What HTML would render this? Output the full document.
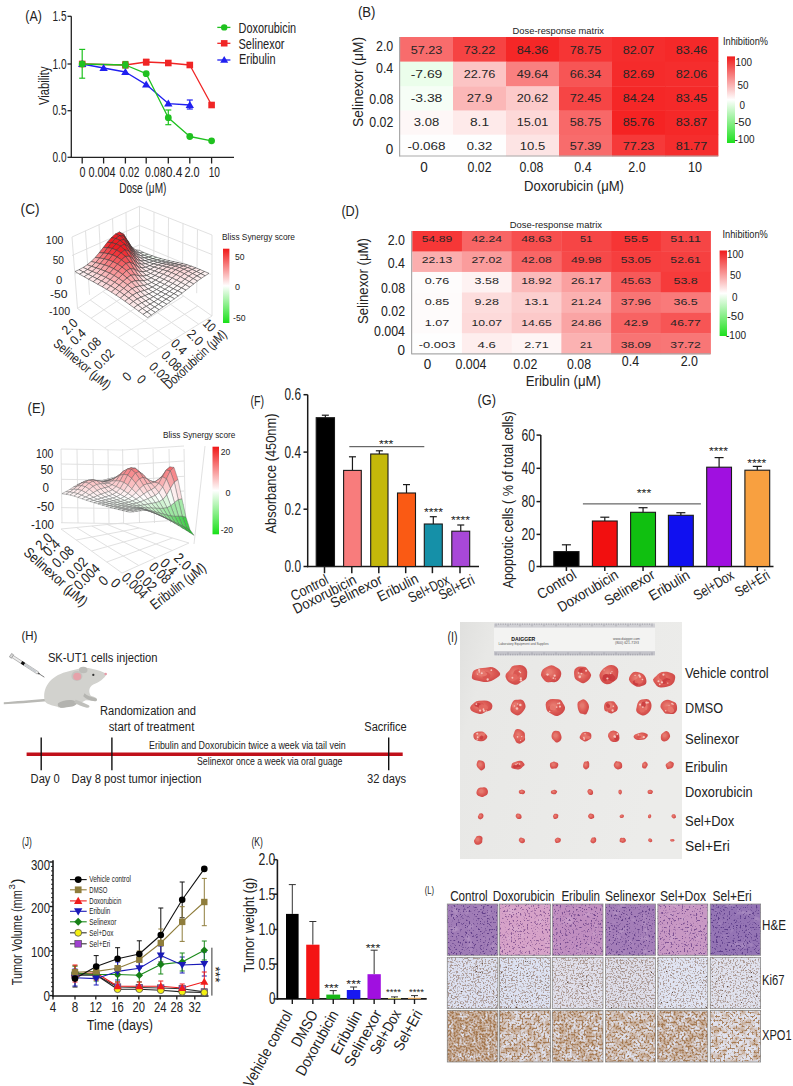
<!DOCTYPE html>
<html><head><meta charset="utf-8"><style>
html,body{margin:0;padding:0;background:#fff;}
svg{display:block;font-family:"Liberation Sans",sans-serif;}
</style></head><body>
<svg width="793" height="1086" viewBox="0 0 793 1086">
<rect width="793" height="1086" fill="#fff"/>
<text x="25.3" y="20.75" font-size="13.81" fill="#222" textLength="16.5" lengthAdjust="spacingAndGlyphs">(A)</text>
<line x1="71.3" y1="16.3" x2="71.3" y2="157.8" stroke="#222" stroke-width="1.3"/>
<line x1="67.5" y1="16.3" x2="71.3" y2="16.3" stroke="#222" stroke-width="1.3"/>
<text x="52.5" y="21.05" font-size="13.81" fill="#222" textLength="14" lengthAdjust="spacingAndGlyphs">1.5</text>
<line x1="67.5" y1="64" x2="71.3" y2="64" stroke="#222" stroke-width="1.3"/>
<text x="52.5" y="68.75" font-size="13.81" fill="#222" textLength="14" lengthAdjust="spacingAndGlyphs">1.0</text>
<line x1="67.5" y1="110.7" x2="71.3" y2="110.7" stroke="#222" stroke-width="1.3"/>
<text x="52.5" y="115.45" font-size="13.81" fill="#222" textLength="14" lengthAdjust="spacingAndGlyphs">0.5</text>
<line x1="67.5" y1="157.3" x2="71.3" y2="157.3" stroke="#222" stroke-width="1.3"/>
<text x="52.5" y="162.05" font-size="13.81" fill="#222" textLength="14" lengthAdjust="spacingAndGlyphs">0.0</text>
<line x1="70.7" y1="157.3" x2="234" y2="157.3" stroke="#222" stroke-width="1.3"/>
<line x1="82.2" y1="157.3" x2="82.2" y2="163.5" stroke="#222" stroke-width="1.3"/>
<line x1="103.6" y1="157.3" x2="103.6" y2="163.5" stroke="#222" stroke-width="1.3"/>
<line x1="125.4" y1="157.3" x2="125.4" y2="163.5" stroke="#222" stroke-width="1.3"/>
<line x1="146.2" y1="157.3" x2="146.2" y2="163.5" stroke="#222" stroke-width="1.3"/>
<line x1="168.3" y1="157.3" x2="168.3" y2="163.5" stroke="#222" stroke-width="1.3"/>
<line x1="189.8" y1="157.3" x2="189.8" y2="163.5" stroke="#222" stroke-width="1.3"/>
<line x1="211.6" y1="157.3" x2="211.6" y2="163.5" stroke="#222" stroke-width="1.3"/>
<text x="79.5" y="177.3" font-size="14.24" fill="#222" textLength="6" lengthAdjust="spacingAndGlyphs">0</text>
<text x="88.4" y="177.3" font-size="14.24" fill="#222" textLength="27.2" lengthAdjust="spacingAndGlyphs">0.004</text>
<text x="119.5" y="177.3" font-size="14.24" fill="#222" textLength="19.9" lengthAdjust="spacingAndGlyphs">0.02</text>
<text x="145.1" y="177.3" font-size="14.24" fill="#222" textLength="20.4" lengthAdjust="spacingAndGlyphs">0.08</text>
<text x="165.8" y="177.3" font-size="14.24" fill="#222" textLength="16.8" lengthAdjust="spacingAndGlyphs">0.4</text>
<text x="184.4" y="177.3" font-size="14.24" fill="#222" textLength="15.2" lengthAdjust="spacingAndGlyphs">2.0</text>
<text x="208.7" y="177.3" font-size="14.24" fill="#222" textLength="11.3" lengthAdjust="spacingAndGlyphs">10</text>
<text x="119.2" y="192.55" font-size="13.81" fill="#222" textLength="47.2" lengthAdjust="spacingAndGlyphs">Dose (μM)</text>
<text x="44.6" y="90.45" font-size="13.81" fill="#222" text-anchor="middle" textLength="38.5" lengthAdjust="spacingAndGlyphs" transform="rotate(-90 44.6 85.7)">Viability</text>
<polyline points="82.2,64 125.4,65 146.2,62 168.3,63 189.8,65 211.6,105" fill="none" stroke="#f02525" stroke-width="1.3" stroke-linejoin="round"/>
<polyline points="82.2,64 103.6,68 125.4,72 146.2,84.6 168.3,103.6 189.8,105" fill="none" stroke="#2020f0" stroke-width="1.3" stroke-linejoin="round"/>
<polyline points="82.2,64 125.4,65 146.2,73.7 168.3,117.7 189.8,136.5 211.6,140.8" fill="none" stroke="#1fc11f" stroke-width="1.3" stroke-linejoin="round"/>
<line x1="82.2" y1="49.4" x2="82.2" y2="78.2" stroke="#1fc11f" stroke-width="1.2"/>
<line x1="79.2" y1="49.4" x2="85.2" y2="49.4" stroke="#1fc11f" stroke-width="1.2"/>
<line x1="79.2" y1="78.2" x2="85.2" y2="78.2" stroke="#1fc11f" stroke-width="1.2"/>
<line x1="125.4" y1="61.5" x2="125.4" y2="68" stroke="#1fc11f" stroke-width="1.2"/>
<line x1="122.4" y1="61.5" x2="128.4" y2="61.5" stroke="#1fc11f" stroke-width="1.2"/>
<line x1="122.4" y1="68" x2="128.4" y2="68" stroke="#1fc11f" stroke-width="1.2"/>
<line x1="146.2" y1="59.5" x2="146.2" y2="65" stroke="#f02525" stroke-width="1.2"/>
<line x1="143.2" y1="59.5" x2="149.2" y2="59.5" stroke="#f02525" stroke-width="1.2"/>
<line x1="143.2" y1="65" x2="149.2" y2="65" stroke="#f02525" stroke-width="1.2"/>
<line x1="189.8" y1="100" x2="189.8" y2="109" stroke="#2020f0" stroke-width="1.2"/>
<line x1="186.8" y1="100" x2="192.8" y2="100" stroke="#2020f0" stroke-width="1.2"/>
<line x1="186.8" y1="109" x2="192.8" y2="109" stroke="#2020f0" stroke-width="1.2"/>
<line x1="168.3" y1="110" x2="168.3" y2="124.7" stroke="#1fc11f" stroke-width="1.2"/>
<line x1="165.3" y1="110" x2="171.3" y2="110" stroke="#1fc11f" stroke-width="1.2"/>
<line x1="165.3" y1="124.7" x2="171.3" y2="124.7" stroke="#1fc11f" stroke-width="1.2"/>
<rect x="78.9" y="60.7" width="6.6" height="6.6" fill="#f02525"/>
<rect x="122.1" y="61.7" width="6.6" height="6.6" fill="#f02525"/>
<rect x="142.9" y="58.7" width="6.6" height="6.6" fill="#f02525"/>
<rect x="165" y="59.7" width="6.6" height="6.6" fill="#f02525"/>
<rect x="186.5" y="61.7" width="6.6" height="6.6" fill="#f02525"/>
<rect x="208.3" y="101.7" width="6.6" height="6.6" fill="#f02525"/>
<polygon points="82.2,60 86.4,67 78,67" fill="#2020f0" stroke="none" stroke-width="1"/>
<polygon points="103.6,64 107.8,71 99.4,71" fill="#2020f0" stroke="none" stroke-width="1"/>
<polygon points="125.4,68 129.6,75 121.2,75" fill="#2020f0" stroke="none" stroke-width="1"/>
<polygon points="146.2,80.6 150.4,87.6 142,87.6" fill="#2020f0" stroke="none" stroke-width="1"/>
<polygon points="168.3,99.6 172.5,106.6 164.1,106.6" fill="#2020f0" stroke="none" stroke-width="1"/>
<polygon points="189.8,101 194,108 185.6,108" fill="#2020f0" stroke="none" stroke-width="1"/>
<circle cx="82.2" cy="64" r="3.4" fill="#1fc11f" stroke="none" stroke-width="1"/>
<circle cx="125.4" cy="65" r="3.4" fill="#1fc11f" stroke="none" stroke-width="1"/>
<circle cx="146.2" cy="73.7" r="3.4" fill="#1fc11f" stroke="none" stroke-width="1"/>
<circle cx="168.3" cy="117.7" r="3.4" fill="#1fc11f" stroke="none" stroke-width="1"/>
<circle cx="189.8" cy="136.5" r="3.4" fill="#1fc11f" stroke="none" stroke-width="1"/>
<circle cx="211.6" cy="140.8" r="3.4" fill="#1fc11f" stroke="none" stroke-width="1"/>
<line x1="217.3" y1="27.4" x2="230.4" y2="27.4" stroke="#1fc11f" stroke-width="1.3"/>
<circle cx="224.2" cy="27.4" r="3.2" fill="#1fc11f" stroke="none" stroke-width="1"/>
<line x1="217.3" y1="43.3" x2="230.4" y2="43.3" stroke="#f02525" stroke-width="1.3"/>
<rect x="220.9" y="40.1" width="6.6" height="6.4" fill="#f02525"/>
<line x1="217.3" y1="60" x2="230.4" y2="60" stroke="#2020f0" stroke-width="1.3"/>
<polygon points="224.2,56 228.2,62.8 220.2,62.8" fill="#2020f0" stroke="none" stroke-width="1"/>
<text x="238.5" y="33.1" font-size="14.24" fill="#222" textLength="57.7" lengthAdjust="spacingAndGlyphs">Doxorubicin</text>
<text x="238.5" y="48.7" font-size="14.24" fill="#222" textLength="46" lengthAdjust="spacingAndGlyphs">Selinexor</text>
<text x="239" y="63.7" font-size="14.24" fill="#222" textLength="36.5" lengthAdjust="spacingAndGlyphs">Eribulin</text>
<text x="358" y="17" font-size="14.53" fill="#222" textLength="17.5" lengthAdjust="spacingAndGlyphs">(B)</text>
<rect x="400" y="37" width="53.4" height="25" fill="#f86c6c"/>
<rect x="453" y="37" width="53.4" height="25" fill="#f64343"/>
<rect x="506" y="37" width="53.4" height="25" fill="#f52727"/>
<rect x="559" y="37" width="53.4" height="25" fill="#f63535"/>
<rect x="612" y="37" width="53.4" height="25" fill="#f52d2d"/>
<rect x="665" y="37" width="53.4" height="25" fill="#f52929"/>
<rect x="400" y="61.6" width="53.4" height="25.1" fill="#ebfeeb"/>
<rect x="453" y="61.6" width="53.4" height="25.1" fill="#fcc4c4"/>
<rect x="506" y="61.6" width="53.4" height="25.1" fill="#f98080"/>
<rect x="559" y="61.6" width="53.4" height="25.1" fill="#f75555"/>
<rect x="612" y="61.6" width="53.4" height="25.1" fill="#f52b2b"/>
<rect x="665" y="61.6" width="53.4" height="25.1" fill="#f52d2d"/>
<rect x="400" y="86.3" width="53.4" height="24.6" fill="#f6fef6"/>
<rect x="453" y="86.3" width="53.4" height="24.6" fill="#fbb7b7"/>
<rect x="506" y="86.3" width="53.4" height="24.6" fill="#fccaca"/>
<rect x="559" y="86.3" width="53.4" height="24.6" fill="#f64545"/>
<rect x="612" y="86.3" width="53.4" height="24.6" fill="#f52727"/>
<rect x="665" y="86.3" width="53.4" height="24.6" fill="#f52929"/>
<rect x="400" y="110.5" width="53.4" height="24.6" fill="#fef7f7"/>
<rect x="453" y="110.5" width="53.4" height="24.6" fill="#feeaea"/>
<rect x="506" y="110.5" width="53.4" height="24.6" fill="#fdd8d8"/>
<rect x="559" y="110.5" width="53.4" height="24.6" fill="#f86868"/>
<rect x="612" y="110.5" width="53.4" height="24.6" fill="#f52323"/>
<rect x="665" y="110.5" width="53.4" height="24.6" fill="#f52828"/>
<rect x="400" y="134.7" width="53.4" height="21.7" fill="#fefefe"/>
<rect x="453" y="134.7" width="53.4" height="21.7" fill="#fefefe"/>
<rect x="506" y="134.7" width="53.4" height="21.7" fill="#fde4e4"/>
<rect x="559" y="134.7" width="53.4" height="21.7" fill="#f86c6c"/>
<rect x="612" y="134.7" width="53.4" height="21.7" fill="#f63939"/>
<rect x="665" y="134.7" width="53.4" height="21.7" fill="#f52d2d"/>
<text x="426.5" y="53.8" font-size="10" fill="#262626" text-anchor="middle" textLength="31.75" lengthAdjust="spacingAndGlyphs">57.23</text>
<text x="479.5" y="53.8" font-size="10" fill="#262626" text-anchor="middle" textLength="31.75" lengthAdjust="spacingAndGlyphs">73.22</text>
<text x="532.5" y="53.8" font-size="10" fill="#262626" text-anchor="middle" textLength="31.75" lengthAdjust="spacingAndGlyphs">84.36</text>
<text x="585.5" y="53.8" font-size="10" fill="#262626" text-anchor="middle" textLength="31.75" lengthAdjust="spacingAndGlyphs">78.75</text>
<text x="638.5" y="53.8" font-size="10" fill="#262626" text-anchor="middle" textLength="31.75" lengthAdjust="spacingAndGlyphs">82.07</text>
<text x="691.5" y="53.8" font-size="10" fill="#262626" text-anchor="middle" textLength="31.75" lengthAdjust="spacingAndGlyphs">83.46</text>
<text x="426.5" y="77.9" font-size="10" fill="#262626" text-anchor="middle" textLength="31.75" lengthAdjust="spacingAndGlyphs">-7.69</text>
<text x="479.5" y="77.9" font-size="10" fill="#262626" text-anchor="middle" textLength="31.75" lengthAdjust="spacingAndGlyphs">22.76</text>
<text x="532.5" y="77.9" font-size="10" fill="#262626" text-anchor="middle" textLength="31.75" lengthAdjust="spacingAndGlyphs">49.64</text>
<text x="585.5" y="77.9" font-size="10" fill="#262626" text-anchor="middle" textLength="31.75" lengthAdjust="spacingAndGlyphs">66.34</text>
<text x="638.5" y="77.9" font-size="10" fill="#262626" text-anchor="middle" textLength="31.75" lengthAdjust="spacingAndGlyphs">82.69</text>
<text x="691.5" y="77.9" font-size="10" fill="#262626" text-anchor="middle" textLength="31.75" lengthAdjust="spacingAndGlyphs">82.06</text>
<text x="426.5" y="102" font-size="10" fill="#262626" text-anchor="middle" textLength="31.75" lengthAdjust="spacingAndGlyphs">-3.38</text>
<text x="479.5" y="102" font-size="10" fill="#262626" text-anchor="middle" textLength="25.4" lengthAdjust="spacingAndGlyphs">27.9</text>
<text x="532.5" y="102" font-size="10" fill="#262626" text-anchor="middle" textLength="31.75" lengthAdjust="spacingAndGlyphs">20.62</text>
<text x="585.5" y="102" font-size="10" fill="#262626" text-anchor="middle" textLength="31.75" lengthAdjust="spacingAndGlyphs">72.45</text>
<text x="638.5" y="102" font-size="10" fill="#262626" text-anchor="middle" textLength="31.75" lengthAdjust="spacingAndGlyphs">84.24</text>
<text x="691.5" y="102" font-size="10" fill="#262626" text-anchor="middle" textLength="31.75" lengthAdjust="spacingAndGlyphs">83.45</text>
<text x="426.5" y="126.1" font-size="10" fill="#262626" text-anchor="middle" textLength="25.4" lengthAdjust="spacingAndGlyphs">3.08</text>
<text x="479.5" y="126.1" font-size="10" fill="#262626" text-anchor="middle" textLength="19.05" lengthAdjust="spacingAndGlyphs">8.1</text>
<text x="532.5" y="126.1" font-size="10" fill="#262626" text-anchor="middle" textLength="31.75" lengthAdjust="spacingAndGlyphs">15.01</text>
<text x="585.5" y="126.1" font-size="10" fill="#262626" text-anchor="middle" textLength="31.75" lengthAdjust="spacingAndGlyphs">58.75</text>
<text x="638.5" y="126.1" font-size="10" fill="#262626" text-anchor="middle" textLength="31.75" lengthAdjust="spacingAndGlyphs">85.76</text>
<text x="691.5" y="126.1" font-size="10" fill="#262626" text-anchor="middle" textLength="31.75" lengthAdjust="spacingAndGlyphs">83.87</text>
<text x="426.5" y="150.2" font-size="10" fill="#262626" text-anchor="middle" textLength="38.1" lengthAdjust="spacingAndGlyphs">-0.068</text>
<text x="479.5" y="150.2" font-size="10" fill="#262626" text-anchor="middle" textLength="25.4" lengthAdjust="spacingAndGlyphs">0.32</text>
<text x="532.5" y="150.2" font-size="10" fill="#262626" text-anchor="middle" textLength="25.4" lengthAdjust="spacingAndGlyphs">10.5</text>
<text x="585.5" y="150.2" font-size="10" fill="#262626" text-anchor="middle" textLength="31.75" lengthAdjust="spacingAndGlyphs">57.39</text>
<text x="638.5" y="150.2" font-size="10" fill="#262626" text-anchor="middle" textLength="31.75" lengthAdjust="spacingAndGlyphs">77.23</text>
<text x="691.5" y="150.2" font-size="10" fill="#262626" text-anchor="middle" textLength="31.75" lengthAdjust="spacingAndGlyphs">81.77</text>
<line x1="399.6" y1="37" x2="399.6" y2="156.5" stroke="#aaa" stroke-width="1.2"/>
<line x1="399.6" y1="156" x2="718" y2="156" stroke="#aaa" stroke-width="1.2"/>
<text x="376" y="51" font-size="15.12" fill="#222" textLength="17.3" lengthAdjust="spacingAndGlyphs">2.0</text>
<text x="376" y="73.2" font-size="15.12" fill="#222" textLength="17.3" lengthAdjust="spacingAndGlyphs">0.4</text>
<text x="369.3" y="103.5" font-size="15.12" fill="#222" textLength="24" lengthAdjust="spacingAndGlyphs">0.08</text>
<text x="369.3" y="126.6" font-size="15.12" fill="#222" textLength="24" lengthAdjust="spacingAndGlyphs">0.02</text>
<text x="385.8" y="154.2" font-size="15.12" fill="#222" textLength="7.5" lengthAdjust="spacingAndGlyphs">0</text>
<text x="420.25" y="172.2" font-size="15.12" fill="#222" textLength="7.5" lengthAdjust="spacingAndGlyphs">0</text>
<text x="467.6" y="172.2" font-size="15.12" fill="#222" textLength="24" lengthAdjust="spacingAndGlyphs">0.02</text>
<text x="519.4" y="172.2" font-size="15.12" fill="#222" textLength="24" lengthAdjust="spacingAndGlyphs">0.08</text>
<text x="574.35" y="172.2" font-size="15.12" fill="#222" textLength="17.3" lengthAdjust="spacingAndGlyphs">0.4</text>
<text x="628.35" y="172.2" font-size="15.12" fill="#222" textLength="17.3" lengthAdjust="spacingAndGlyphs">2.0</text>
<text x="688" y="172.2" font-size="15.12" fill="#222" textLength="14" lengthAdjust="spacingAndGlyphs">10</text>
<text x="524" y="191.1" font-size="14.83" fill="#222" textLength="100" lengthAdjust="spacingAndGlyphs">Doxorubicin (μM)</text>
<text x="357.8" y="87.1" font-size="14.83" fill="#222" text-anchor="middle" textLength="90" lengthAdjust="spacingAndGlyphs" transform="rotate(-90 357.8 82)">Selinexor (μM)</text>
<text x="512.6" y="33.5" font-size="9.59" fill="#222" textLength="91.4" lengthAdjust="spacingAndGlyphs">Dose-response matrix</text>
<text x="723" y="44.5" font-size="10.76" fill="#222" textLength="45" lengthAdjust="spacingAndGlyphs">Inhibition%</text>
<defs><linearGradient id="cbB" x1="0" y1="0" x2="0" y2="1"><stop offset="0" stop-color="#f01c1c"/><stop offset="0.5" stop-color="#ffffff"/><stop offset="1" stop-color="#1ee01e"/></linearGradient></defs>
<rect x="727" y="56.4" width="8" height="86.6" fill="url(#cbB)"/>
<text x="735.4" y="66.1" font-size="11.05" fill="#222" textLength="16.5" lengthAdjust="spacingAndGlyphs">100</text>
<text x="737.5" y="88.8" font-size="11.05" fill="#222" textLength="11" lengthAdjust="spacingAndGlyphs">50</text>
<text x="739.5" y="108.5" font-size="11.05" fill="#222" textLength="5.5" lengthAdjust="spacingAndGlyphs">0</text>
<text x="734.5" y="126.2" font-size="11.05" fill="#222" textLength="16.5" lengthAdjust="spacingAndGlyphs">-50</text>
<text x="734.5" y="143.2" font-size="11.05" fill="#222" textLength="20" lengthAdjust="spacingAndGlyphs">-100</text>
<text x="341.4" y="216.2" font-size="14.53" fill="#222" textLength="17.6" lengthAdjust="spacingAndGlyphs">(D)</text>
<rect x="412.2" y="231" width="50.12" height="20.87" fill="#f63737"/>
<rect x="461.92" y="231" width="50.12" height="20.87" fill="#f86565"/>
<rect x="511.63" y="231" width="50.12" height="20.87" fill="#f74e4e"/>
<rect x="561.35" y="231" width="50.12" height="20.87" fill="#f64545"/>
<rect x="611.07" y="231" width="50.12" height="20.87" fill="#f63535"/>
<rect x="660.78" y="231" width="50.12" height="20.87" fill="#f64545"/>
<rect x="412.2" y="251.47" width="50.12" height="20.87" fill="#fbaeae"/>
<rect x="461.92" y="251.47" width="50.12" height="20.87" fill="#fa9c9c"/>
<rect x="511.63" y="251.47" width="50.12" height="20.87" fill="#f86666"/>
<rect x="561.35" y="251.47" width="50.12" height="20.87" fill="#f64949"/>
<rect x="611.07" y="251.47" width="50.12" height="20.87" fill="#f63e3e"/>
<rect x="660.78" y="251.47" width="50.12" height="20.87" fill="#f64040"/>
<rect x="412.2" y="271.94" width="50.12" height="20.87" fill="#fefcfc"/>
<rect x="461.92" y="271.94" width="50.12" height="20.87" fill="#fef2f2"/>
<rect x="511.63" y="271.94" width="50.12" height="20.87" fill="#fbbaba"/>
<rect x="561.35" y="271.94" width="50.12" height="20.87" fill="#faa0a0"/>
<rect x="611.07" y="271.94" width="50.12" height="20.87" fill="#f75959"/>
<rect x="660.78" y="271.94" width="50.12" height="20.87" fill="#f63b3b"/>
<rect x="412.2" y="292.41" width="50.12" height="20.87" fill="#fefbfb"/>
<rect x="461.92" y="292.41" width="50.12" height="20.87" fill="#fddddd"/>
<rect x="511.63" y="292.41" width="50.12" height="20.87" fill="#fccfcf"/>
<rect x="561.35" y="292.41" width="50.12" height="20.87" fill="#fbb1b1"/>
<rect x="611.07" y="292.41" width="50.12" height="20.87" fill="#f87575"/>
<rect x="660.78" y="292.41" width="50.12" height="20.87" fill="#f97a7a"/>
<rect x="412.2" y="312.88" width="50.12" height="20.87" fill="#fefbfb"/>
<rect x="461.92" y="312.88" width="50.12" height="20.87" fill="#fddada"/>
<rect x="511.63" y="312.88" width="50.12" height="20.87" fill="#fcc9c9"/>
<rect x="561.35" y="312.88" width="50.12" height="20.87" fill="#faa4a4"/>
<rect x="611.07" y="312.88" width="50.12" height="20.87" fill="#f86363"/>
<rect x="660.78" y="312.88" width="50.12" height="20.87" fill="#f75555"/>
<rect x="412.2" y="333.35" width="50.12" height="20.87" fill="#fefefe"/>
<rect x="461.92" y="333.35" width="50.12" height="20.87" fill="#feeeee"/>
<rect x="511.63" y="333.35" width="50.12" height="20.87" fill="#fef5f5"/>
<rect x="561.35" y="333.35" width="50.12" height="20.87" fill="#fbb2b2"/>
<rect x="611.07" y="333.35" width="50.12" height="20.87" fill="#f87474"/>
<rect x="660.78" y="333.35" width="50.12" height="20.87" fill="#f87676"/>
<text x="437.06" y="241.75" font-size="9.86" fill="#262626" text-anchor="middle" textLength="30.5" lengthAdjust="spacingAndGlyphs">54.89</text>
<text x="486.77" y="241.75" font-size="9.86" fill="#262626" text-anchor="middle" textLength="30.5" lengthAdjust="spacingAndGlyphs">42.24</text>
<text x="536.49" y="241.75" font-size="9.86" fill="#262626" text-anchor="middle" textLength="30.5" lengthAdjust="spacingAndGlyphs">48.63</text>
<text x="586.21" y="241.75" font-size="9.86" fill="#262626" text-anchor="middle" textLength="12.2" lengthAdjust="spacingAndGlyphs">51</text>
<text x="635.92" y="241.75" font-size="9.86" fill="#262626" text-anchor="middle" textLength="24.4" lengthAdjust="spacingAndGlyphs">55.5</text>
<text x="685.64" y="241.75" font-size="9.86" fill="#262626" text-anchor="middle" textLength="30.5" lengthAdjust="spacingAndGlyphs">51.11</text>
<text x="437.06" y="262.9" font-size="9.86" fill="#262626" text-anchor="middle" textLength="30.5" lengthAdjust="spacingAndGlyphs">22.13</text>
<text x="486.77" y="262.9" font-size="9.86" fill="#262626" text-anchor="middle" textLength="30.5" lengthAdjust="spacingAndGlyphs">27.02</text>
<text x="536.49" y="262.9" font-size="9.86" fill="#262626" text-anchor="middle" textLength="30.5" lengthAdjust="spacingAndGlyphs">42.08</text>
<text x="586.21" y="262.9" font-size="9.86" fill="#262626" text-anchor="middle" textLength="30.5" lengthAdjust="spacingAndGlyphs">49.98</text>
<text x="635.92" y="262.9" font-size="9.86" fill="#262626" text-anchor="middle" textLength="30.5" lengthAdjust="spacingAndGlyphs">53.05</text>
<text x="685.64" y="262.9" font-size="9.86" fill="#262626" text-anchor="middle" textLength="30.5" lengthAdjust="spacingAndGlyphs">52.61</text>
<text x="437.06" y="284.05" font-size="9.86" fill="#262626" text-anchor="middle" textLength="24.4" lengthAdjust="spacingAndGlyphs">0.76</text>
<text x="486.77" y="284.05" font-size="9.86" fill="#262626" text-anchor="middle" textLength="24.4" lengthAdjust="spacingAndGlyphs">3.58</text>
<text x="536.49" y="284.05" font-size="9.86" fill="#262626" text-anchor="middle" textLength="30.5" lengthAdjust="spacingAndGlyphs">18.92</text>
<text x="586.21" y="284.05" font-size="9.86" fill="#262626" text-anchor="middle" textLength="30.5" lengthAdjust="spacingAndGlyphs">26.17</text>
<text x="635.92" y="284.05" font-size="9.86" fill="#262626" text-anchor="middle" textLength="30.5" lengthAdjust="spacingAndGlyphs">45.63</text>
<text x="685.64" y="284.05" font-size="9.86" fill="#262626" text-anchor="middle" textLength="24.4" lengthAdjust="spacingAndGlyphs">53.8</text>
<text x="437.06" y="305.2" font-size="9.86" fill="#262626" text-anchor="middle" textLength="24.4" lengthAdjust="spacingAndGlyphs">0.85</text>
<text x="486.77" y="305.2" font-size="9.86" fill="#262626" text-anchor="middle" textLength="24.4" lengthAdjust="spacingAndGlyphs">9.28</text>
<text x="536.49" y="305.2" font-size="9.86" fill="#262626" text-anchor="middle" textLength="24.4" lengthAdjust="spacingAndGlyphs">13.1</text>
<text x="586.21" y="305.2" font-size="9.86" fill="#262626" text-anchor="middle" textLength="30.5" lengthAdjust="spacingAndGlyphs">21.24</text>
<text x="635.92" y="305.2" font-size="9.86" fill="#262626" text-anchor="middle" textLength="30.5" lengthAdjust="spacingAndGlyphs">37.96</text>
<text x="685.64" y="305.2" font-size="9.86" fill="#262626" text-anchor="middle" textLength="24.4" lengthAdjust="spacingAndGlyphs">36.5</text>
<text x="437.06" y="326.35" font-size="9.86" fill="#262626" text-anchor="middle" textLength="24.4" lengthAdjust="spacingAndGlyphs">1.07</text>
<text x="486.77" y="326.35" font-size="9.86" fill="#262626" text-anchor="middle" textLength="30.5" lengthAdjust="spacingAndGlyphs">10.07</text>
<text x="536.49" y="326.35" font-size="9.86" fill="#262626" text-anchor="middle" textLength="30.5" lengthAdjust="spacingAndGlyphs">14.65</text>
<text x="586.21" y="326.35" font-size="9.86" fill="#262626" text-anchor="middle" textLength="30.5" lengthAdjust="spacingAndGlyphs">24.86</text>
<text x="635.92" y="326.35" font-size="9.86" fill="#262626" text-anchor="middle" textLength="24.4" lengthAdjust="spacingAndGlyphs">42.9</text>
<text x="685.64" y="326.35" font-size="9.86" fill="#262626" text-anchor="middle" textLength="30.5" lengthAdjust="spacingAndGlyphs">46.77</text>
<text x="437.06" y="347.5" font-size="9.86" fill="#262626" text-anchor="middle" textLength="36.6" lengthAdjust="spacingAndGlyphs">-0.003</text>
<text x="486.77" y="347.5" font-size="9.86" fill="#262626" text-anchor="middle" textLength="18.3" lengthAdjust="spacingAndGlyphs">4.6</text>
<text x="536.49" y="347.5" font-size="9.86" fill="#262626" text-anchor="middle" textLength="24.4" lengthAdjust="spacingAndGlyphs">2.71</text>
<text x="586.21" y="347.5" font-size="9.86" fill="#262626" text-anchor="middle" textLength="12.2" lengthAdjust="spacingAndGlyphs">21</text>
<text x="635.92" y="347.5" font-size="9.86" fill="#262626" text-anchor="middle" textLength="30.5" lengthAdjust="spacingAndGlyphs">38.09</text>
<text x="685.64" y="347.5" font-size="9.86" fill="#262626" text-anchor="middle" textLength="30.5" lengthAdjust="spacingAndGlyphs">37.72</text>
<line x1="411.6" y1="231" x2="411.6" y2="354.3" stroke="#aaa" stroke-width="1.2"/>
<line x1="411.6" y1="353.8" x2="710.5" y2="353.8" stroke="#aaa" stroke-width="1.2"/>
<text x="387.7" y="245.4" font-size="15.12" fill="#222" textLength="17.3" lengthAdjust="spacingAndGlyphs">2.0</text>
<text x="387.7" y="267.6" font-size="15.12" fill="#222" textLength="17.3" lengthAdjust="spacingAndGlyphs">0.4</text>
<text x="381" y="292.6" font-size="15.12" fill="#222" textLength="24" lengthAdjust="spacingAndGlyphs">0.08</text>
<text x="381" y="316" font-size="15.12" fill="#222" textLength="24" lengthAdjust="spacingAndGlyphs">0.02</text>
<text x="374" y="336.2" font-size="15.12" fill="#222" textLength="31" lengthAdjust="spacingAndGlyphs">0.004</text>
<text x="397.5" y="354.8" font-size="15.12" fill="#222" textLength="7.5" lengthAdjust="spacingAndGlyphs">0</text>
<text x="423.65" y="368.7" font-size="15.12" fill="#222" textLength="7.5" lengthAdjust="spacingAndGlyphs">0</text>
<text x="455.5" y="368.7" font-size="15.12" fill="#222" textLength="31" lengthAdjust="spacingAndGlyphs">0.004</text>
<text x="513.3" y="368.7" font-size="15.12" fill="#222" textLength="24" lengthAdjust="spacingAndGlyphs">0.02</text>
<text x="567" y="368.7" font-size="15.12" fill="#222" textLength="24" lengthAdjust="spacingAndGlyphs">0.08</text>
<text x="621.85" y="365.7" font-size="15.12" fill="#222" textLength="17.3" lengthAdjust="spacingAndGlyphs">0.4</text>
<text x="680.65" y="365.7" font-size="15.12" fill="#222" textLength="17.3" lengthAdjust="spacingAndGlyphs">2.0</text>
<text x="525.7" y="386.1" font-size="14.83" fill="#222" textLength="75.3" lengthAdjust="spacingAndGlyphs">Eribulin (μM)</text>
<text x="362.9" y="286.1" font-size="14.83" fill="#222" text-anchor="middle" textLength="86" lengthAdjust="spacingAndGlyphs" transform="rotate(-90 362.9 281)">Selinexor (μM)</text>
<text x="509.8" y="227.7" font-size="9.59" fill="#222" textLength="92.2" lengthAdjust="spacingAndGlyphs">Dose-response matrix</text>
<text x="722.5" y="237.7" font-size="10.76" fill="#222" textLength="45.3" lengthAdjust="spacingAndGlyphs">Inhibition%</text>
<defs><linearGradient id="cbD" x1="0" y1="0" x2="0" y2="1"><stop offset="0" stop-color="#f01c1c"/><stop offset="0.5" stop-color="#ffffff"/><stop offset="1" stop-color="#1ee01e"/></linearGradient></defs>
<rect x="719.6" y="250.5" width="7.4" height="85.5" fill="url(#cbD)"/>
<text x="727" y="258.2" font-size="11.05" fill="#222" textLength="16.5" lengthAdjust="spacingAndGlyphs">100</text>
<text x="730" y="278.8" font-size="11.05" fill="#222" textLength="11" lengthAdjust="spacingAndGlyphs">50</text>
<text x="732" y="301.1" font-size="11.05" fill="#222" textLength="5.5" lengthAdjust="spacingAndGlyphs">0</text>
<text x="727" y="319.7" font-size="11.05" fill="#222" textLength="16.5" lengthAdjust="spacingAndGlyphs">-50</text>
<text x="726" y="338.5" font-size="11.05" fill="#222" textLength="20" lengthAdjust="spacingAndGlyphs">-100</text>
<text x="250.5" y="405.75" font-size="13.81" fill="#222" textLength="13.7" lengthAdjust="spacingAndGlyphs">(F)</text>
<line x1="307.7" y1="394.7" x2="307.7" y2="567.2" stroke="#1a1a1a" stroke-width="1.5"/>
<line x1="303.5" y1="394.7" x2="307.7" y2="394.7" stroke="#1a1a1a" stroke-width="1.5"/>
<text x="284.5" y="400.1" font-size="15.7" fill="#222" textLength="16.5" lengthAdjust="spacingAndGlyphs">0.6</text>
<line x1="303.5" y1="452.1" x2="307.7" y2="452.1" stroke="#1a1a1a" stroke-width="1.5"/>
<text x="284.5" y="457.5" font-size="15.7" fill="#222" textLength="16.5" lengthAdjust="spacingAndGlyphs">0.4</text>
<line x1="303.5" y1="509.2" x2="307.7" y2="509.2" stroke="#1a1a1a" stroke-width="1.5"/>
<text x="284.5" y="514.6" font-size="15.7" fill="#222" textLength="16.5" lengthAdjust="spacingAndGlyphs">0.2</text>
<line x1="303.5" y1="566.5" x2="307.7" y2="566.5" stroke="#1a1a1a" stroke-width="1.5"/>
<text x="284.5" y="571.9" font-size="15.7" fill="#222" textLength="16.5" lengthAdjust="spacingAndGlyphs">0.0</text>
<line x1="307" y1="566.5" x2="479" y2="566.5" stroke="#1a1a1a" stroke-width="1.5"/>
<line x1="325.35" y1="417.7" x2="325.35" y2="415.2" stroke="#1a1a1a" stroke-width="1.2"/>
<line x1="321.85" y1="415.2" x2="328.85" y2="415.2" stroke="#1a1a1a" stroke-width="1.2"/>
<rect x="316.2" y="417.7" width="18.3" height="148.8" fill="#000000" stroke="#1a1a1a" stroke-width="1.1"/>
<line x1="352.45" y1="470.4" x2="352.45" y2="456.8" stroke="#1a1a1a" stroke-width="1.2"/>
<line x1="348.95" y1="456.8" x2="355.95" y2="456.8" stroke="#1a1a1a" stroke-width="1.2"/>
<rect x="343.6" y="470.4" width="17.7" height="96.1" fill="#f87c7c" stroke="#1a1a1a" stroke-width="1.1"/>
<line x1="379.35" y1="454" x2="379.35" y2="450.8" stroke="#1a1a1a" stroke-width="1.2"/>
<line x1="375.85" y1="450.8" x2="382.85" y2="450.8" stroke="#1a1a1a" stroke-width="1.2"/>
<rect x="370.7" y="454" width="17.3" height="112.5" fill="#c4b80a" stroke="#1a1a1a" stroke-width="1.1"/>
<line x1="406.5" y1="493" x2="406.5" y2="484.6" stroke="#1a1a1a" stroke-width="1.2"/>
<line x1="403" y1="484.6" x2="410" y2="484.6" stroke="#1a1a1a" stroke-width="1.2"/>
<rect x="397.5" y="493" width="18" height="73.5" fill="#fa5a14" stroke="#1a1a1a" stroke-width="1.1"/>
<line x1="433.3" y1="524" x2="433.3" y2="516.7" stroke="#1a1a1a" stroke-width="1.2"/>
<line x1="429.8" y1="516.7" x2="436.8" y2="516.7" stroke="#1a1a1a" stroke-width="1.2"/>
<rect x="424.3" y="524" width="18" height="42.5" fill="#1590a8" stroke="#1a1a1a" stroke-width="1.1"/>
<line x1="460.75" y1="531.2" x2="460.75" y2="525" stroke="#1a1a1a" stroke-width="1.2"/>
<line x1="457.25" y1="525" x2="464.25" y2="525" stroke="#1a1a1a" stroke-width="1.2"/>
<rect x="451.8" y="531.2" width="17.9" height="35.3" fill="#a848d8" stroke="#1a1a1a" stroke-width="1.1"/>
<line x1="324.5" y1="566.5" x2="324.5" y2="573.2" stroke="#1a1a1a" stroke-width="1.5"/>
<line x1="351.8" y1="566.5" x2="351.8" y2="573.2" stroke="#1a1a1a" stroke-width="1.5"/>
<line x1="378.8" y1="566.5" x2="378.8" y2="573.2" stroke="#1a1a1a" stroke-width="1.5"/>
<line x1="405.7" y1="566.5" x2="405.7" y2="573.2" stroke="#1a1a1a" stroke-width="1.5"/>
<line x1="432.4" y1="566.5" x2="432.4" y2="573.2" stroke="#1a1a1a" stroke-width="1.5"/>
<line x1="460" y1="566.5" x2="460" y2="573.2" stroke="#1a1a1a" stroke-width="1.5"/>
<line x1="349.3" y1="446.7" x2="424.3" y2="446.7" stroke="#444" stroke-width="1"/>
<text x="386.2" y="448.05" font-size="11.5" fill="#222" text-anchor="middle" textLength="14.5" lengthAdjust="spacingAndGlyphs">***</text>
<text x="433.5" y="516.45" font-size="11.5" fill="#222" text-anchor="middle" textLength="19" lengthAdjust="spacingAndGlyphs">****</text>
<text x="460.6" y="524.05" font-size="11.5" fill="#222" text-anchor="middle" textLength="19" lengthAdjust="spacingAndGlyphs">****</text>
<text x="270.5" y="478.5" font-size="14.53" fill="#222" text-anchor="middle" textLength="120" lengthAdjust="spacingAndGlyphs" transform="rotate(-90 270.5 473.5)">Absorbance (450nm)</text>
<text x="329.5" y="583" font-size="14.53" fill="#222" text-anchor="end" textLength="40" lengthAdjust="spacingAndGlyphs" transform="rotate(-27 329.5 583)">Control</text>
<text x="357.5" y="583" font-size="14.53" fill="#222" text-anchor="end" textLength="69" lengthAdjust="spacingAndGlyphs" transform="rotate(-27 357.5 583)">Doxorubicin</text>
<text x="383.5" y="583" font-size="14.53" fill="#222" text-anchor="end" textLength="56" lengthAdjust="spacingAndGlyphs" transform="rotate(-27 383.5 583)">Selinexor</text>
<text x="419.5" y="582" font-size="14.53" fill="#222" text-anchor="end" textLength="44" lengthAdjust="spacingAndGlyphs" transform="rotate(-27 419.5 582)">Eribulin</text>
<text x="450.5" y="583" font-size="14.53" fill="#222" text-anchor="end" textLength="44" lengthAdjust="spacingAndGlyphs" transform="rotate(-27 450.5 583)">Sel+Dox</text>
<text x="475.5" y="583" font-size="14.53" fill="#222" text-anchor="end" textLength="38" lengthAdjust="spacingAndGlyphs" transform="rotate(-27 475.5 583)">Sel+Eri</text>
<text x="477.6" y="404.75" font-size="13.81" fill="#222" textLength="18.4" lengthAdjust="spacingAndGlyphs">(G)</text>
<line x1="540.8" y1="435.1" x2="540.8" y2="567.2" stroke="#1a1a1a" stroke-width="1.5"/>
<line x1="536.5" y1="435.1" x2="540.8" y2="435.1" stroke="#1a1a1a" stroke-width="1.5"/>
<text x="521.5" y="440.5" font-size="15.7" fill="#222" textLength="13.5" lengthAdjust="spacingAndGlyphs">60</text>
<line x1="536.5" y1="468.3" x2="540.8" y2="468.3" stroke="#1a1a1a" stroke-width="1.5"/>
<text x="521.5" y="473.7" font-size="15.7" fill="#222" textLength="13.5" lengthAdjust="spacingAndGlyphs">40</text>
<line x1="536.5" y1="501.6" x2="540.8" y2="501.6" stroke="#1a1a1a" stroke-width="1.5"/>
<text x="521.5" y="507" font-size="15.7" fill="#222" textLength="13.5" lengthAdjust="spacingAndGlyphs">80</text>
<line x1="536.5" y1="534.4" x2="540.8" y2="534.4" stroke="#1a1a1a" stroke-width="1.5"/>
<text x="521.5" y="539.8" font-size="15.7" fill="#222" textLength="13.5" lengthAdjust="spacingAndGlyphs">20</text>
<line x1="536.5" y1="566.5" x2="540.8" y2="566.5" stroke="#1a1a1a" stroke-width="1.5"/>
<text x="528.2" y="571.9" font-size="15.7" fill="#222" textLength="6.8" lengthAdjust="spacingAndGlyphs">0</text>
<line x1="540" y1="566.5" x2="773.5" y2="566.5" stroke="#1a1a1a" stroke-width="1.5"/>
<line x1="566.4" y1="551.6" x2="566.4" y2="544.8" stroke="#1a1a1a" stroke-width="1.2"/>
<line x1="561.9" y1="544.8" x2="570.9" y2="544.8" stroke="#1a1a1a" stroke-width="1.2"/>
<rect x="553.8" y="551.6" width="25.2" height="14.9" fill="#000000" stroke="#1a1a1a" stroke-width="1.1"/>
<line x1="566.4" y1="566.5" x2="566.4" y2="571" stroke="#1a1a1a" stroke-width="1.5"/>
<line x1="604.8" y1="521" x2="604.8" y2="517.2" stroke="#1a1a1a" stroke-width="1.2"/>
<line x1="600.3" y1="517.2" x2="609.3" y2="517.2" stroke="#1a1a1a" stroke-width="1.2"/>
<rect x="592.4" y="521" width="24.8" height="45.5" fill="#f20f0f" stroke="#1a1a1a" stroke-width="1.1"/>
<line x1="604.8" y1="566.5" x2="604.8" y2="571" stroke="#1a1a1a" stroke-width="1.5"/>
<line x1="643.05" y1="512.3" x2="643.05" y2="507.7" stroke="#1a1a1a" stroke-width="1.2"/>
<line x1="638.55" y1="507.7" x2="647.55" y2="507.7" stroke="#1a1a1a" stroke-width="1.2"/>
<rect x="630.6" y="512.3" width="24.9" height="54.2" fill="#10c010" stroke="#1a1a1a" stroke-width="1.1"/>
<line x1="643.05" y1="566.5" x2="643.05" y2="571" stroke="#1a1a1a" stroke-width="1.5"/>
<line x1="680.85" y1="515.3" x2="680.85" y2="512.7" stroke="#1a1a1a" stroke-width="1.2"/>
<line x1="676.35" y1="512.7" x2="685.35" y2="512.7" stroke="#1a1a1a" stroke-width="1.2"/>
<rect x="668.4" y="515.3" width="24.9" height="51.2" fill="#1010f0" stroke="#1a1a1a" stroke-width="1.1"/>
<line x1="680.85" y1="566.5" x2="680.85" y2="571" stroke="#1a1a1a" stroke-width="1.5"/>
<line x1="719.1" y1="467.2" x2="719.1" y2="457.6" stroke="#1a1a1a" stroke-width="1.2"/>
<line x1="714.6" y1="457.6" x2="723.6" y2="457.6" stroke="#1a1a1a" stroke-width="1.2"/>
<rect x="706.7" y="467.2" width="24.8" height="99.3" fill="#a010e0" stroke="#1a1a1a" stroke-width="1.1"/>
<line x1="719.1" y1="566.5" x2="719.1" y2="571" stroke="#1a1a1a" stroke-width="1.5"/>
<line x1="757.3" y1="470.2" x2="757.3" y2="466.4" stroke="#1a1a1a" stroke-width="1.2"/>
<line x1="752.8" y1="466.4" x2="761.8" y2="466.4" stroke="#1a1a1a" stroke-width="1.2"/>
<rect x="744.9" y="470.2" width="24.8" height="96.3" fill="#f8a040" stroke="#1a1a1a" stroke-width="1.1"/>
<line x1="757.3" y1="566.5" x2="757.3" y2="571" stroke="#1a1a1a" stroke-width="1.5"/>
<line x1="582.9" y1="503.9" x2="700.9" y2="503.9" stroke="#444" stroke-width="1"/>
<text x="644" y="497.05" font-size="11.5" fill="#222" text-anchor="middle" textLength="14.5" lengthAdjust="spacingAndGlyphs">***</text>
<text x="718.5" y="454.95" font-size="11.5" fill="#222" text-anchor="middle" textLength="19" lengthAdjust="spacingAndGlyphs">****</text>
<text x="756.7" y="467.25" font-size="11.5" fill="#222" text-anchor="middle" textLength="19" lengthAdjust="spacingAndGlyphs">****</text>
<text x="508" y="504.8" font-size="14.53" fill="#222" text-anchor="middle" textLength="177" lengthAdjust="spacingAndGlyphs" transform="rotate(-90 508 499.8)">Apoptotic cells ( % of total cells)</text>
<text x="577.5" y="577.5" font-size="14.53" fill="#222" text-anchor="end" textLength="43" lengthAdjust="spacingAndGlyphs" transform="rotate(-31 577.5 577.5)">Control</text>
<text x="619.5" y="577.5" font-size="14.53" fill="#222" text-anchor="end" textLength="68" lengthAdjust="spacingAndGlyphs" transform="rotate(-31 619.5 577.5)">Doxorubicin</text>
<text x="656" y="577.5" font-size="14.53" fill="#222" text-anchor="end" textLength="56" lengthAdjust="spacingAndGlyphs" transform="rotate(-31 656 577.5)">Selinexor</text>
<text x="691" y="578" font-size="14.53" fill="#222" text-anchor="end" textLength="45" lengthAdjust="spacingAndGlyphs" transform="rotate(-31 691 578)">Eribulin</text>
<text x="735" y="578" font-size="14.53" fill="#222" text-anchor="end" textLength="44" lengthAdjust="spacingAndGlyphs" transform="rotate(-31 735 578)">Sel+Dox</text>
<text x="771" y="578" font-size="14.53" fill="#222" text-anchor="end" textLength="38" lengthAdjust="spacingAndGlyphs" transform="rotate(-31 771 578)">Sel+Eri</text>
<text x="21.4" y="639.85" font-size="12.35" fill="#222" textLength="15.9" lengthAdjust="spacingAndGlyphs">(H)</text>
<text x="47.9" y="662" font-size="13.08" fill="#222" textLength="109.7" lengthAdjust="spacingAndGlyphs">SK-UT1 cells injection</text>
<g transform="translate(0 620) scale(0.2522)">
<path d="M15 326 C 60 322, 120 318, 185 312 L 186 322 C 120 328, 60 332, 15 334 Z" fill="#b9b9b5"/>
<path d="M178 322 C 165 270, 200 222, 262 206 C 300 196, 330 186, 360 192 C 390 198, 410 205, 422 214 C 415 232, 395 245, 370 256 C 352 266, 350 285, 360 300 L 372 304 C 385 308, 388 318, 378 320 L 340 318 C 320 330, 300 338, 270 338 L 262 345 C 250 350, 235 350, 228 344 C 205 338, 185 334, 178 322 Z" fill="#d2d2ce"/>
<path d="M230 330 C 245 318, 280 312, 300 322 C 310 330, 300 342, 280 344 L 250 348 C 236 350, 226 342, 230 330 Z" fill="#b3b3af"/>
<path d="M335 290 C 345 300, 362 305, 380 310 C 388 314, 386 322, 376 322 C 358 320, 342 314, 330 302 Z" fill="#b5b5b1"/>
<path d="M300 316 C 318 322, 335 330, 352 338 C 358 342, 354 350, 344 348 C 326 344, 306 336, 294 326 Z" fill="#c0c0bc"/>
<ellipse cx="330" cy="198" rx="17" ry="13" fill="#bdbdb9"/>
<ellipse cx="305" cy="222" rx="22" ry="20" fill="#c4c4c0"/>
<ellipse cx="306" cy="224" rx="16" ry="15" fill="#e6a2aa"/>
<circle cx="370" cy="218" r="4.5" fill="#333"/>
<circle cx="419" cy="214" r="5" fill="#e89aa8"/>
</g>
<g transform="translate(0 620) scale(0.2522)">
<g transform="rotate(33 50 145)">
<rect x="40" y="137" width="10" height="16" fill="#d8d8d8" stroke="#777" stroke-width="2"/>
<rect x="50" y="140" width="120" height="10" fill="#ececec" stroke="#888" stroke-width="2"/>
<rect x="92" y="139" width="14" height="12" fill="#111"/>
<rect x="106" y="141" width="55" height="8" fill="#c8ccd0"/>
<rect x="170" y="142" width="8" height="6" fill="#555"/>
<line x1="178" y1="145" x2="200" y2="145" stroke="#444" stroke-width="2.5"/>
</g></g>
<text x="100" y="715.2" font-size="13.08" fill="#222" textLength="96" lengthAdjust="spacingAndGlyphs">Randomization and</text>
<text x="108.7" y="731.4" font-size="13.08" fill="#222" textLength="85.6" lengthAdjust="spacingAndGlyphs">start of treatment</text>
<text x="364.3" y="731.4" font-size="13.08" fill="#222" textLength="42.4" lengthAdjust="spacingAndGlyphs">Sacrifice</text>
<line x1="26.6" y1="754.3" x2="402.7" y2="754.3" stroke="#c0101a" stroke-width="3.4"/>
<line x1="41.2" y1="737.5" x2="41.2" y2="770.3" stroke="#111" stroke-width="1.4"/>
<line x1="111.9" y1="737.5" x2="111.9" y2="770.3" stroke="#111" stroke-width="1.4"/>
<line x1="388.7" y1="737.5" x2="388.7" y2="770.3" stroke="#111" stroke-width="1.4"/>
<text x="149" y="749.3" font-size="10.47" fill="#222" textLength="196.8" lengthAdjust="spacingAndGlyphs">Eribulin and Doxorubicin twice a week via tail vein</text>
<text x="197" y="764.6" font-size="10.47" fill="#222" textLength="145.4" lengthAdjust="spacingAndGlyphs">Selinexor once a week via oral guage</text>
<text x="30.6" y="782.5" font-size="13.08" fill="#222" textLength="29.1" lengthAdjust="spacingAndGlyphs">Day 0</text>
<text x="71.6" y="782.5" font-size="13.08" fill="#222" textLength="129.8" lengthAdjust="spacingAndGlyphs">Day 8 post tumor injection</text>
<text x="367" y="782.5" font-size="13.08" fill="#222" textLength="39.2" lengthAdjust="spacingAndGlyphs">32 days</text>
<text x="21.9" y="845.75" font-size="12.35" fill="#222" textLength="9.9" lengthAdjust="spacingAndGlyphs">(J)</text>
<line x1="53" y1="860.3" x2="53" y2="996.8" stroke="#1a1a1a" stroke-width="1.6"/>
<line x1="49.5" y1="995.6" x2="53" y2="995.6" stroke="#1a1a1a" stroke-width="1.4"/>
<line x1="51" y1="991.15" x2="53" y2="991.15" stroke="#1a1a1a" stroke-width="0.9"/>
<line x1="51" y1="986.69" x2="53" y2="986.69" stroke="#1a1a1a" stroke-width="0.9"/>
<line x1="51" y1="982.24" x2="53" y2="982.24" stroke="#1a1a1a" stroke-width="0.9"/>
<line x1="51" y1="977.79" x2="53" y2="977.79" stroke="#1a1a1a" stroke-width="0.9"/>
<line x1="51" y1="973.33" x2="53" y2="973.33" stroke="#1a1a1a" stroke-width="0.9"/>
<line x1="51" y1="968.88" x2="53" y2="968.88" stroke="#1a1a1a" stroke-width="0.9"/>
<line x1="51" y1="964.43" x2="53" y2="964.43" stroke="#1a1a1a" stroke-width="0.9"/>
<line x1="51" y1="959.97" x2="53" y2="959.97" stroke="#1a1a1a" stroke-width="0.9"/>
<line x1="51" y1="955.52" x2="53" y2="955.52" stroke="#1a1a1a" stroke-width="0.9"/>
<line x1="49.5" y1="951.07" x2="53" y2="951.07" stroke="#1a1a1a" stroke-width="1.4"/>
<line x1="51" y1="946.61" x2="53" y2="946.61" stroke="#1a1a1a" stroke-width="0.9"/>
<line x1="51" y1="942.16" x2="53" y2="942.16" stroke="#1a1a1a" stroke-width="0.9"/>
<line x1="51" y1="937.71" x2="53" y2="937.71" stroke="#1a1a1a" stroke-width="0.9"/>
<line x1="51" y1="933.25" x2="53" y2="933.25" stroke="#1a1a1a" stroke-width="0.9"/>
<line x1="51" y1="928.8" x2="53" y2="928.8" stroke="#1a1a1a" stroke-width="0.9"/>
<line x1="51" y1="924.35" x2="53" y2="924.35" stroke="#1a1a1a" stroke-width="0.9"/>
<line x1="51" y1="919.89" x2="53" y2="919.89" stroke="#1a1a1a" stroke-width="0.9"/>
<line x1="51" y1="915.44" x2="53" y2="915.44" stroke="#1a1a1a" stroke-width="0.9"/>
<line x1="51" y1="910.99" x2="53" y2="910.99" stroke="#1a1a1a" stroke-width="0.9"/>
<line x1="49.5" y1="906.53" x2="53" y2="906.53" stroke="#1a1a1a" stroke-width="1.4"/>
<line x1="51" y1="902.08" x2="53" y2="902.08" stroke="#1a1a1a" stroke-width="0.9"/>
<line x1="51" y1="897.63" x2="53" y2="897.63" stroke="#1a1a1a" stroke-width="0.9"/>
<line x1="51" y1="893.17" x2="53" y2="893.17" stroke="#1a1a1a" stroke-width="0.9"/>
<line x1="51" y1="888.72" x2="53" y2="888.72" stroke="#1a1a1a" stroke-width="0.9"/>
<line x1="51" y1="884.27" x2="53" y2="884.27" stroke="#1a1a1a" stroke-width="0.9"/>
<line x1="51" y1="879.81" x2="53" y2="879.81" stroke="#1a1a1a" stroke-width="0.9"/>
<line x1="51" y1="875.36" x2="53" y2="875.36" stroke="#1a1a1a" stroke-width="0.9"/>
<line x1="51" y1="870.91" x2="53" y2="870.91" stroke="#1a1a1a" stroke-width="0.9"/>
<line x1="51" y1="866.45" x2="53" y2="866.45" stroke="#1a1a1a" stroke-width="0.9"/>
<line x1="49.5" y1="862" x2="53" y2="862" stroke="#1a1a1a" stroke-width="1.4"/>
<text x="31" y="869.5" font-size="14.53" fill="#222" textLength="19" lengthAdjust="spacingAndGlyphs">300</text>
<text x="31" y="912.5" font-size="14.53" fill="#222" textLength="19" lengthAdjust="spacingAndGlyphs">200</text>
<text x="31" y="956.5" font-size="14.53" fill="#222" textLength="19" lengthAdjust="spacingAndGlyphs">100</text>
<text x="43.5" y="1000.6" font-size="14.53" fill="#222" textLength="6.5" lengthAdjust="spacingAndGlyphs">0</text>
<line x1="52.4" y1="996" x2="208.5" y2="996" stroke="#1a1a1a" stroke-width="1.6"/>
<line x1="53" y1="996" x2="53" y2="999.5" stroke="#1a1a1a" stroke-width="1.3"/>
<text x="49.75" y="1011.5" font-size="14.53" fill="#222" textLength="6.5" lengthAdjust="spacingAndGlyphs">4</text>
<line x1="75" y1="996" x2="75" y2="999.5" stroke="#1a1a1a" stroke-width="1.3"/>
<text x="71.75" y="1011.5" font-size="14.53" fill="#222" textLength="6.5" lengthAdjust="spacingAndGlyphs">8</text>
<line x1="95.8" y1="996" x2="95.8" y2="999.5" stroke="#1a1a1a" stroke-width="1.3"/>
<text x="89.55" y="1011.5" font-size="14.53" fill="#222" textLength="12.5" lengthAdjust="spacingAndGlyphs">12</text>
<line x1="117.4" y1="996" x2="117.4" y2="999.5" stroke="#1a1a1a" stroke-width="1.3"/>
<text x="111.15" y="1011.5" font-size="14.53" fill="#222" textLength="12.5" lengthAdjust="spacingAndGlyphs">16</text>
<line x1="138.8" y1="996" x2="138.8" y2="999.5" stroke="#1a1a1a" stroke-width="1.3"/>
<text x="132.55" y="1011.5" font-size="14.53" fill="#222" textLength="12.5" lengthAdjust="spacingAndGlyphs">20</text>
<line x1="160.2" y1="996" x2="160.2" y2="999.5" stroke="#1a1a1a" stroke-width="1.3"/>
<text x="153.95" y="1011.5" font-size="14.53" fill="#222" textLength="12.5" lengthAdjust="spacingAndGlyphs">24</text>
<line x1="176.8" y1="996" x2="176.8" y2="999.5" stroke="#1a1a1a" stroke-width="1.3"/>
<text x="170.55" y="1011.5" font-size="14.53" fill="#222" textLength="12.5" lengthAdjust="spacingAndGlyphs">28</text>
<line x1="194.8" y1="996" x2="194.8" y2="999.5" stroke="#1a1a1a" stroke-width="1.3"/>
<text x="188.55" y="1011.5" font-size="14.53" fill="#222" textLength="12.5" lengthAdjust="spacingAndGlyphs">32</text>
<text x="86.7" y="1030.1" font-size="14.83" fill="#222" textLength="66.2" lengthAdjust="spacingAndGlyphs">Time (days)</text>
<g transform="rotate(-90 17.3 930)">
<text x="-38" y="935" font-size="14.8" fill="#222" textLength="95" lengthAdjust="spacingAndGlyphs">Tumor Volume (mm</text>
<text x="57.8" y="928" font-size="9.5" fill="#222" textLength="5.5" lengthAdjust="spacingAndGlyphs">3</text>
<text x="63.8" y="935" font-size="14.8" fill="#222" textLength="5" lengthAdjust="spacingAndGlyphs">)</text>
</g>
<line x1="75" y1="970" x2="75" y2="987" stroke="#111" stroke-width="1"/>
<line x1="72.5" y1="970" x2="77.5" y2="970" stroke="#111" stroke-width="1"/>
<line x1="72.5" y1="987" x2="77.5" y2="987" stroke="#111" stroke-width="1"/>
<line x1="96.2" y1="955.6" x2="96.2" y2="979" stroke="#111" stroke-width="1"/>
<line x1="93.7" y1="955.6" x2="98.7" y2="955.6" stroke="#111" stroke-width="1"/>
<line x1="93.7" y1="979" x2="98.7" y2="979" stroke="#111" stroke-width="1"/>
<line x1="117.6" y1="947.7" x2="117.6" y2="971.4" stroke="#111" stroke-width="1"/>
<line x1="115.1" y1="947.7" x2="120.1" y2="947.7" stroke="#111" stroke-width="1"/>
<line x1="115.1" y1="971.4" x2="120.1" y2="971.4" stroke="#111" stroke-width="1"/>
<line x1="139.3" y1="940.8" x2="139.3" y2="966.6" stroke="#111" stroke-width="1"/>
<line x1="136.8" y1="940.8" x2="141.8" y2="940.8" stroke="#111" stroke-width="1"/>
<line x1="136.8" y1="966.6" x2="141.8" y2="966.6" stroke="#111" stroke-width="1"/>
<line x1="160.8" y1="908" x2="160.8" y2="962" stroke="#111" stroke-width="1"/>
<line x1="158.3" y1="908" x2="163.3" y2="908" stroke="#111" stroke-width="1"/>
<line x1="158.3" y1="962" x2="163.3" y2="962" stroke="#111" stroke-width="1"/>
<line x1="182.2" y1="882" x2="182.2" y2="917.8" stroke="#111" stroke-width="1"/>
<line x1="179.7" y1="882" x2="184.7" y2="882" stroke="#111" stroke-width="1"/>
<line x1="179.7" y1="917.8" x2="184.7" y2="917.8" stroke="#111" stroke-width="1"/>
<line x1="204.3" y1="868.9" x2="204.3" y2="868.9" stroke="#111" stroke-width="1"/>
<line x1="201.8" y1="868.9" x2="206.8" y2="868.9" stroke="#111" stroke-width="1"/>
<line x1="201.8" y1="868.9" x2="206.8" y2="868.9" stroke="#111" stroke-width="1"/>
<line x1="75" y1="966" x2="75" y2="980" stroke="#8f7d3c" stroke-width="1"/>
<line x1="72.5" y1="966" x2="77.5" y2="966" stroke="#8f7d3c" stroke-width="1"/>
<line x1="72.5" y1="980" x2="77.5" y2="980" stroke="#8f7d3c" stroke-width="1"/>
<line x1="96.2" y1="965" x2="96.2" y2="978" stroke="#8f7d3c" stroke-width="1"/>
<line x1="93.7" y1="965" x2="98.7" y2="965" stroke="#8f7d3c" stroke-width="1"/>
<line x1="93.7" y1="978" x2="98.7" y2="978" stroke="#8f7d3c" stroke-width="1"/>
<line x1="117.6" y1="961" x2="117.6" y2="976" stroke="#8f7d3c" stroke-width="1"/>
<line x1="115.1" y1="961" x2="120.1" y2="961" stroke="#8f7d3c" stroke-width="1"/>
<line x1="115.1" y1="976" x2="120.1" y2="976" stroke="#8f7d3c" stroke-width="1"/>
<line x1="139.3" y1="951" x2="139.3" y2="968" stroke="#8f7d3c" stroke-width="1"/>
<line x1="136.8" y1="951" x2="141.8" y2="951" stroke="#8f7d3c" stroke-width="1"/>
<line x1="136.8" y1="968" x2="141.8" y2="968" stroke="#8f7d3c" stroke-width="1"/>
<line x1="160.8" y1="929" x2="160.8" y2="957" stroke="#8f7d3c" stroke-width="1"/>
<line x1="158.3" y1="929" x2="163.3" y2="929" stroke="#8f7d3c" stroke-width="1"/>
<line x1="158.3" y1="957" x2="163.3" y2="957" stroke="#8f7d3c" stroke-width="1"/>
<line x1="182.2" y1="906.7" x2="182.2" y2="941.4" stroke="#8f7d3c" stroke-width="1"/>
<line x1="179.7" y1="906.7" x2="184.7" y2="906.7" stroke="#8f7d3c" stroke-width="1"/>
<line x1="179.7" y1="941.4" x2="184.7" y2="941.4" stroke="#8f7d3c" stroke-width="1"/>
<line x1="204.3" y1="878.4" x2="204.3" y2="925.7" stroke="#8f7d3c" stroke-width="1"/>
<line x1="201.8" y1="878.4" x2="206.8" y2="878.4" stroke="#8f7d3c" stroke-width="1"/>
<line x1="201.8" y1="925.7" x2="206.8" y2="925.7" stroke="#8f7d3c" stroke-width="1"/>
<line x1="75" y1="969" x2="75" y2="986" stroke="#1a1ab8" stroke-width="1"/>
<line x1="72.5" y1="969" x2="77.5" y2="969" stroke="#1a1ab8" stroke-width="1"/>
<line x1="72.5" y1="986" x2="77.5" y2="986" stroke="#1a1ab8" stroke-width="1"/>
<line x1="96.2" y1="972" x2="96.2" y2="985" stroke="#1a1ab8" stroke-width="1"/>
<line x1="93.7" y1="972" x2="98.7" y2="972" stroke="#1a1ab8" stroke-width="1"/>
<line x1="93.7" y1="985" x2="98.7" y2="985" stroke="#1a1ab8" stroke-width="1"/>
<line x1="117.6" y1="962" x2="117.6" y2="980" stroke="#1a1ab8" stroke-width="1"/>
<line x1="115.1" y1="962" x2="120.1" y2="962" stroke="#1a1ab8" stroke-width="1"/>
<line x1="115.1" y1="980" x2="120.1" y2="980" stroke="#1a1ab8" stroke-width="1"/>
<line x1="139.3" y1="960" x2="139.3" y2="976" stroke="#1a1ab8" stroke-width="1"/>
<line x1="136.8" y1="960" x2="141.8" y2="960" stroke="#1a1ab8" stroke-width="1"/>
<line x1="136.8" y1="976" x2="141.8" y2="976" stroke="#1a1ab8" stroke-width="1"/>
<line x1="160.8" y1="946" x2="160.8" y2="965" stroke="#1a1ab8" stroke-width="1"/>
<line x1="158.3" y1="946" x2="163.3" y2="946" stroke="#1a1ab8" stroke-width="1"/>
<line x1="158.3" y1="965" x2="163.3" y2="965" stroke="#1a1ab8" stroke-width="1"/>
<line x1="182.2" y1="957" x2="182.2" y2="973" stroke="#1a1ab8" stroke-width="1"/>
<line x1="179.7" y1="957" x2="184.7" y2="957" stroke="#1a1ab8" stroke-width="1"/>
<line x1="179.7" y1="973" x2="184.7" y2="973" stroke="#1a1ab8" stroke-width="1"/>
<line x1="204.3" y1="952" x2="204.3" y2="976" stroke="#1a1ab8" stroke-width="1"/>
<line x1="201.8" y1="952" x2="206.8" y2="952" stroke="#1a1ab8" stroke-width="1"/>
<line x1="201.8" y1="976" x2="206.8" y2="976" stroke="#1a1ab8" stroke-width="1"/>
<line x1="75" y1="966" x2="75" y2="980" stroke="#1a8a1a" stroke-width="1"/>
<line x1="72.5" y1="966" x2="77.5" y2="966" stroke="#1a8a1a" stroke-width="1"/>
<line x1="72.5" y1="980" x2="77.5" y2="980" stroke="#1a8a1a" stroke-width="1"/>
<line x1="96.2" y1="968" x2="96.2" y2="981" stroke="#1a8a1a" stroke-width="1"/>
<line x1="93.7" y1="968" x2="98.7" y2="968" stroke="#1a8a1a" stroke-width="1"/>
<line x1="93.7" y1="981" x2="98.7" y2="981" stroke="#1a8a1a" stroke-width="1"/>
<line x1="117.6" y1="967" x2="117.6" y2="982" stroke="#1a8a1a" stroke-width="1"/>
<line x1="115.1" y1="967" x2="120.1" y2="967" stroke="#1a8a1a" stroke-width="1"/>
<line x1="115.1" y1="982" x2="120.1" y2="982" stroke="#1a8a1a" stroke-width="1"/>
<line x1="139.3" y1="968" x2="139.3" y2="982" stroke="#1a8a1a" stroke-width="1"/>
<line x1="136.8" y1="968" x2="141.8" y2="968" stroke="#1a8a1a" stroke-width="1"/>
<line x1="136.8" y1="982" x2="141.8" y2="982" stroke="#1a8a1a" stroke-width="1"/>
<line x1="160.8" y1="954" x2="160.8" y2="974" stroke="#1a8a1a" stroke-width="1"/>
<line x1="158.3" y1="954" x2="163.3" y2="954" stroke="#1a8a1a" stroke-width="1"/>
<line x1="158.3" y1="974" x2="163.3" y2="974" stroke="#1a8a1a" stroke-width="1"/>
<line x1="182.2" y1="953" x2="182.2" y2="971" stroke="#1a8a1a" stroke-width="1"/>
<line x1="179.7" y1="953" x2="184.7" y2="953" stroke="#1a8a1a" stroke-width="1"/>
<line x1="179.7" y1="971" x2="184.7" y2="971" stroke="#1a8a1a" stroke-width="1"/>
<line x1="204.3" y1="941" x2="204.3" y2="960" stroke="#1a8a1a" stroke-width="1"/>
<line x1="201.8" y1="941" x2="206.8" y2="941" stroke="#1a8a1a" stroke-width="1"/>
<line x1="201.8" y1="960" x2="206.8" y2="960" stroke="#1a8a1a" stroke-width="1"/>
<line x1="75" y1="965" x2="75" y2="982" stroke="#f01c1c" stroke-width="1"/>
<line x1="72.5" y1="965" x2="77.5" y2="965" stroke="#f01c1c" stroke-width="1"/>
<line x1="72.5" y1="982" x2="77.5" y2="982" stroke="#f01c1c" stroke-width="1"/>
<line x1="96.2" y1="966" x2="96.2" y2="980" stroke="#f01c1c" stroke-width="1"/>
<line x1="93.7" y1="966" x2="98.7" y2="966" stroke="#f01c1c" stroke-width="1"/>
<line x1="93.7" y1="980" x2="98.7" y2="980" stroke="#f01c1c" stroke-width="1"/>
<line x1="117.6" y1="982" x2="117.6" y2="990" stroke="#f01c1c" stroke-width="1"/>
<line x1="115.1" y1="982" x2="120.1" y2="982" stroke="#f01c1c" stroke-width="1"/>
<line x1="115.1" y1="990" x2="120.1" y2="990" stroke="#f01c1c" stroke-width="1"/>
<line x1="139.3" y1="982" x2="139.3" y2="990" stroke="#f01c1c" stroke-width="1"/>
<line x1="136.8" y1="982" x2="141.8" y2="982" stroke="#f01c1c" stroke-width="1"/>
<line x1="136.8" y1="990" x2="141.8" y2="990" stroke="#f01c1c" stroke-width="1"/>
<line x1="160.8" y1="981" x2="160.8" y2="991" stroke="#f01c1c" stroke-width="1"/>
<line x1="158.3" y1="981" x2="163.3" y2="981" stroke="#f01c1c" stroke-width="1"/>
<line x1="158.3" y1="991" x2="163.3" y2="991" stroke="#f01c1c" stroke-width="1"/>
<line x1="182.2" y1="984" x2="182.2" y2="992" stroke="#f01c1c" stroke-width="1"/>
<line x1="179.7" y1="984" x2="184.7" y2="984" stroke="#f01c1c" stroke-width="1"/>
<line x1="179.7" y1="992" x2="184.7" y2="992" stroke="#f01c1c" stroke-width="1"/>
<line x1="204.3" y1="972" x2="204.3" y2="992" stroke="#f01c1c" stroke-width="1"/>
<line x1="201.8" y1="972" x2="206.8" y2="972" stroke="#f01c1c" stroke-width="1"/>
<line x1="201.8" y1="992" x2="206.8" y2="992" stroke="#f01c1c" stroke-width="1"/>
<polyline points="75,975 96.2,975 117.6,987 139.3,987.5 160.8,988 182.2,988.7 204.3,991.9" fill="none" stroke="#333" stroke-width="1.1" stroke-linejoin="round"/>
<polyline points="75,975 96.2,975 117.6,989.3 139.3,989.3 160.8,990.3 182.2,991.9 204.3,992.5" fill="none" stroke="#222" stroke-width="1.1" stroke-linejoin="round"/>
<polyline points="75,973.6 96.2,973 117.6,986.2 139.3,986.2 160.8,986.2 182.2,988 204.3,981.8" fill="none" stroke="#f01c1c" stroke-width="1.1" stroke-linejoin="round"/>
<polyline points="75,973 96.2,974.5 117.6,974.5 139.3,975.2 160.8,964.4 182.2,962 204.3,950.3" fill="none" stroke="#1a8a1a" stroke-width="1.1" stroke-linejoin="round"/>
<polyline points="75,977.7 96.2,978.6 117.6,971.4 139.3,968.2 160.8,955.6 182.2,965 204.3,964.1" fill="none" stroke="#1a1ab8" stroke-width="1.1" stroke-linejoin="round"/>
<polyline points="75,972.3 96.2,971.4 117.6,968.2 139.3,959.7 160.8,943 182.2,921.9 204.3,902" fill="none" stroke="#8f7d3c" stroke-width="1.1" stroke-linejoin="round"/>
<polyline points="75,978.6 96.2,966.6 117.6,958.8 139.3,954 160.8,935 182.2,899.8 204.3,868.9" fill="none" stroke="#111" stroke-width="1.1" stroke-linejoin="round"/>
<rect x="71.8" y="971.8" width="6.4" height="6.4" fill="#a040d0" stroke="#444" stroke-width="0.6"/>
<rect x="93" y="971.8" width="6.4" height="6.4" fill="#a040d0" stroke="#444" stroke-width="0.6"/>
<rect x="114.4" y="983.8" width="6.4" height="6.4" fill="#a040d0" stroke="#444" stroke-width="0.6"/>
<rect x="136.1" y="984.3" width="6.4" height="6.4" fill="#a040d0" stroke="#444" stroke-width="0.6"/>
<rect x="157.6" y="984.8" width="6.4" height="6.4" fill="#a040d0" stroke="#444" stroke-width="0.6"/>
<rect x="179" y="985.5" width="6.4" height="6.4" fill="#a040d0" stroke="#444" stroke-width="0.6"/>
<rect x="201.1" y="988.7" width="6.4" height="6.4" fill="#a040d0" stroke="#444" stroke-width="0.6"/>
<circle cx="75" cy="975" r="3.3" fill="#f4f010" stroke="#555" stroke-width="0.8"/>
<circle cx="96.2" cy="975" r="3.3" fill="#f4f010" stroke="#555" stroke-width="0.8"/>
<circle cx="117.6" cy="989.3" r="3.3" fill="#f4f010" stroke="#555" stroke-width="0.8"/>
<circle cx="139.3" cy="989.3" r="3.3" fill="#f4f010" stroke="#555" stroke-width="0.8"/>
<circle cx="160.8" cy="990.3" r="3.3" fill="#f4f010" stroke="#555" stroke-width="0.8"/>
<circle cx="182.2" cy="991.9" r="3.3" fill="#f4f010" stroke="#555" stroke-width="0.8"/>
<circle cx="204.3" cy="992.5" r="3.3" fill="#f4f010" stroke="#555" stroke-width="0.8"/>
<polygon points="75,969.6 79,976.6 71,976.6" fill="#f01c1c" stroke="none" stroke-width="1"/>
<polygon points="96.2,969 100.2,976 92.2,976" fill="#f01c1c" stroke="none" stroke-width="1"/>
<polygon points="117.6,982.2 121.6,989.2 113.6,989.2" fill="#f01c1c" stroke="none" stroke-width="1"/>
<polygon points="139.3,982.2 143.3,989.2 135.3,989.2" fill="#f01c1c" stroke="none" stroke-width="1"/>
<polygon points="160.8,982.2 164.8,989.2 156.8,989.2" fill="#f01c1c" stroke="none" stroke-width="1"/>
<polygon points="182.2,984 186.2,991 178.2,991" fill="#f01c1c" stroke="none" stroke-width="1"/>
<polygon points="204.3,977.8 208.3,984.8 200.3,984.8" fill="#f01c1c" stroke="none" stroke-width="1"/>
<polygon points="75,969.2 78.8,973 75,976.8 71.2,973" fill="#178017" stroke="none" stroke-width="1"/>
<polygon points="96.2,970.7 100,974.5 96.2,978.3 92.4,974.5" fill="#178017" stroke="none" stroke-width="1"/>
<polygon points="117.6,970.7 121.4,974.5 117.6,978.3 113.8,974.5" fill="#178017" stroke="none" stroke-width="1"/>
<polygon points="139.3,971.4 143.1,975.2 139.3,979 135.5,975.2" fill="#178017" stroke="none" stroke-width="1"/>
<polygon points="160.8,960.6 164.6,964.4 160.8,968.2 157,964.4" fill="#178017" stroke="none" stroke-width="1"/>
<polygon points="182.2,958.2 186,962 182.2,965.8 178.4,962" fill="#178017" stroke="none" stroke-width="1"/>
<polygon points="204.3,946.5 208.1,950.3 204.3,954.1 200.5,950.3" fill="#178017" stroke="none" stroke-width="1"/>
<polygon points="75,981.7 79,974.7 71,974.7" fill="#1a1ab8" stroke="none" stroke-width="1"/>
<polygon points="96.2,982.6 100.2,975.6 92.2,975.6" fill="#1a1ab8" stroke="none" stroke-width="1"/>
<polygon points="117.6,975.4 121.6,968.4 113.6,968.4" fill="#1a1ab8" stroke="none" stroke-width="1"/>
<polygon points="139.3,972.2 143.3,965.2 135.3,965.2" fill="#1a1ab8" stroke="none" stroke-width="1"/>
<polygon points="160.8,959.6 164.8,952.6 156.8,952.6" fill="#1a1ab8" stroke="none" stroke-width="1"/>
<polygon points="182.2,969 186.2,962 178.2,962" fill="#1a1ab8" stroke="none" stroke-width="1"/>
<polygon points="204.3,968.1 208.3,961.1 200.3,961.1" fill="#1a1ab8" stroke="none" stroke-width="1"/>
<rect x="71.8" y="969.1" width="6.4" height="6.4" fill="#8f7d3c"/>
<rect x="93" y="968.2" width="6.4" height="6.4" fill="#8f7d3c"/>
<rect x="114.4" y="965" width="6.4" height="6.4" fill="#8f7d3c"/>
<rect x="136.1" y="956.5" width="6.4" height="6.4" fill="#8f7d3c"/>
<rect x="157.6" y="939.8" width="6.4" height="6.4" fill="#8f7d3c"/>
<rect x="179" y="918.7" width="6.4" height="6.4" fill="#8f7d3c"/>
<rect x="201.1" y="898.8" width="6.4" height="6.4" fill="#8f7d3c"/>
<circle cx="75" cy="978.6" r="3.3" fill="#000" stroke="none" stroke-width="1"/>
<circle cx="96.2" cy="966.6" r="3.3" fill="#000" stroke="none" stroke-width="1"/>
<circle cx="117.6" cy="958.8" r="3.3" fill="#000" stroke="none" stroke-width="1"/>
<circle cx="139.3" cy="954" r="3.3" fill="#000" stroke="none" stroke-width="1"/>
<circle cx="160.8" cy="935" r="3.3" fill="#000" stroke="none" stroke-width="1"/>
<circle cx="182.2" cy="899.8" r="3.3" fill="#000" stroke="none" stroke-width="1"/>
<circle cx="204.3" cy="868.9" r="3.3" fill="#000" stroke="none" stroke-width="1"/>
<line x1="70" y1="879.6" x2="86.7" y2="879.6" stroke="#111" stroke-width="1.1"/>
<circle cx="78.2" cy="879.6" r="3.46" fill="#000" stroke="none" stroke-width="1"/>
<text x="89.3" y="882.4" font-size="8.14" fill="#222" textLength="41.6" lengthAdjust="spacingAndGlyphs">Vehicle control</text>
<line x1="70" y1="889.8" x2="86.7" y2="889.8" stroke="#8f7d3c" stroke-width="1.1"/>
<rect x="74.84" y="886.44" width="6.72" height="6.72" fill="#8f7d3c"/>
<text x="89.3" y="892.6" font-size="8.14" fill="#222" textLength="18" lengthAdjust="spacingAndGlyphs">DMSO</text>
<line x1="70" y1="900.9" x2="86.7" y2="900.9" stroke="#f01c1c" stroke-width="1.1"/>
<polygon points="78.2,896.7 82.4,904.05 74,904.05" fill="#f01c1c" stroke="none" stroke-width="1"/>
<text x="89.3" y="903.7" font-size="8.14" fill="#222" textLength="32" lengthAdjust="spacingAndGlyphs">Doxorubicin</text>
<line x1="70" y1="911.3" x2="86.7" y2="911.3" stroke="#1a1ab8" stroke-width="1.1"/>
<polygon points="78.2,915.5 82.4,908.15 74,908.15" fill="#1a1ab8" stroke="none" stroke-width="1"/>
<text x="89.3" y="914.1" font-size="8.14" fill="#222" textLength="21" lengthAdjust="spacingAndGlyphs">Eribulin</text>
<line x1="70" y1="921.8" x2="86.7" y2="921.8" stroke="#1a8a1a" stroke-width="1.1"/>
<polygon points="78.2,917.81 82.19,921.8 78.2,925.79 74.21,921.8" fill="#178017" stroke="none" stroke-width="1"/>
<text x="89.3" y="924.6" font-size="8.14" fill="#222" textLength="27" lengthAdjust="spacingAndGlyphs">Selinexor</text>
<line x1="70" y1="932.8" x2="86.7" y2="932.8" stroke="#333" stroke-width="1.1"/>
<circle cx="78.2" cy="932.8" r="3.46" fill="#f4f010" stroke="#555" stroke-width="0.8"/>
<text x="89.3" y="935.6" font-size="8.14" fill="#222" textLength="24" lengthAdjust="spacingAndGlyphs">Sel+Dox</text>
<line x1="70" y1="943.8" x2="86.7" y2="943.8" stroke="#333" stroke-width="1.1"/>
<rect x="74.84" y="940.44" width="6.72" height="6.72" fill="#a040d0" stroke="#444" stroke-width="0.6"/>
<text x="89.3" y="946.6" font-size="8.14" fill="#222" textLength="21" lengthAdjust="spacingAndGlyphs">Sel+Eri</text>
<line x1="211.9" y1="947.7" x2="211.9" y2="995.6" stroke="#333" stroke-width="1"/>
<text x="217.5" y="980.75" font-size="12.5" fill="#222" text-anchor="middle" textLength="16" lengthAdjust="spacingAndGlyphs" transform="rotate(90 217.5 974.5)">***</text>
<text x="251.4" y="845.75" font-size="12.35" fill="#222" textLength="11.4" lengthAdjust="spacingAndGlyphs">(K)</text>
<line x1="277.4" y1="859.7" x2="277.4" y2="999.6" stroke="#1a1a1a" stroke-width="1.6"/>
<line x1="273.5" y1="859.7" x2="277.4" y2="859.7" stroke="#1a1a1a" stroke-width="1.5"/>
<text x="258.4" y="865.1" font-size="15.7" fill="#222" textLength="17" lengthAdjust="spacingAndGlyphs">2.0</text>
<line x1="273.5" y1="894.2" x2="277.4" y2="894.2" stroke="#1a1a1a" stroke-width="1.5"/>
<text x="258.4" y="899.6" font-size="15.7" fill="#222" textLength="17" lengthAdjust="spacingAndGlyphs">1.5</text>
<line x1="273.5" y1="929.5" x2="277.4" y2="929.5" stroke="#1a1a1a" stroke-width="1.5"/>
<text x="258.4" y="934.9" font-size="15.7" fill="#222" textLength="17" lengthAdjust="spacingAndGlyphs">1.0</text>
<line x1="273.5" y1="964.1" x2="277.4" y2="964.1" stroke="#1a1a1a" stroke-width="1.5"/>
<text x="258.4" y="969.5" font-size="15.7" fill="#222" textLength="17" lengthAdjust="spacingAndGlyphs">0.5</text>
<line x1="273.5" y1="998.9" x2="277.4" y2="998.9" stroke="#1a1a1a" stroke-width="1.5"/>
<text x="268.9" y="1004.3" font-size="15.7" fill="#222" textLength="6.5" lengthAdjust="spacingAndGlyphs">0</text>
<line x1="276.8" y1="998.9" x2="426.7" y2="998.9" stroke="#1a1a1a" stroke-width="1.6"/>
<line x1="292.3" y1="913.9" x2="292.3" y2="884.6" stroke="#333" stroke-width="1"/>
<line x1="288.8" y1="884.6" x2="295.8" y2="884.6" stroke="#333" stroke-width="1"/>
<rect x="286" y="913.9" width="12.6" height="85" fill="#000"/>
<line x1="292.3" y1="998.9" x2="292.3" y2="1004" stroke="#1a1a1a" stroke-width="1.4"/>
<line x1="312.85" y1="944.7" x2="312.85" y2="921.5" stroke="#333" stroke-width="1"/>
<line x1="309.35" y1="921.5" x2="316.35" y2="921.5" stroke="#333" stroke-width="1"/>
<rect x="306.2" y="944.7" width="13.3" height="54.2" fill="#f41414"/>
<line x1="312.85" y1="998.9" x2="312.85" y2="1004" stroke="#1a1a1a" stroke-width="1.4"/>
<line x1="333.25" y1="994.6" x2="333.25" y2="990.6" stroke="#333" stroke-width="1"/>
<line x1="329.75" y1="990.6" x2="336.75" y2="990.6" stroke="#333" stroke-width="1"/>
<rect x="326.3" y="994.6" width="13.9" height="4.3" fill="#18b818"/>
<line x1="333.25" y1="998.9" x2="333.25" y2="1004" stroke="#1a1a1a" stroke-width="1.4"/>
<line x1="353.6" y1="990" x2="353.6" y2="987" stroke="#333" stroke-width="1"/>
<line x1="350.1" y1="987" x2="357.1" y2="987" stroke="#333" stroke-width="1"/>
<rect x="346.8" y="990" width="13.6" height="8.9" fill="#1818f0"/>
<line x1="353.6" y1="998.9" x2="353.6" y2="1004" stroke="#1a1a1a" stroke-width="1.4"/>
<line x1="374.15" y1="974.2" x2="374.15" y2="950.2" stroke="#333" stroke-width="1"/>
<line x1="370.65" y1="950.2" x2="377.65" y2="950.2" stroke="#333" stroke-width="1"/>
<rect x="367.5" y="974.2" width="13.3" height="24.7" fill="#a010e0"/>
<line x1="374.15" y1="998.9" x2="374.15" y2="1004" stroke="#1a1a1a" stroke-width="1.4"/>
<line x1="394.5" y1="998" x2="394.5" y2="996.9" stroke="#333" stroke-width="1"/>
<line x1="391" y1="996.9" x2="398" y2="996.9" stroke="#333" stroke-width="1"/>
<rect x="388" y="998" width="13" height="0.9" fill="#d8d060"/>
<line x1="394.5" y1="998.9" x2="394.5" y2="1004" stroke="#1a1a1a" stroke-width="1.4"/>
<line x1="414.5" y1="997.8" x2="414.5" y2="995.6" stroke="#333" stroke-width="1"/>
<line x1="411" y1="995.6" x2="418" y2="995.6" stroke="#333" stroke-width="1"/>
<rect x="408" y="997.8" width="13" height="1.1" fill="#f0b060"/>
<line x1="414.5" y1="998.9" x2="414.5" y2="1004" stroke="#1a1a1a" stroke-width="1.4"/>
<text x="331.4" y="992.05" font-size="11.5" fill="#222" text-anchor="middle" textLength="14.5" lengthAdjust="spacingAndGlyphs">***</text>
<text x="353.6" y="988.25" font-size="11.5" fill="#222" text-anchor="middle" textLength="14.5" lengthAdjust="spacingAndGlyphs">***</text>
<text x="373" y="951.75" font-size="11.5" fill="#222" text-anchor="middle" textLength="14.5" lengthAdjust="spacingAndGlyphs">***</text>
<text x="393.4" y="995.1" font-size="9" fill="#222" text-anchor="middle" textLength="15" lengthAdjust="spacingAndGlyphs">****</text>
<text x="416.6" y="995.3" font-size="9" fill="#222" text-anchor="middle" textLength="15" lengthAdjust="spacingAndGlyphs">****</text>
<text x="248.9" y="930.2" font-size="14.83" fill="#222" text-anchor="middle" textLength="94.6" lengthAdjust="spacingAndGlyphs" transform="rotate(-90 248.9 925.1)">Tumor weight (g)</text>
<text x="293" y="1014" font-size="15.12" fill="#222" text-anchor="end" textLength="85" lengthAdjust="spacingAndGlyphs" transform="rotate(-61 293 1014)">Vehicle control</text>
<text x="318.5" y="1014" font-size="15.12" fill="#222" text-anchor="end" textLength="39" lengthAdjust="spacingAndGlyphs" transform="rotate(-61 318.5 1014)">DMSO</text>
<text x="339" y="1014" font-size="15.12" fill="#222" text-anchor="end" textLength="72" lengthAdjust="spacingAndGlyphs" transform="rotate(-61 339 1014)">Doxorubicin</text>
<text x="362.5" y="1014" font-size="15.12" fill="#222" text-anchor="end" textLength="48" lengthAdjust="spacingAndGlyphs" transform="rotate(-61 362.5 1014)">Eribulin</text>
<text x="382.5" y="1013.5" font-size="15.12" fill="#222" text-anchor="end" textLength="62" lengthAdjust="spacingAndGlyphs" transform="rotate(-61 382.5 1013.5)">Selinexor</text>
<text x="401.5" y="1013.5" font-size="15.12" fill="#222" text-anchor="end" textLength="48" lengthAdjust="spacingAndGlyphs" transform="rotate(-61 401.5 1013.5)">Sel+Dox</text>
<text x="423" y="1013.5" font-size="15.12" fill="#222" text-anchor="end" textLength="44" lengthAdjust="spacingAndGlyphs" transform="rotate(-61 423 1013.5)">Sel+Eri</text>
<text x="447.4" y="642.25" font-size="13.81" fill="#222" textLength="10.1" lengthAdjust="spacingAndGlyphs">(I)</text>
<defs><linearGradient id="photobg" x1="0" y1="0" x2="1" y2="0.3"><stop offset="0" stop-color="#e0e0de"/><stop offset="0.15" stop-color="#e8e8e6"/><stop offset="1" stop-color="#ececea"/></linearGradient><radialGradient id="tum" cx="0.42" cy="0.42" r="0.62"><stop offset="0" stop-color="#ea8478"/><stop offset="0.6" stop-color="#dc5a54"/><stop offset="1" stop-color="#cc4646"/></radialGradient></defs>
<rect x="460" y="622" width="222" height="237" fill="url(#photobg)"/>
<rect x="494" y="623.4" width="161" height="32" fill="#f3f3f2"/>
<rect x="494" y="623.4" width="161" height="4.2" fill="#d0d0d4"/>
<rect x="494" y="651.2" width="161" height="4.2" fill="#c4c4ca"/>
<g stroke="#80808a" stroke-width="0.45"><line x1="496" y1="623.4" x2="496" y2="626.4"/><line x1="496" y1="655.4" x2="496" y2="652.4"/><line x1="498.4" y1="623.4" x2="498.4" y2="625"/><line x1="498.4" y1="655.4" x2="498.4" y2="653.8"/><line x1="500.8" y1="623.4" x2="500.8" y2="625"/><line x1="500.8" y1="655.4" x2="500.8" y2="653.8"/><line x1="503.2" y1="623.4" x2="503.2" y2="625"/><line x1="503.2" y1="655.4" x2="503.2" y2="653.8"/><line x1="505.6" y1="623.4" x2="505.6" y2="625"/><line x1="505.6" y1="655.4" x2="505.6" y2="653.8"/><line x1="508" y1="623.4" x2="508" y2="626.4"/><line x1="508" y1="655.4" x2="508" y2="652.4"/><line x1="510.4" y1="623.4" x2="510.4" y2="625"/><line x1="510.4" y1="655.4" x2="510.4" y2="653.8"/><line x1="512.8" y1="623.4" x2="512.8" y2="625"/><line x1="512.8" y1="655.4" x2="512.8" y2="653.8"/><line x1="515.2" y1="623.4" x2="515.2" y2="625"/><line x1="515.2" y1="655.4" x2="515.2" y2="653.8"/><line x1="517.6" y1="623.4" x2="517.6" y2="625"/><line x1="517.6" y1="655.4" x2="517.6" y2="653.8"/><line x1="520" y1="623.4" x2="520" y2="626.4"/><line x1="520" y1="655.4" x2="520" y2="652.4"/><line x1="522.4" y1="623.4" x2="522.4" y2="625"/><line x1="522.4" y1="655.4" x2="522.4" y2="653.8"/><line x1="524.8" y1="623.4" x2="524.8" y2="625"/><line x1="524.8" y1="655.4" x2="524.8" y2="653.8"/><line x1="527.2" y1="623.4" x2="527.2" y2="625"/><line x1="527.2" y1="655.4" x2="527.2" y2="653.8"/><line x1="529.6" y1="623.4" x2="529.6" y2="625"/><line x1="529.6" y1="655.4" x2="529.6" y2="653.8"/><line x1="532" y1="623.4" x2="532" y2="626.4"/><line x1="532" y1="655.4" x2="532" y2="652.4"/><line x1="534.4" y1="623.4" x2="534.4" y2="625"/><line x1="534.4" y1="655.4" x2="534.4" y2="653.8"/><line x1="536.8" y1="623.4" x2="536.8" y2="625"/><line x1="536.8" y1="655.4" x2="536.8" y2="653.8"/><line x1="539.2" y1="623.4" x2="539.2" y2="625"/><line x1="539.2" y1="655.4" x2="539.2" y2="653.8"/><line x1="541.6" y1="623.4" x2="541.6" y2="625"/><line x1="541.6" y1="655.4" x2="541.6" y2="653.8"/><line x1="544" y1="623.4" x2="544" y2="626.4"/><line x1="544" y1="655.4" x2="544" y2="652.4"/><line x1="546.4" y1="623.4" x2="546.4" y2="625"/><line x1="546.4" y1="655.4" x2="546.4" y2="653.8"/><line x1="548.8" y1="623.4" x2="548.8" y2="625"/><line x1="548.8" y1="655.4" x2="548.8" y2="653.8"/><line x1="551.2" y1="623.4" x2="551.2" y2="625"/><line x1="551.2" y1="655.4" x2="551.2" y2="653.8"/><line x1="553.6" y1="623.4" x2="553.6" y2="625"/><line x1="553.6" y1="655.4" x2="553.6" y2="653.8"/><line x1="556" y1="623.4" x2="556" y2="626.4"/><line x1="556" y1="655.4" x2="556" y2="652.4"/><line x1="558.4" y1="623.4" x2="558.4" y2="625"/><line x1="558.4" y1="655.4" x2="558.4" y2="653.8"/><line x1="560.8" y1="623.4" x2="560.8" y2="625"/><line x1="560.8" y1="655.4" x2="560.8" y2="653.8"/><line x1="563.2" y1="623.4" x2="563.2" y2="625"/><line x1="563.2" y1="655.4" x2="563.2" y2="653.8"/><line x1="565.6" y1="623.4" x2="565.6" y2="625"/><line x1="565.6" y1="655.4" x2="565.6" y2="653.8"/><line x1="568" y1="623.4" x2="568" y2="626.4"/><line x1="568" y1="655.4" x2="568" y2="652.4"/><line x1="570.4" y1="623.4" x2="570.4" y2="625"/><line x1="570.4" y1="655.4" x2="570.4" y2="653.8"/><line x1="572.8" y1="623.4" x2="572.8" y2="625"/><line x1="572.8" y1="655.4" x2="572.8" y2="653.8"/><line x1="575.2" y1="623.4" x2="575.2" y2="625"/><line x1="575.2" y1="655.4" x2="575.2" y2="653.8"/><line x1="577.6" y1="623.4" x2="577.6" y2="625"/><line x1="577.6" y1="655.4" x2="577.6" y2="653.8"/><line x1="580" y1="623.4" x2="580" y2="626.4"/><line x1="580" y1="655.4" x2="580" y2="652.4"/><line x1="582.4" y1="623.4" x2="582.4" y2="625"/><line x1="582.4" y1="655.4" x2="582.4" y2="653.8"/><line x1="584.8" y1="623.4" x2="584.8" y2="625"/><line x1="584.8" y1="655.4" x2="584.8" y2="653.8"/><line x1="587.2" y1="623.4" x2="587.2" y2="625"/><line x1="587.2" y1="655.4" x2="587.2" y2="653.8"/><line x1="589.6" y1="623.4" x2="589.6" y2="625"/><line x1="589.6" y1="655.4" x2="589.6" y2="653.8"/><line x1="592" y1="623.4" x2="592" y2="626.4"/><line x1="592" y1="655.4" x2="592" y2="652.4"/><line x1="594.4" y1="623.4" x2="594.4" y2="625"/><line x1="594.4" y1="655.4" x2="594.4" y2="653.8"/><line x1="596.8" y1="623.4" x2="596.8" y2="625"/><line x1="596.8" y1="655.4" x2="596.8" y2="653.8"/><line x1="599.2" y1="623.4" x2="599.2" y2="625"/><line x1="599.2" y1="655.4" x2="599.2" y2="653.8"/><line x1="601.6" y1="623.4" x2="601.6" y2="625"/><line x1="601.6" y1="655.4" x2="601.6" y2="653.8"/><line x1="604" y1="623.4" x2="604" y2="626.4"/><line x1="604" y1="655.4" x2="604" y2="652.4"/><line x1="606.4" y1="623.4" x2="606.4" y2="625"/><line x1="606.4" y1="655.4" x2="606.4" y2="653.8"/><line x1="608.8" y1="623.4" x2="608.8" y2="625"/><line x1="608.8" y1="655.4" x2="608.8" y2="653.8"/><line x1="611.2" y1="623.4" x2="611.2" y2="625"/><line x1="611.2" y1="655.4" x2="611.2" y2="653.8"/><line x1="613.6" y1="623.4" x2="613.6" y2="625"/><line x1="613.6" y1="655.4" x2="613.6" y2="653.8"/><line x1="616" y1="623.4" x2="616" y2="626.4"/><line x1="616" y1="655.4" x2="616" y2="652.4"/><line x1="618.4" y1="623.4" x2="618.4" y2="625"/><line x1="618.4" y1="655.4" x2="618.4" y2="653.8"/><line x1="620.8" y1="623.4" x2="620.8" y2="625"/><line x1="620.8" y1="655.4" x2="620.8" y2="653.8"/><line x1="623.2" y1="623.4" x2="623.2" y2="625"/><line x1="623.2" y1="655.4" x2="623.2" y2="653.8"/><line x1="625.6" y1="623.4" x2="625.6" y2="625"/><line x1="625.6" y1="655.4" x2="625.6" y2="653.8"/><line x1="628" y1="623.4" x2="628" y2="626.4"/><line x1="628" y1="655.4" x2="628" y2="652.4"/><line x1="630.4" y1="623.4" x2="630.4" y2="625"/><line x1="630.4" y1="655.4" x2="630.4" y2="653.8"/><line x1="632.8" y1="623.4" x2="632.8" y2="625"/><line x1="632.8" y1="655.4" x2="632.8" y2="653.8"/><line x1="635.2" y1="623.4" x2="635.2" y2="625"/><line x1="635.2" y1="655.4" x2="635.2" y2="653.8"/><line x1="637.6" y1="623.4" x2="637.6" y2="625"/><line x1="637.6" y1="655.4" x2="637.6" y2="653.8"/><line x1="640" y1="623.4" x2="640" y2="626.4"/><line x1="640" y1="655.4" x2="640" y2="652.4"/><line x1="642.4" y1="623.4" x2="642.4" y2="625"/><line x1="642.4" y1="655.4" x2="642.4" y2="653.8"/><line x1="644.8" y1="623.4" x2="644.8" y2="625"/><line x1="644.8" y1="655.4" x2="644.8" y2="653.8"/><line x1="647.2" y1="623.4" x2="647.2" y2="625"/><line x1="647.2" y1="655.4" x2="647.2" y2="653.8"/><line x1="649.6" y1="623.4" x2="649.6" y2="625"/><line x1="649.6" y1="655.4" x2="649.6" y2="653.8"/><line x1="652" y1="623.4" x2="652" y2="626.4"/><line x1="652" y1="655.4" x2="652" y2="652.4"/></g>
<text x="511.3" y="640.8" font-size="6.2" fill="#111" font-weight="bold" textLength="24" lengthAdjust="spacingAndGlyphs">DAIGGER</text>
<text x="498.6" y="645" font-size="3.2" fill="#555" textLength="50" lengthAdjust="spacingAndGlyphs">Laboratory Equipment and Supplies</text>
<text x="613" y="639.5" font-size="3.2" fill="#555" textLength="27" lengthAdjust="spacingAndGlyphs">www.daigger.com</text>
<text x="615" y="643.5" font-size="3.2" fill="#555" textLength="24" lengthAdjust="spacingAndGlyphs">(800) 621-7193</text>
<path d="M499.44 672.26 Q501.27 674.5 498.68 676.46 Q496.09 678.42 493.74 679.78 Q491.39 681.15 488.35 681.78 Q485.3 682.41 482.37 681.65 Q479.45 680.88 475.51 680.19 Q471.58 679.49 471.82 676.99 Q472.07 674.5 472.66 672.31 Q473.24 670.12 476.36 669.13 Q479.48 668.15 482.39 667.91 Q485.3 667.67 488.87 667.19 Q492.44 666.72 495.02 668.37 Q497.61 670.02 499.44 672.26 Z" fill="url(#tum)"/>
<path d="M485.94 671.4 Q486.33 672.38 485.17 673.05 Q484.02 673.72 483.79 674.79 Q483.57 675.86 482.15 675.92 Q480.73 675.99 479.22 676.04 Q477.71 676.08 476.82 675.21 Q475.93 674.34 476.06 673.36 Q476.2 672.38 476.18 671.45 Q476.17 670.52 477.4 670.17 Q478.63 669.82 479.68 668.93 Q480.73 668.04 482.22 668.39 Q483.7 668.74 484.63 669.58 Q485.55 670.42 485.94 671.4 Z" fill="#e46a62" opacity="0.85"/>
<path d="M490.39 674.69 Q490.81 675.41 490.34 676.11 Q489.88 676.81 489.44 677.72 Q489 678.64 487.54 678.64 Q486.08 678.64 484.62 678.64 Q483.16 678.64 482.8 677.7 Q482.45 676.75 482.2 676.08 Q481.95 675.41 481.79 674.59 Q481.62 673.77 482.62 673.23 Q483.62 672.68 484.85 672.06 Q486.08 671.44 487.33 672.05 Q488.58 672.65 489.28 673.31 Q489.98 673.97 490.39 674.69 Z" fill="#d8524e" opacity="0.85"/>
<path d="M486.13 672.73 Q487.29 673.29 487.19 674.17 Q487.09 675.05 485.82 675.67 Q484.55 676.29 482.89 676.49 Q481.23 676.7 480.07 676.04 Q478.91 675.38 477.63 675.07 Q476.34 674.76 475.95 674.02 Q475.56 673.29 475.7 672.48 Q475.85 671.68 476.85 670.96 Q477.85 670.25 479.54 670.35 Q481.23 670.46 482.75 670.51 Q484.27 670.56 484.62 671.36 Q484.98 672.17 486.13 672.73 Z" fill="#e87a70" opacity="0.85"/>
<circle cx="487.68" cy="679.53" r="1.16" fill="#f6c4bc" stroke="none" stroke-width="1"/>
<circle cx="481.81" cy="673.34" r="1.03" fill="#f6c4bc" stroke="none" stroke-width="1"/>
<circle cx="477.57" cy="674.11" r="0.63" fill="#f6c4bc" stroke="none" stroke-width="1"/>
<circle cx="479.1" cy="670" r="1.11" fill="#f6c4bc" stroke="none" stroke-width="1"/>
<circle cx="479.3" cy="671.93" r="0.81" fill="#f6c4bc" stroke="none" stroke-width="1"/>
<circle cx="491.32" cy="670.22" r="0.86" fill="#f6c4bc" stroke="none" stroke-width="1"/>
<path d="M527.22 671.77 Q527.26 674.5 526.84 677.03 Q526.43 679.55 523.87 680.58 Q521.31 681.6 519.05 683.47 Q516.8 685.33 513.86 684.54 Q510.93 683.75 508.6 681.89 Q506.28 680.02 505.63 677.26 Q504.98 674.5 507.21 672.57 Q509.44 670.64 510.47 668.39 Q511.5 666.15 514.15 665.61 Q516.8 665.07 519.83 665.02 Q522.86 664.96 525.02 667 Q527.19 669.05 527.22 671.77 Z" fill="url(#tum)"/>
<path d="M521.25 671.27 Q521.37 672.36 520.93 673.25 Q520.49 674.14 519.85 674.71 Q519.22 675.28 518.45 675.31 Q517.68 675.34 516.73 675.66 Q515.78 675.98 515.3 675.08 Q514.82 674.18 514.28 673.27 Q513.74 672.36 514.26 671.45 Q514.78 670.53 515.53 670.11 Q516.27 669.69 516.98 669.17 Q517.68 668.65 518.44 669.06 Q519.2 669.48 520.16 669.83 Q521.13 670.18 521.25 671.27 Z" fill="#e46a62" opacity="0.85"/>
<path d="M520.31 672.42 Q520.69 673.6 519.98 674.55 Q519.27 675.5 518.7 676.17 Q518.13 676.84 517.37 677.53 Q516.62 678.22 515.68 677.93 Q514.73 677.65 513.73 677.02 Q512.72 676.39 512.98 675 Q513.23 673.6 513.53 672.6 Q513.82 671.6 514.42 670.89 Q515.02 670.19 515.82 669.91 Q516.62 669.63 517.74 669.21 Q518.86 668.79 519.39 670.02 Q519.93 671.24 520.31 672.42 Z" fill="#d8524e" opacity="0.85"/>
<path d="M517.81 676.68 Q518.09 677.64 517.43 678.44 Q516.77 679.24 515.9 679.72 Q515.03 680.19 514.05 680.97 Q513.07 681.75 511.87 681.25 Q510.66 680.76 509.39 680.27 Q508.11 679.78 508.08 678.71 Q508.04 677.64 508.65 676.82 Q509.25 675.99 510.07 675.41 Q510.9 674.83 511.98 674.56 Q513.07 674.29 514.49 674.11 Q515.92 673.94 516.73 674.82 Q517.53 675.71 517.81 676.68 Z" fill="#e46a62" opacity="0.85"/>
<circle cx="519.39" cy="671.63" r="0.79" fill="#f6c4bc" stroke="none" stroke-width="1"/>
<circle cx="512.4" cy="677.76" r="0.93" fill="#f6c4bc" stroke="none" stroke-width="1"/>
<circle cx="520.48" cy="672.46" r="0.68" fill="#f6c4bc" stroke="none" stroke-width="1"/>
<circle cx="520.91" cy="680.32" r="1.18" fill="#f6c4bc" stroke="none" stroke-width="1"/>
<circle cx="520.84" cy="678.32" r="1.09" fill="#f6c4bc" stroke="none" stroke-width="1"/>
<path d="M561.06 671.95 Q561.81 674.5 560.69 676.83 Q559.57 679.16 557.83 680.81 Q556.09 682.45 553.8 682.2 Q551.5 681.94 549.18 682.23 Q546.87 682.52 545 680.93 Q543.13 679.33 541.74 676.92 Q540.34 674.5 541.42 671.9 Q542.49 669.3 544.75 668 Q547 666.71 549.25 665.73 Q551.5 664.74 553.67 665.87 Q555.83 667 558.08 668.2 Q560.32 669.41 561.06 671.95 Z" fill="url(#tum)"/>
<path d="M551.96 671.31 Q551.88 672.16 551.79 672.91 Q551.69 673.66 551.09 674.11 Q550.49 674.56 549.8 675.27 Q549.11 675.98 548.29 675.49 Q547.47 675.01 546.87 674.41 Q546.27 673.81 546.11 672.99 Q545.95 672.16 546.44 671.53 Q546.92 670.9 547.16 670.05 Q547.4 669.19 548.26 669.09 Q549.11 668.98 550 669.02 Q550.89 669.07 551.47 669.77 Q552.04 670.46 551.96 671.31 Z" fill="#e87a70" opacity="0.85"/>
<path d="M551.09 677.57 Q551.34 678.31 551.3 679.18 Q551.27 680.04 550.55 680.63 Q549.83 681.23 548.9 681.94 Q547.97 682.66 547.03 681.96 Q546.08 681.27 545.28 680.7 Q544.47 680.14 544.62 679.23 Q544.78 678.31 544.8 677.49 Q544.82 676.67 545.32 675.8 Q545.81 674.94 546.89 674.69 Q547.97 674.43 549.07 674.65 Q550.17 674.87 550.5 675.84 Q550.84 676.82 551.09 677.57 Z" fill="#e46a62" opacity="0.85"/>
<path d="M550.68 677.76 Q551.23 678.53 550.99 679.46 Q550.75 680.4 550.18 681.34 Q549.62 682.28 548.48 682.09 Q547.35 681.9 546.45 681.69 Q545.55 681.49 545.11 680.75 Q544.67 680 544.28 679.26 Q543.9 678.53 543.77 677.51 Q543.64 676.48 544.52 675.9 Q545.4 675.31 546.37 674.93 Q547.35 674.55 548.2 675.12 Q549.06 675.69 549.6 676.34 Q550.14 676.99 550.68 677.76 Z" fill="#d8524e" opacity="0.85"/>
<circle cx="553.35" cy="678.09" r="0.91" fill="#f6c4bc" stroke="none" stroke-width="1"/>
<circle cx="555.23" cy="678.81" r="0.6" fill="#f6c4bc" stroke="none" stroke-width="1"/>
<circle cx="547.53" cy="674.62" r="1.2" fill="#f6c4bc" stroke="none" stroke-width="1"/>
<circle cx="554.65" cy="675.74" r="1.12" fill="#f6c4bc" stroke="none" stroke-width="1"/>
<path d="M590.05 672.46 Q591.74 674.5 590.63 676.94 Q589.52 679.38 587.86 680.84 Q586.19 682.29 584.29 683.06 Q582.4 683.83 580.75 682.56 Q579.09 681.3 577.06 680.43 Q575.02 679.56 574.46 677.03 Q573.91 674.5 574.08 671.7 Q574.25 668.91 576.38 667.71 Q578.51 666.51 580.46 666.6 Q582.4 666.69 584.23 666.82 Q586.07 666.95 587.22 668.68 Q588.36 670.41 590.05 672.46 Z" fill="url(#tum)"/>
<path d="M585.7 669.63 Q585.95 670.46 585.56 671.22 Q585.17 671.98 584.27 672.19 Q583.38 672.4 582.72 672.87 Q582.06 673.33 581.23 673.11 Q580.4 672.89 579.49 672.52 Q578.59 672.16 578.39 671.31 Q578.2 670.46 578.7 669.77 Q579.21 669.07 579.75 668.47 Q580.28 667.86 581.17 667.95 Q582.06 668.03 583.03 667.82 Q584 667.61 584.73 668.21 Q585.45 668.8 585.7 669.63 Z" fill="#c8383c" opacity="0.85"/>
<path d="M587.24 670.63 Q587.67 671.4 587.45 672.33 Q587.22 673.27 586.77 674.08 Q586.32 674.88 585.58 674.87 Q584.85 674.85 584.36 674.27 Q583.88 673.7 583.22 673.45 Q582.56 673.2 582.46 672.3 Q582.35 671.4 582.3 670.37 Q582.25 669.34 582.86 668.74 Q583.47 668.14 584.16 668.05 Q584.85 667.96 585.41 668.35 Q585.97 668.74 586.39 669.3 Q586.8 669.85 587.24 670.63 Z" fill="#d8524e" opacity="0.85"/>
<circle cx="586.1" cy="670.66" r="1.03" fill="#f6c4bc" stroke="none" stroke-width="1"/>
<circle cx="579.75" cy="676.85" r="1.3" fill="#f6c4bc" stroke="none" stroke-width="1"/>
<circle cx="581.48" cy="673.6" r="0.79" fill="#f6c4bc" stroke="none" stroke-width="1"/>
<circle cx="578.49" cy="672.97" r="0.77" fill="#f6c4bc" stroke="none" stroke-width="1"/>
<path d="M618.38 671.63 Q618.12 674.5 617.68 676.94 Q617.24 679.39 615.24 680.62 Q613.23 681.86 611.22 683.19 Q609.2 684.53 606.61 684.24 Q604.02 683.95 602.16 681.93 Q600.31 679.9 599.66 677.2 Q599.01 674.5 600.36 672.22 Q601.7 669.94 603.41 668.5 Q605.12 667.05 607.16 665.94 Q609.2 664.83 611.74 665.03 Q614.28 665.24 616.46 667 Q618.64 668.76 618.38 671.63 Z" fill="url(#tum)"/>
<path d="M614.9 676.55 Q615.5 677.38 615.21 678.38 Q614.91 679.39 614.41 680.53 Q613.9 681.68 612.64 681.42 Q611.39 681.16 610.45 680.88 Q609.51 680.6 608.85 679.9 Q608.2 679.19 608.05 678.29 Q607.9 677.38 607.48 676.15 Q607.07 674.91 608.2 674.39 Q609.34 673.87 610.36 673.47 Q611.39 673.08 612.22 673.81 Q613.04 674.54 613.67 675.13 Q614.29 675.72 614.9 676.55 Z" fill="#c8383c" opacity="0.85"/>
<path d="M608.64 676.83 Q608.58 677.76 608.4 678.56 Q608.22 679.35 607.57 679.79 Q606.91 680.23 606.2 680.93 Q605.49 681.64 604.59 681.27 Q603.68 680.91 602.99 680.27 Q602.29 679.62 602.24 678.69 Q602.19 677.76 602.72 677.11 Q603.24 676.46 603.51 675.62 Q603.77 674.77 604.63 674.63 Q605.49 674.49 606.56 674.27 Q607.63 674.05 608.17 674.98 Q608.71 675.9 608.64 676.83 Z" fill="#c8383c" opacity="0.85"/>
<path d="M611.2 676.54 Q611.8 677.23 611.52 678.06 Q611.24 678.89 610.48 679.6 Q609.73 680.32 608.48 680.12 Q607.24 679.91 606.19 679.87 Q605.15 679.82 604.62 679.18 Q604.09 678.54 603.45 677.88 Q602.81 677.23 602.84 676.33 Q602.87 675.43 603.91 674.91 Q604.95 674.39 606.09 674.07 Q607.24 673.75 608.05 674.49 Q608.86 675.22 609.72 675.54 Q610.59 675.85 611.2 676.54 Z" fill="#c8383c" opacity="0.85"/>
<circle cx="607.41" cy="678.49" r="1.07" fill="#f6c4bc" stroke="none" stroke-width="1"/>
<circle cx="610.75" cy="673.36" r="0.78" fill="#f6c4bc" stroke="none" stroke-width="1"/>
<circle cx="604.12" cy="670.06" r="0.56" fill="#f6c4bc" stroke="none" stroke-width="1"/>
<circle cx="611.95" cy="671.57" r="0.63" fill="#f6c4bc" stroke="none" stroke-width="1"/>
<path d="M645.63 677.53 Q646.39 679.5 646.46 681.92 Q646.52 684.35 644.1 685.24 Q641.67 686.14 639.64 686.64 Q637.6 687.14 635.77 686.3 Q633.95 685.45 632.45 684.28 Q630.95 683.11 629.67 681.31 Q628.4 679.5 629.22 677.45 Q630.05 675.4 631.49 673.65 Q632.93 671.89 635.27 671.87 Q637.6 671.86 639.62 672.39 Q641.63 672.93 643.25 674.24 Q644.87 675.55 645.63 677.53 Z" fill="url(#tum)"/>
<path d="M638.27 682.27 Q638.78 682.85 638.52 683.58 Q638.26 684.3 637.82 685.03 Q637.39 685.75 636.52 685.61 Q635.65 685.47 635.02 685.2 Q634.4 684.93 633.91 684.51 Q633.42 684.09 633.23 683.47 Q633.04 682.85 632.81 682 Q632.57 681.15 633.4 680.82 Q634.22 680.48 634.93 680.23 Q635.65 679.98 636.25 680.41 Q636.86 680.83 637.3 681.26 Q637.75 681.69 638.27 682.27 Z" fill="#c8383c" opacity="0.85"/>
<path d="M642.49 680.28 Q642.74 681.06 642.51 681.84 Q642.28 682.62 641.28 682.84 Q640.29 683.06 639.55 683.38 Q638.81 683.69 637.93 683.56 Q637.06 683.42 636.01 683.1 Q634.97 682.78 634.78 681.92 Q634.59 681.06 635.14 680.36 Q635.7 679.66 636.33 679.1 Q636.95 678.55 637.88 678.75 Q638.81 678.95 639.79 678.67 Q640.78 678.38 641.51 678.94 Q642.23 679.51 642.49 680.28 Z" fill="#e46a62" opacity="0.85"/>
<path d="M643.25 679.36 Q643.46 680.11 643.01 680.72 Q642.55 681.34 642.29 682.18 Q642.02 683.02 641.06 683.33 Q640.1 683.63 639.09 683.39 Q638.09 683.14 637.38 682.49 Q636.66 681.84 636.93 680.97 Q637.2 680.11 637.07 679.31 Q636.95 678.52 637.59 677.91 Q638.24 677.3 639.17 676.9 Q640.1 676.51 641.12 676.76 Q642.14 677.01 642.59 677.82 Q643.04 678.62 643.25 679.36 Z" fill="#e46a62" opacity="0.85"/>
<circle cx="639.22" cy="675.33" r="1.09" fill="#f6c4bc" stroke="none" stroke-width="1"/>
<circle cx="635.07" cy="675.41" r="0.71" fill="#f6c4bc" stroke="none" stroke-width="1"/>
<circle cx="639.94" cy="676.67" r="1.09" fill="#f6c4bc" stroke="none" stroke-width="1"/>
<circle cx="642.45" cy="679.44" r="0.81" fill="#f6c4bc" stroke="none" stroke-width="1"/>
<path d="M675.26 677.04 Q675.11 679.5 674.39 681.57 Q673.66 683.63 671.52 684.9 Q669.38 686.16 666.89 686.66 Q664.4 687.17 661.34 687.42 Q658.29 687.68 656.61 685.7 Q654.93 683.73 653.52 681.61 Q652.11 679.5 654.25 677.71 Q656.39 675.93 657.88 674.35 Q659.38 672.78 661.89 672.06 Q664.4 671.35 667.07 671.85 Q669.74 672.35 672.57 673.47 Q675.41 674.59 675.26 677.04 Z" fill="url(#tum)"/>
<path d="M670.45 680.16 Q670.53 680.97 669.77 681.52 Q669 682.08 668.69 682.83 Q668.37 683.57 667.24 683.56 Q666.1 683.54 664.71 683.85 Q663.32 684.15 662.54 683.39 Q661.76 682.63 661.93 681.8 Q662.1 680.97 662.32 680.29 Q662.53 679.6 663.4 679.24 Q664.27 678.87 665.19 678.22 Q666.1 677.56 667.26 677.94 Q668.42 678.32 669.39 678.83 Q670.37 679.34 670.45 680.16 Z" fill="#c8383c" opacity="0.85"/>
<path d="M671.43 682.21 Q671.75 682.79 671.4 683.36 Q671.04 683.93 670.76 684.68 Q670.47 685.42 669.5 685.58 Q668.52 685.74 667.68 685.4 Q666.84 685.06 666.2 684.59 Q665.56 684.12 665.74 683.46 Q665.92 682.79 665.65 682.09 Q665.37 681.38 666.09 680.93 Q666.81 680.49 667.67 680.17 Q668.52 679.84 669.52 679.97 Q670.53 680.09 670.82 680.86 Q671.11 681.63 671.43 682.21 Z" fill="#d8524e" opacity="0.85"/>
<path d="M665.56 676.15 Q665.97 676.75 666.04 677.56 Q666.11 678.37 665.23 678.83 Q664.36 679.29 663.4 679.89 Q662.44 680.5 661.54 679.82 Q660.64 679.14 659.9 678.66 Q659.17 678.19 659.15 677.47 Q659.13 676.75 659.21 676.06 Q659.29 675.36 659.71 674.53 Q660.12 673.69 661.28 673.63 Q662.44 673.57 663.5 673.76 Q664.55 673.96 664.85 674.76 Q665.15 675.56 665.56 676.15 Z" fill="#d8524e" opacity="0.85"/>
<circle cx="667.77" cy="683.11" r="0.72" fill="#f6c4bc" stroke="none" stroke-width="1"/>
<circle cx="658.48" cy="681.15" r="1.01" fill="#f6c4bc" stroke="none" stroke-width="1"/>
<circle cx="659.77" cy="684.3" r="0.85" fill="#f6c4bc" stroke="none" stroke-width="1"/>
<circle cx="661.97" cy="682.29" r="1.13" fill="#f6c4bc" stroke="none" stroke-width="1"/>
<circle cx="663.45" cy="674.7" r="1.11" fill="#f6c4bc" stroke="none" stroke-width="1"/>
<path d="M492.29 705.09 Q492.68 707 491.83 708.74 Q490.99 710.49 488.34 711.05 Q485.69 711.61 483.59 712.96 Q481.5 714.3 478.71 713.72 Q475.92 713.15 473.45 712.01 Q470.98 710.87 470.3 708.93 Q469.63 707 471.18 705.39 Q472.72 703.77 474.46 702.46 Q476.2 701.15 478.85 700.83 Q481.5 700.51 484.45 700.51 Q487.4 700.5 489.65 701.84 Q491.91 703.18 492.29 705.09 Z" fill="url(#tum)"/>
<path d="M484.02 704.88 Q484.04 705.63 483.61 706.19 Q483.18 706.75 482.95 707.57 Q482.72 708.38 481.69 708.42 Q480.66 708.46 479.55 708.52 Q478.45 708.58 477.99 707.8 Q477.54 707.02 477.55 706.32 Q477.57 705.63 477.5 704.91 Q477.43 704.19 478.21 703.79 Q478.99 703.4 479.83 702.8 Q480.66 702.2 481.65 702.59 Q482.64 702.98 483.32 703.56 Q484 704.13 484.02 704.88 Z" fill="#d8524e" opacity="0.85"/>
<path d="M481.26 704.51 Q481.89 705.06 481.5 705.72 Q481.11 706.37 480.52 706.95 Q479.92 707.52 478.93 707.47 Q477.93 707.43 477.25 707.09 Q476.56 706.75 475.73 706.53 Q474.9 706.31 474.73 705.69 Q474.56 705.06 474.44 704.32 Q474.32 703.58 475.26 703.25 Q476.21 702.93 477.07 702.93 Q477.93 702.94 478.7 703.05 Q479.47 703.17 480.05 703.56 Q480.63 703.95 481.26 704.51 Z" fill="#c8383c" opacity="0.85"/>
<path d="M487.55 706.47 Q487.96 707.18 488.15 708.12 Q488.33 709.05 486.94 709.36 Q485.55 709.66 484.45 709.89 Q483.35 710.12 482.36 709.76 Q481.37 709.41 480.4 709.03 Q479.44 708.65 478.88 707.92 Q478.32 707.18 478.76 706.41 Q479.21 705.63 479.9 704.86 Q480.6 704.09 481.97 704.32 Q483.35 704.55 484.45 704.63 Q485.55 704.71 486.34 705.24 Q487.13 705.77 487.55 706.47 Z" fill="#e46a62" opacity="0.85"/>
<circle cx="480.07" cy="710.59" r="1.16" fill="#f6c4bc" stroke="none" stroke-width="1"/>
<circle cx="486.19" cy="710.97" r="0.7" fill="#f6c4bc" stroke="none" stroke-width="1"/>
<circle cx="476.34" cy="704.1" r="0.92" fill="#f6c4bc" stroke="none" stroke-width="1"/>
<circle cx="483.9" cy="710.71" r="1.08" fill="#f6c4bc" stroke="none" stroke-width="1"/>
<circle cx="483.44" cy="709.22" r="0.87" fill="#f6c4bc" stroke="none" stroke-width="1"/>
<path d="M525.41 704.96 Q525.94 707 524.92 708.76 Q523.9 710.52 522.69 711.94 Q521.48 713.37 519.64 714.7 Q517.8 716.04 515.78 715.02 Q513.76 713.99 512.02 712.67 Q510.28 711.34 510.38 709.17 Q510.48 707 511.07 705.23 Q511.67 703.46 512.72 701.74 Q513.77 700.02 515.79 699.87 Q517.8 699.71 520.07 699.42 Q522.34 699.14 523.61 701.02 Q524.88 702.91 525.41 704.96 Z" fill="url(#tum)"/>
<path d="M520.81 705.56 Q521.33 706.19 521.11 707.04 Q520.9 707.88 520.45 708.67 Q520.01 709.46 519.2 709.4 Q518.4 709.33 517.83 708.91 Q517.26 708.5 516.77 708.06 Q516.28 707.63 516.16 706.91 Q516.04 706.19 515.74 705.2 Q515.44 704.2 516.21 703.76 Q516.97 703.31 517.69 703.19 Q518.4 703.07 518.96 703.5 Q519.51 703.93 519.9 704.43 Q520.29 704.92 520.81 705.56 Z" fill="#d8524e" opacity="0.85"/>
<path d="M517.68 704.17 Q517.51 705.04 517.32 705.7 Q517.13 706.36 516.57 706.74 Q516.01 707.12 515.4 707.36 Q514.78 707.6 513.93 707.76 Q513.08 707.92 512.59 707.24 Q512.09 706.56 511.91 705.8 Q511.73 705.04 512.23 704.46 Q512.73 703.88 513.13 703.4 Q513.54 702.93 514.16 702.48 Q514.78 702.03 515.51 702.3 Q516.25 702.56 517.05 702.94 Q517.85 703.31 517.68 704.17 Z" fill="#e87a70" opacity="0.85"/>
<circle cx="520.3" cy="705.03" r="1.26" fill="#f6c4bc" stroke="none" stroke-width="1"/>
<circle cx="517.76" cy="704" r="0.68" fill="#f6c4bc" stroke="none" stroke-width="1"/>
<circle cx="517" cy="708.59" r="1.26" fill="#f6c4bc" stroke="none" stroke-width="1"/>
<circle cx="514.41" cy="705.98" r="0.67" fill="#f6c4bc" stroke="none" stroke-width="1"/>
<path d="M564.21 705.2 Q565.5 707 564.9 709.14 Q564.3 711.27 562.65 713.11 Q561 714.95 558.3 715.72 Q555.6 716.49 553.39 715 Q551.18 713.51 549.05 712.39 Q546.92 711.26 546.37 709.13 Q545.81 707 545.65 704.52 Q545.49 702.04 547.8 700.48 Q550.12 698.93 552.86 699.01 Q555.6 699.09 558.2 699.22 Q560.8 699.34 561.86 701.37 Q562.92 703.41 564.21 705.2 Z" fill="url(#tum)"/>
<path d="M554.93 707.53 Q555.49 708.26 554.87 708.96 Q554.24 709.66 553.58 710.09 Q552.93 710.52 552.16 710.87 Q551.39 711.23 550.61 710.88 Q549.84 710.53 548.64 710.36 Q547.44 710.19 547.63 709.22 Q547.82 708.26 548 707.47 Q548.19 706.69 548.97 706.27 Q549.75 705.86 550.57 705.74 Q551.39 705.63 552.35 705.53 Q553.31 705.44 553.84 706.12 Q554.37 706.8 554.93 707.53 Z" fill="#d8524e" opacity="0.85"/>
<path d="M556.02 706.61 Q556.14 707.32 555.81 707.93 Q555.49 708.54 555.25 709.43 Q555.01 710.32 553.93 710.34 Q552.86 710.37 551.81 710.31 Q550.77 710.25 550.38 709.45 Q550 708.65 549.81 707.98 Q549.63 707.32 549.77 706.63 Q549.9 705.94 550.53 705.44 Q551.16 704.93 552.01 704.37 Q552.86 703.81 553.79 704.26 Q554.72 704.71 555.32 705.31 Q555.91 705.9 556.02 706.61 Z" fill="#e87a70" opacity="0.85"/>
<path d="M563.18 707.02 Q563.68 707.89 563.1 708.72 Q562.52 709.54 561.97 710.22 Q561.42 710.89 560.57 710.91 Q559.72 710.92 558.87 710.91 Q558.02 710.9 557.2 710.38 Q556.39 709.86 556.36 708.88 Q556.33 707.89 556.4 706.94 Q556.47 705.98 557.35 705.62 Q558.23 705.26 558.97 704.95 Q559.72 704.63 560.57 704.75 Q561.43 704.87 562.05 705.51 Q562.67 706.15 563.18 707.02 Z" fill="#d8524e" opacity="0.85"/>
<circle cx="559.38" cy="703.25" r="0.9" fill="#f6c4bc" stroke="none" stroke-width="1"/>
<circle cx="549.7" cy="711.4" r="0.74" fill="#f6c4bc" stroke="none" stroke-width="1"/>
<circle cx="557.91" cy="703.44" r="0.69" fill="#f6c4bc" stroke="none" stroke-width="1"/>
<circle cx="559.93" cy="706.6" r="1.13" fill="#f6c4bc" stroke="none" stroke-width="1"/>
<circle cx="556.75" cy="707.12" r="0.81" fill="#f6c4bc" stroke="none" stroke-width="1"/>
<path d="M588.67 704.77 Q589.36 707 588.62 709.18 Q587.89 711.36 586.94 713.19 Q586 715.02 584.5 714.4 Q583 713.78 581.72 713.81 Q580.45 713.83 579.46 712.44 Q578.46 711.05 577.98 709.02 Q577.5 707 577.43 704.48 Q577.35 701.96 578.95 701.2 Q580.55 700.45 581.78 699.63 Q583 698.82 584.27 699.51 Q585.54 700.2 586.76 701.38 Q587.99 702.55 588.67 704.77 Z" fill="url(#tum)"/>
<circle cx="581.9" cy="705.3" r="1.92" fill="#e47a70" stroke="none" stroke-width="1"/>
<path d="M617.08 705.43 Q618.3 707 617.69 708.95 Q617.09 710.91 615.48 711.82 Q613.88 712.74 612.34 713.23 Q610.8 713.71 609.4 712.97 Q608 712.23 606.26 711.56 Q604.53 710.9 604.18 708.95 Q603.82 707 604.23 705.08 Q604.64 703.17 606.12 702.1 Q607.6 701.02 609.2 701.14 Q610.8 701.27 612.35 701.25 Q613.89 701.23 614.87 702.54 Q615.85 703.86 617.08 705.43 Z" fill="url(#tum)"/>
<path d="M612.21 704.57 Q612.54 705.02 612.41 705.6 Q612.28 706.18 611.97 706.77 Q611.67 707.35 611.06 707.52 Q610.45 707.7 609.97 707.27 Q609.49 706.84 609.11 706.47 Q608.73 706.11 608.69 705.57 Q608.65 705.02 608.54 704.38 Q608.43 703.74 608.86 703.27 Q609.28 702.81 609.86 702.61 Q610.45 702.42 610.98 702.7 Q611.52 702.98 611.69 703.55 Q611.87 704.12 612.21 704.57 Z" fill="#e87a70" opacity="0.85"/>
<path d="M609.96 705.16 Q610.13 705.7 610.1 706.33 Q610.06 706.96 609.72 707.55 Q609.38 708.14 608.74 707.99 Q608.11 707.84 607.61 707.73 Q607.12 707.62 606.88 707.13 Q606.65 706.64 606.27 706.17 Q605.88 705.7 606.05 705.09 Q606.21 704.48 606.6 704 Q606.98 703.52 607.55 703.32 Q608.11 703.11 608.5 703.65 Q608.89 704.19 609.34 704.41 Q609.79 704.62 609.96 705.16 Z" fill="#c8383c" opacity="0.85"/>
<circle cx="607.24" cy="711.2" r="0.53" fill="#f6c4bc" stroke="none" stroke-width="1"/>
<circle cx="612.61" cy="710.48" r="1.15" fill="#f6c4bc" stroke="none" stroke-width="1"/>
<circle cx="613.29" cy="706.24" r="0.8" fill="#f6c4bc" stroke="none" stroke-width="1"/>
<path d="M651.51 704.95 Q651.59 707 651.03 708.79 Q650.48 710.57 649.15 711.99 Q647.83 713.4 645.86 714.75 Q643.9 716.09 641.64 715.23 Q639.38 714.37 637.52 712.93 Q635.66 711.48 636.19 709.24 Q636.73 707 637.03 705.22 Q637.33 703.43 638.43 701.65 Q639.53 699.87 641.71 699.46 Q643.9 699.05 646.37 699 Q648.84 698.95 650.13 700.93 Q651.43 702.91 651.51 704.95 Z" fill="url(#tum)"/>
<path d="M647.35 705.69 Q647.54 706.41 647.48 707.22 Q647.42 708.04 647.13 709.04 Q646.85 710.04 646.02 709.91 Q645.18 709.79 644.54 709.51 Q643.89 709.24 643.57 708.53 Q643.25 707.81 643.03 707.11 Q642.81 706.41 642.73 705.48 Q642.64 704.56 643.26 704.06 Q643.88 703.57 644.53 703.12 Q645.18 702.68 645.75 703.32 Q646.31 703.96 646.73 704.47 Q647.16 704.97 647.35 705.69 Z" fill="#e87a70" opacity="0.85"/>
<path d="M645.82 703.74 Q645.63 704.57 645.7 705.31 Q645.76 706.06 645.24 706.46 Q644.71 706.85 644.15 707.54 Q643.6 708.22 642.93 707.78 Q642.26 707.34 641.83 706.71 Q641.39 706.09 641.28 705.33 Q641.16 704.57 641.46 703.93 Q641.75 703.3 642.01 702.57 Q642.28 701.84 642.94 701.64 Q643.6 701.44 644.38 701.4 Q645.16 701.35 645.59 702.13 Q646.01 702.91 645.82 703.74 Z" fill="#c8383c" opacity="0.85"/>
<path d="M645.16 708.37 Q645.2 709.43 644.9 710.29 Q644.6 711.14 644.11 711.72 Q643.62 712.3 643 712.29 Q642.38 712.28 641.65 712.56 Q640.91 712.85 640.48 712.04 Q640.05 711.24 639.61 710.33 Q639.17 709.43 639.63 708.54 Q640.09 707.65 640.67 707.23 Q641.26 706.81 641.82 706.52 Q642.38 706.24 642.96 706.5 Q643.53 706.76 644.32 707.03 Q645.12 707.31 645.16 708.37 Z" fill="#e46a62" opacity="0.85"/>
<circle cx="642.88" cy="707.17" r="0.81" fill="#f6c4bc" stroke="none" stroke-width="1"/>
<circle cx="640.06" cy="704.57" r="1.08" fill="#f6c4bc" stroke="none" stroke-width="1"/>
<circle cx="647.95" cy="702.59" r="0.95" fill="#f6c4bc" stroke="none" stroke-width="1"/>
<circle cx="646.53" cy="702.57" r="1.17" fill="#f6c4bc" stroke="none" stroke-width="1"/>
<path d="M676.73 704.92 Q677.28 707 677.06 709.27 Q676.85 711.53 675.01 712.88 Q673.17 714.23 671.09 714.02 Q669 713.8 667.04 713.8 Q665.08 713.79 663.98 712.16 Q662.87 710.54 661.37 708.77 Q659.87 707 660.64 704.81 Q661.41 702.62 663.22 701.37 Q665.03 700.12 667.01 699.83 Q669 699.54 670.65 700.41 Q672.3 701.28 674.25 702.07 Q676.19 702.85 676.73 704.92 Z" fill="url(#tum)"/>
<path d="M670.44 708.13 Q670.75 708.9 670.38 709.64 Q670 710.38 669.44 711.01 Q668.89 711.64 667.99 711.34 Q667.09 711.04 666.3 711.19 Q665.5 711.34 664.89 710.84 Q664.27 710.34 663.92 709.62 Q663.58 708.9 663.61 708.02 Q663.64 707.13 664.66 706.94 Q665.68 706.74 666.39 706.34 Q667.09 705.95 667.8 706.35 Q668.5 706.75 669.31 707.05 Q670.12 707.35 670.44 708.13 Z" fill="#e46a62" opacity="0.85"/>
<path d="M673.7 709.13 Q674.24 709.84 674.13 710.82 Q674.03 711.79 673.22 712.27 Q672.41 712.74 671.61 713.01 Q670.81 713.27 670.17 712.74 Q669.52 712.2 668.86 711.81 Q668.2 711.43 667.89 710.63 Q667.57 709.84 667.6 708.88 Q667.63 707.91 668.28 707.16 Q668.92 706.4 669.87 706.6 Q670.81 706.79 671.56 706.97 Q672.3 707.14 672.73 707.78 Q673.16 708.42 673.7 709.13 Z" fill="#e87a70" opacity="0.85"/>
<circle cx="665.72" cy="710.81" r="0.72" fill="#f6c4bc" stroke="none" stroke-width="1"/>
<circle cx="672.03" cy="703.58" r="0.9" fill="#f6c4bc" stroke="none" stroke-width="1"/>
<circle cx="673.03" cy="704.2" r="0.71" fill="#f6c4bc" stroke="none" stroke-width="1"/>
<circle cx="669.06" cy="705.26" r="0.53" fill="#f6c4bc" stroke="none" stroke-width="1"/>
<path d="M486.62 735.11 Q487.94 736.4 487 737.88 Q486.05 739.36 484.71 740.34 Q483.36 741.32 481.68 741.34 Q480 741.35 478.58 740.95 Q477.16 740.56 475.64 739.91 Q474.12 739.27 473.69 737.84 Q473.25 736.4 473.4 734.83 Q473.55 733.25 475.19 732.5 Q476.83 731.76 478.42 731.6 Q480 731.45 481.6 731.58 Q483.2 731.7 484.25 732.76 Q485.29 733.81 486.62 735.11 Z" fill="url(#tum)"/>
<path d="M485.19 733.78 Q485.05 734.44 485.04 735.04 Q485.03 735.64 484.21 735.79 Q483.4 735.94 482.82 736.2 Q482.24 736.45 481.43 736.49 Q480.62 736.52 480.09 736.06 Q479.55 735.6 479.23 735.02 Q478.9 734.44 479.46 733.97 Q480.01 733.49 480.48 733.14 Q480.95 732.79 481.6 732.61 Q482.24 732.44 482.97 732.5 Q483.7 732.56 484.51 732.84 Q485.33 733.12 485.19 733.78 Z" fill="#e87a70" opacity="0.85"/>
<path d="M483.32 737.14 Q483.39 737.62 483.05 737.97 Q482.72 738.31 482.62 738.84 Q482.51 739.36 481.94 739.46 Q481.36 739.56 480.75 739.52 Q480.14 739.47 479.83 739.01 Q479.52 738.55 479.51 738.09 Q479.5 737.62 479.56 737.18 Q479.62 736.75 480.02 736.48 Q480.42 736.2 480.89 735.79 Q481.36 735.37 481.95 735.62 Q482.53 735.86 482.89 736.27 Q483.26 736.67 483.32 737.14 Z" fill="#c8383c" opacity="0.85"/>
<circle cx="477.69" cy="737.22" r="0.88" fill="#f6c4bc" stroke="none" stroke-width="1"/>
<circle cx="477.15" cy="739.28" r="0.69" fill="#f6c4bc" stroke="none" stroke-width="1"/>
<circle cx="477.26" cy="733.73" r="1.01" fill="#f6c4bc" stroke="none" stroke-width="1"/>
<path d="M524.91 734.65 Q524.79 736.4 525.11 738.28 Q525.44 740.16 524.04 741.3 Q522.64 742.44 521.02 743.32 Q519.4 744.2 517.76 743.35 Q516.13 742.5 515.47 740.88 Q514.81 739.25 513.81 737.83 Q512.8 736.4 513.45 734.75 Q514.09 733.1 514.77 731.07 Q515.46 729.05 517.43 728.9 Q519.4 728.75 520.89 729.79 Q522.38 730.83 523.71 731.87 Q525.03 732.9 524.91 734.65 Z" fill="url(#tum)"/>
<path d="M518.76 736.03 Q518.83 736.6 519.04 737.33 Q519.25 738.05 518.62 738.42 Q517.99 738.79 517.36 738.78 Q516.73 738.77 516.23 738.56 Q515.72 738.35 515.37 737.97 Q515.01 737.6 514.52 737.1 Q514.04 736.6 514.31 735.98 Q514.58 735.35 514.96 734.76 Q515.34 734.18 516.03 734.34 Q516.73 734.5 517.2 734.73 Q517.68 734.96 518.18 735.21 Q518.69 735.47 518.76 736.03 Z" fill="#e46a62" opacity="0.85"/>
<path d="M524.9 737.07 Q525.16 737.81 524.6 738.37 Q524.03 738.92 523.76 739.5 Q523.48 740.08 522.88 739.97 Q522.29 739.87 521.59 740.17 Q520.89 740.48 520.45 739.88 Q520 739.27 519.84 738.54 Q519.69 737.81 519.94 737.15 Q520.2 736.48 520.76 736.21 Q521.31 735.94 521.8 735.48 Q522.29 735.03 522.91 735.23 Q523.53 735.44 524.08 735.88 Q524.63 736.32 524.9 737.07 Z" fill="#e46a62" opacity="0.85"/>
<circle cx="517.57" cy="736.85" r="0.85" fill="#f6c4bc" stroke="none" stroke-width="1"/>
<circle cx="521.65" cy="736.6" r="0.71" fill="#f6c4bc" stroke="none" stroke-width="1"/>
<circle cx="520.51" cy="740.31" r="0.67" fill="#f6c4bc" stroke="none" stroke-width="1"/>
<path d="M561.15 735.21 Q561.56 736.4 561.54 737.82 Q561.52 739.24 560.54 740.38 Q559.55 741.51 558.08 742.28 Q556.6 743.05 555.33 741.93 Q554.06 740.8 553.15 739.86 Q552.23 738.92 551.77 737.66 Q551.31 736.4 551.63 735.05 Q551.94 733.71 552.7 732.33 Q553.46 730.96 555.03 730.8 Q556.6 730.65 558.05 731.01 Q559.51 731.37 560.12 732.69 Q560.73 734.01 561.15 735.21 Z" fill="url(#tum)"/>
<circle cx="555.5" cy="735.3" r="1.92" fill="#e47a70" stroke="none" stroke-width="1"/>
<path d="M591.36 735.25 Q591.38 736.4 591.28 737.52 Q591.18 738.63 589.93 739.36 Q588.68 740.1 587.14 740.99 Q585.6 741.88 583.93 741.14 Q582.26 740.4 580.95 739.59 Q579.64 738.78 579.62 737.59 Q579.6 736.4 580.26 735.47 Q580.93 734.53 581.58 733.44 Q582.23 732.35 583.91 732.06 Q585.6 731.76 587.4 731.92 Q589.21 732.07 590.28 733.09 Q591.34 734.1 591.36 735.25 Z" fill="url(#tum)"/>
<path d="M585.64 733.95 Q585.86 734.48 585.49 734.93 Q585.12 735.37 584.77 735.68 Q584.43 735.99 583.97 736.19 Q583.52 736.39 583.04 736.24 Q582.56 736.09 581.92 735.91 Q581.29 735.72 581.39 735.1 Q581.5 734.48 581.59 733.97 Q581.68 733.46 582.15 733.22 Q582.62 732.99 583.07 732.89 Q583.52 732.79 584.11 732.66 Q584.69 732.53 585.06 732.98 Q585.43 733.42 585.64 733.95 Z" fill="#e46a62" opacity="0.85"/>
<path d="M590.46 737.06 Q590.94 737.44 590.59 737.86 Q590.24 738.29 589.7 738.56 Q589.15 738.84 588.49 738.88 Q587.82 738.92 587.29 738.74 Q586.76 738.56 585.92 738.48 Q585.09 738.4 585.05 737.92 Q585.02 737.44 585.12 736.98 Q585.22 736.52 585.95 736.37 Q586.68 736.23 587.25 736.14 Q587.82 736.04 588.49 736.03 Q589.17 736.02 589.58 736.35 Q589.99 736.68 590.46 737.06 Z" fill="#e87a70" opacity="0.85"/>
<circle cx="585.01" cy="733.81" r="0.71" fill="#f6c4bc" stroke="none" stroke-width="1"/>
<circle cx="583.9" cy="737.57" r="0.79" fill="#f6c4bc" stroke="none" stroke-width="1"/>
<circle cx="584.2" cy="738.91" r="0.9" fill="#f6c4bc" stroke="none" stroke-width="1"/>
<path d="M619.23 735.12 Q619.2 736.4 619.47 737.8 Q619.74 739.2 618.69 740.47 Q617.64 741.73 615.82 741.99 Q614 742.25 612.3 741.82 Q610.6 741.39 609.92 740.06 Q609.24 738.73 608.47 737.56 Q607.71 736.4 608.15 735.08 Q608.59 733.76 609.47 732.41 Q610.35 731.06 612.18 730.7 Q614 730.35 615.54 731.12 Q617.08 731.89 618.17 732.86 Q619.26 733.83 619.23 735.12 Z" fill="url(#tum)"/>
<path d="M613.52 734.36 Q613.8 734.93 613.73 735.6 Q613.66 736.28 613.16 736.85 Q612.66 737.42 611.87 737.27 Q611.08 737.13 610.45 737.03 Q609.81 736.93 609.43 736.47 Q609.04 736 608.76 735.46 Q608.47 734.93 608.34 734.17 Q608.21 733.41 608.97 733.1 Q609.73 732.79 610.41 732.55 Q611.08 732.32 611.63 732.75 Q612.18 733.19 612.71 733.49 Q613.24 733.79 613.52 734.36 Z" fill="#e46a62" opacity="0.85"/>
<path d="M618.77 737.13 Q618.97 737.72 618.61 738.21 Q618.25 738.71 617.97 739.2 Q617.69 739.7 617.13 740.17 Q616.57 740.63 615.92 740.32 Q615.27 740.01 614.69 739.58 Q614.11 739.16 614.24 738.44 Q614.37 737.72 614.57 737.19 Q614.76 736.66 615.1 736.2 Q615.44 735.74 616 735.54 Q616.57 735.34 617.32 735.2 Q618.08 735.06 618.32 735.8 Q618.57 736.54 618.77 737.13 Z" fill="#c8383c" opacity="0.85"/>
<circle cx="617.46" cy="733.94" r="0.98" fill="#f6c4bc" stroke="none" stroke-width="1"/>
<circle cx="615.48" cy="737.1" r="0.53" fill="#f6c4bc" stroke="none" stroke-width="1"/>
<circle cx="614.64" cy="736.54" r="1.19" fill="#f6c4bc" stroke="none" stroke-width="1"/>
<path d="M647.82 735.19 Q647.61 736.4 646.9 737.31 Q646.19 738.21 645.13 738.98 Q644.08 739.74 642.39 739.79 Q640.7 739.84 638.74 740.06 Q636.78 740.28 635.62 739.37 Q634.46 738.46 633.81 737.43 Q633.15 736.4 634.01 735.44 Q634.86 734.47 636.31 733.98 Q637.76 733.49 639.23 732.92 Q640.7 732.35 642.5 732.6 Q644.29 732.84 646.16 733.41 Q648.03 733.98 647.82 735.19 Z" fill="url(#tum)"/>
<path d="M644.28 736.8 Q644.46 737.2 644.05 737.54 Q643.65 737.87 643.33 738.25 Q643.01 738.63 642.23 738.8 Q641.44 738.97 640.5 738.94 Q639.55 738.91 639.07 738.49 Q638.58 738.07 638.68 737.64 Q638.77 737.2 638.86 736.83 Q638.94 736.45 639.56 736.25 Q640.17 736.05 640.8 735.73 Q641.44 735.41 642.3 735.52 Q643.17 735.64 643.64 736.02 Q644.11 736.4 644.28 736.8 Z" fill="#e87a70" opacity="0.85"/>
<path d="M641.02 736.55 Q641.22 736.9 640.98 737.23 Q640.74 737.57 640.21 737.7 Q639.68 737.83 639.23 738.03 Q638.79 738.23 638.25 738.12 Q637.72 738.01 637.1 737.85 Q636.49 737.69 636.5 737.29 Q636.52 736.9 636.76 736.59 Q637 736.28 637.38 736.06 Q637.76 735.84 638.27 735.81 Q638.79 735.78 639.44 735.66 Q640.1 735.53 640.46 735.86 Q640.82 736.19 641.02 736.55 Z" fill="#d8524e" opacity="0.85"/>
<circle cx="643.61" cy="737.21" r="1.02" fill="#f6c4bc" stroke="none" stroke-width="1"/>
<circle cx="643.87" cy="737.08" r="0.97" fill="#f6c4bc" stroke="none" stroke-width="1"/>
<circle cx="638.42" cy="734.87" r="0.6" fill="#f6c4bc" stroke="none" stroke-width="1"/>
<path d="M669.96 734.94 Q670.48 736.4 669.66 737.65 Q668.85 738.9 668.09 739.8 Q667.33 740.7 666.31 741.12 Q665.3 741.55 664.11 741.49 Q662.93 741.43 661.9 740.48 Q660.87 739.53 660.82 737.96 Q660.76 736.4 661.07 735.02 Q661.39 733.64 662.46 733.15 Q663.53 732.65 664.41 731.77 Q665.3 730.89 666.54 731.02 Q667.78 731.15 668.61 732.31 Q669.45 733.47 669.96 734.94 Z" fill="url(#tum)"/>
<circle cx="664.4" cy="735.3" r="1.57" fill="#e47a70" stroke="none" stroke-width="1"/>
<path d="M484.86 764.08 Q484.94 765.2 485.06 766.44 Q485.19 767.68 484.31 768.64 Q483.44 769.59 482.17 770.23 Q480.9 770.86 479.84 769.87 Q478.77 768.88 478.09 768.05 Q477.4 767.22 476.93 766.21 Q476.46 765.2 476.67 764.04 Q476.87 762.87 477.41 761.48 Q477.95 760.09 479.43 760.32 Q480.9 760.54 482.07 760.84 Q483.24 761.15 484.01 762.05 Q484.79 762.95 484.86 764.08 Z" fill="url(#tum)"/>
<circle cx="479.95" cy="764.25" r="1.66" fill="#e47a70" stroke="none" stroke-width="1"/>
<path d="M524.37 764.01 Q524.98 765.2 523.66 766.11 Q522.35 767.02 521.61 767.95 Q520.87 768.89 519.34 769.24 Q517.8 769.59 516.17 769.35 Q514.54 769.1 512.75 768.52 Q510.96 767.93 511.3 766.57 Q511.64 765.2 511.8 764.03 Q511.97 762.87 513.53 762.41 Q515.09 761.95 516.44 761.44 Q517.8 760.93 519.73 760.75 Q521.66 760.57 522.71 761.69 Q523.76 762.82 524.37 764.01 Z" fill="url(#tum)"/>
<path d="M520.51 765.43 Q520.99 765.76 520.83 766.22 Q520.67 766.69 520.15 766.96 Q519.62 767.22 519.04 767.33 Q518.47 767.44 518.07 767.1 Q517.68 766.75 517.15 766.65 Q516.61 766.54 516.45 766.15 Q516.28 765.76 516.24 765.28 Q516.21 764.8 516.68 764.45 Q517.15 764.09 517.81 764.19 Q518.47 764.28 519.03 764.31 Q519.58 764.34 519.81 764.72 Q520.04 765.09 520.51 765.43 Z" fill="#c8383c" opacity="0.85"/>
<path d="M518.36 765.79 Q518.25 766.32 518.05 766.74 Q517.85 767.15 517.37 767.44 Q516.88 767.72 516.26 767.82 Q515.63 767.92 514.78 768.07 Q513.93 768.23 513.49 767.76 Q513.04 767.29 512.88 766.81 Q512.72 766.32 513.13 765.93 Q513.54 765.53 514.03 765.3 Q514.52 765.07 515.08 764.79 Q515.63 764.51 516.35 764.61 Q517.06 764.71 517.76 764.98 Q518.46 765.26 518.36 765.79 Z" fill="#c8383c" opacity="0.85"/>
<circle cx="515.99" cy="764.53" r="0.7" fill="#f6c4bc" stroke="none" stroke-width="1"/>
<circle cx="517.22" cy="763.5" r="0.5" fill="#f6c4bc" stroke="none" stroke-width="1"/>
<circle cx="519.53" cy="764.02" r="0.7" fill="#f6c4bc" stroke="none" stroke-width="1"/>
<path d="M558.22 764.05 Q558.43 765.2 557.93 766.19 Q557.43 767.18 556.72 767.94 Q556.02 768.7 555.01 768.54 Q554 768.39 552.91 768.69 Q551.81 768.99 551.01 768.19 Q550.2 767.39 550.02 766.3 Q549.83 765.2 549.99 764.09 Q550.15 762.98 551.19 762.55 Q552.22 762.11 553.11 761.64 Q554 761.17 554.87 761.68 Q555.74 762.18 556.87 762.54 Q558 762.89 558.22 764.05 Z" fill="url(#tum)"/>
<circle cx="553.2" cy="764.4" r="1.4" fill="#e47a70" stroke="none" stroke-width="1"/>
<path d="M589.25 764.19 Q589.23 765.2 589.2 766.18 Q589.17 767.16 588.5 767.79 Q587.83 768.42 587.01 769.08 Q586.2 769.73 585.34 769.17 Q584.47 768.62 583.78 767.94 Q583.09 767.25 583.11 766.23 Q583.13 765.2 583.31 764.31 Q583.49 763.41 583.95 762.53 Q584.41 761.66 585.3 761.5 Q586.2 761.35 587.27 761.15 Q588.35 760.95 588.81 762.06 Q589.27 763.18 589.25 764.19 Z" fill="url(#tum)"/>
<path d="M621.95 764.01 Q622.24 765.2 622.21 766.56 Q622.17 767.91 621.03 768.39 Q619.88 768.87 618.94 769.31 Q618 769.75 617.09 769.25 Q616.18 768.75 615.31 768.13 Q614.44 767.51 614 766.36 Q613.55 765.2 613.97 764.02 Q614.38 762.85 615.11 761.92 Q615.84 760.98 616.92 761.14 Q618 761.29 618.92 761.44 Q619.85 761.6 620.76 762.21 Q621.67 762.82 621.95 764.01 Z" fill="url(#tum)"/>
<circle cx="617.2" cy="764.3" r="1.4" fill="#e47a70" stroke="none" stroke-width="1"/>
<path d="M647.68 764.28 Q647.83 765.2 647.32 765.88 Q646.81 766.55 646.53 767.35 Q646.26 768.15 645.53 768.39 Q644.8 768.62 644 768.54 Q643.19 768.45 642.57 767.78 Q641.95 767.12 642.06 766.16 Q642.16 765.2 642.23 764.36 Q642.3 763.52 642.89 763.01 Q643.47 762.51 644.14 761.95 Q644.8 761.39 645.61 761.65 Q646.43 761.91 646.97 762.64 Q647.52 763.37 647.68 764.28 Z" fill="url(#tum)"/>
<path d="M673.84 763.98 Q673.75 765.2 673.36 766.15 Q672.98 767.09 672.27 767.75 Q671.55 768.41 670.63 768.59 Q669.7 768.77 668.48 769.1 Q667.26 769.42 666.76 768.3 Q666.26 767.18 665.84 766.19 Q665.42 765.2 665.93 764.26 Q666.43 763.31 667.28 762.89 Q668.12 762.47 668.91 761.71 Q669.7 760.94 670.73 761.29 Q671.75 761.64 672.84 762.2 Q673.93 762.76 673.84 763.98 Z" fill="url(#tum)"/>
<circle cx="668.9" cy="764.4" r="1.4" fill="#e47a70" stroke="none" stroke-width="1"/>
<path d="M487.81 790.49 Q488.19 792 487.69 793.44 Q487.19 794.88 485.9 795.53 Q484.62 796.18 483.41 796.64 Q482.2 797.09 480.88 796.83 Q479.56 796.57 478.16 795.86 Q476.76 795.14 476.49 793.57 Q476.22 792 476.83 790.63 Q477.45 789.26 478.5 788.34 Q479.56 787.42 480.88 787.46 Q482.2 787.49 483.66 787.21 Q485.13 786.93 486.28 787.96 Q487.42 788.98 487.81 790.49 Z" fill="url(#tum)"/>
<circle cx="481.1" cy="790.9" r="1.92" fill="#e47a70" stroke="none" stroke-width="1"/>
<path d="M524.99 791.33 Q525.29 792 524.92 792.64 Q524.55 793.28 524.04 793.82 Q523.53 794.36 522.72 794.17 Q521.9 793.98 521.14 794.08 Q520.39 794.18 519.83 793.72 Q519.28 793.26 518.97 792.63 Q518.67 792 518.84 791.3 Q519 790.61 519.78 790.34 Q520.56 790.07 521.23 789.76 Q521.9 789.45 522.57 789.76 Q523.24 790.07 523.97 790.36 Q524.69 790.66 524.99 791.33 Z" fill="url(#tum)"/>
<path d="M557.03 791.37 Q557.44 792 556.93 792.58 Q556.42 793.17 555.95 793.65 Q555.48 794.13 554.74 794.2 Q554 794.26 553.3 794.14 Q552.6 794.02 551.78 793.74 Q550.96 793.46 550.87 792.73 Q550.79 792 550.98 791.32 Q551.18 790.64 552 790.47 Q552.82 790.3 553.41 790.01 Q554 789.72 554.71 789.84 Q555.42 789.95 556.02 790.34 Q556.63 790.74 557.03 791.37 Z" fill="url(#tum)"/>
<path d="M592.92 791.28 Q593.05 792 593.11 792.83 Q593.17 793.66 592.63 794.37 Q592.08 795.09 591.19 795.05 Q590.3 795.01 589.52 794.85 Q588.75 794.69 588.45 793.97 Q588.15 793.24 587.69 792.62 Q587.24 792 587.4 791.21 Q587.55 790.41 588.1 789.77 Q588.64 789.13 589.47 788.94 Q590.3 788.76 590.96 789.23 Q591.62 789.71 592.21 790.14 Q592.79 790.56 592.92 791.28 Z" fill="url(#tum)"/>
<path d="M621.84 791.52 Q622 792 621.87 792.5 Q621.74 793 621.5 793.54 Q621.26 794.07 620.73 794.42 Q620.2 794.76 619.71 794.34 Q619.21 793.92 618.85 793.52 Q618.48 793.12 618.46 792.56 Q618.44 792 618.46 791.44 Q618.48 790.88 618.79 790.37 Q619.1 789.85 619.65 789.78 Q620.2 789.71 620.75 789.78 Q621.3 789.85 621.49 790.44 Q621.68 791.04 621.84 791.52 Z" fill="url(#tum)"/>
<path d="M652.82 791.32 Q653.08 792 652.72 792.62 Q652.36 793.25 651.86 793.64 Q651.37 794.02 650.78 794.05 Q650.2 794.08 649.59 794.1 Q648.97 794.12 648.46 793.71 Q647.95 793.3 647.69 792.65 Q647.44 792 647.64 791.32 Q647.85 790.64 648.48 790.37 Q649.1 790.1 649.65 789.84 Q650.2 789.59 650.75 789.84 Q651.31 790.08 651.93 790.36 Q652.55 790.64 652.82 791.32 Z" fill="url(#tum)"/>
<path d="M483.47 815.48 Q483.5 816.3 483.28 817.01 Q483.06 817.72 482.48 818.13 Q481.89 818.53 481.24 819.05 Q480.6 819.56 479.79 819.33 Q478.98 819.11 478.46 818.47 Q477.93 817.84 477.87 817.07 Q477.82 816.3 478.21 815.73 Q478.61 815.15 478.88 814.47 Q479.15 813.78 479.87 813.53 Q480.6 813.27 481.44 813.34 Q482.27 813.4 482.86 814.03 Q483.45 814.66 483.47 815.48 Z" fill="url(#tum)"/>
<path d="M521.33 815.61 Q521.57 816.3 521.6 817.15 Q521.64 818 520.92 818.45 Q520.2 818.91 519.45 819.05 Q518.7 819.19 518.03 818.91 Q517.35 818.63 516.88 818.13 Q516.4 817.63 515.95 816.96 Q515.51 816.3 515.72 815.5 Q515.93 814.7 516.45 814 Q516.97 813.3 517.83 813.41 Q518.7 813.51 519.4 813.69 Q520.1 813.87 520.6 814.4 Q521.09 814.92 521.33 815.61 Z" fill="url(#tum)"/>
<path d="M558.33 815.59 Q558.11 816.3 558.16 816.93 Q558.2 817.55 557.59 817.92 Q556.98 818.3 556.29 818.69 Q555.6 819.09 554.71 818.98 Q553.82 818.88 553.55 818.15 Q553.29 817.41 553.04 816.86 Q552.79 816.3 553.08 815.77 Q553.38 815.23 553.72 814.65 Q554.05 814.06 554.83 813.87 Q555.6 813.67 556.37 813.87 Q557.14 814.07 557.84 814.48 Q558.54 814.89 558.33 815.59 Z" fill="url(#tum)"/>
<path d="M594.07 815.54 Q594.3 816.3 594.21 817.14 Q594.12 817.98 593.34 818.32 Q592.56 818.66 591.88 818.93 Q591.2 819.19 590.54 818.89 Q589.88 818.59 589.25 818.19 Q588.62 817.79 588.24 817.04 Q587.85 816.3 588.16 815.51 Q588.46 814.72 589.04 814.13 Q589.61 813.55 590.41 813.62 Q591.2 813.69 591.9 813.79 Q592.6 813.88 593.22 814.33 Q593.84 814.77 594.07 815.54 Z" fill="url(#tum)"/>
<path d="M623.9 815.7 Q623.9 816.3 623.78 816.84 Q623.66 817.37 623.15 817.57 Q622.64 817.76 622.22 817.95 Q621.8 818.14 621.3 818.09 Q620.79 818.04 620.34 817.73 Q619.88 817.41 619.66 816.85 Q619.45 816.3 619.82 815.84 Q620.19 815.37 620.54 815.04 Q620.88 814.7 621.34 814.58 Q621.8 814.46 622.33 814.45 Q622.87 814.45 623.38 814.77 Q623.89 815.09 623.9 815.7 Z" fill="url(#tum)"/>
<path d="M651.24 815.8 Q651.35 816.3 651.12 816.73 Q650.9 817.16 650.69 817.6 Q650.48 818.04 650.04 818.23 Q649.6 818.42 649.11 818.32 Q648.63 818.22 648.25 817.83 Q647.87 817.44 647.95 816.87 Q648.03 816.3 648.1 815.83 Q648.17 815.36 648.52 815.11 Q648.87 814.86 649.24 814.51 Q649.6 814.17 650.09 814.27 Q650.58 814.37 650.85 814.83 Q651.12 815.29 651.24 815.8 Z" fill="url(#tum)"/>
<path d="M675.73 815.86 Q675.78 816.3 675.98 816.85 Q676.19 817.4 675.65 817.76 Q675.11 818.12 674.46 818.42 Q673.8 818.71 673.18 818.37 Q672.56 818.02 672.24 817.6 Q671.92 817.17 671.62 816.73 Q671.32 816.3 671.53 815.83 Q671.75 815.35 672.03 814.79 Q672.31 814.24 673.06 814.18 Q673.8 814.12 674.44 814.32 Q675.08 814.53 675.38 814.98 Q675.69 815.43 675.73 815.86 Z" fill="url(#tum)"/>
<path d="M482.5 839.04 Q482.23 840.3 482.26 841.42 Q482.29 842.55 481.38 843.22 Q480.47 843.89 479.44 844.41 Q478.4 844.93 477.12 844.84 Q475.83 844.75 475.09 843.69 Q474.35 842.64 474.04 841.47 Q473.74 840.3 474.56 839.43 Q475.37 838.55 475.81 837.56 Q476.25 836.57 477.32 836.09 Q478.4 835.6 479.67 835.76 Q480.94 835.91 481.86 836.84 Q482.78 837.77 482.5 839.04 Z" fill="url(#tum)"/>
<circle cx="477.5" cy="839.4" r="1.57" fill="#e47a70" stroke="none" stroke-width="1"/>
<path d="M524.75 839.53 Q524.95 840.3 524.93 841.17 Q524.91 842.04 524.16 842.47 Q523.4 842.9 522.65 843.13 Q521.9 843.35 521.19 843.06 Q520.48 842.76 520.02 842.2 Q519.57 841.65 519.04 840.97 Q518.51 840.3 518.85 839.52 Q519.19 838.73 519.74 838.12 Q520.28 837.5 521.09 837.59 Q521.9 837.67 522.53 837.9 Q523.15 838.13 523.85 838.45 Q524.56 838.77 524.75 839.53 Z" fill="url(#tum)"/>
<path d="M560.86 839.44 Q560.93 840.3 560.63 841.03 Q560.33 841.76 559.74 842.2 Q559.15 842.64 558.48 842.65 Q557.8 842.66 556.93 842.99 Q556.06 843.31 555.6 842.58 Q555.13 841.84 554.86 841.07 Q554.59 840.3 554.89 839.55 Q555.19 838.79 555.83 838.4 Q556.48 838.01 557.14 837.73 Q557.8 837.46 558.51 837.64 Q559.23 837.82 560.01 838.2 Q560.79 838.57 560.86 839.44 Z" fill="url(#tum)"/>
<path d="M596.24 839.48 Q596.22 840.3 596.09 841.04 Q595.96 841.78 595.35 842.2 Q594.74 842.61 594.07 843.09 Q593.4 843.57 592.62 843.28 Q591.84 842.99 591.18 842.48 Q590.52 841.96 590.44 841.13 Q590.37 840.3 590.77 839.66 Q591.17 839.01 591.52 838.32 Q591.86 837.63 592.63 837.52 Q593.4 837.4 594.31 837.27 Q595.22 837.14 595.74 837.9 Q596.25 838.66 596.24 839.48 Z" fill="url(#tum)"/>
<path d="M625.73 839.56 Q626.08 840.3 625.79 841.08 Q625.5 841.86 624.77 842.16 Q624.05 842.47 623.43 842.75 Q622.8 843.04 622.14 842.81 Q621.49 842.58 620.64 842.31 Q619.79 842.04 619.66 841.17 Q619.54 840.3 619.76 839.49 Q619.98 838.67 620.6 838.12 Q621.23 837.58 622.01 837.8 Q622.8 838.03 623.58 837.82 Q624.35 837.61 624.86 838.21 Q625.37 838.81 625.73 839.56 Z" fill="url(#tum)"/>
<path d="M652 839.85 Q652.25 840.3 652.24 840.89 Q652.23 841.47 651.7 841.73 Q651.17 841.98 650.69 842.2 Q650.2 842.41 649.77 842.1 Q649.35 841.78 648.93 841.53 Q648.51 841.28 648.26 840.79 Q648.02 840.3 648.23 839.79 Q648.45 839.29 648.74 838.78 Q649.03 838.28 649.62 838.39 Q650.2 838.49 650.66 838.6 Q651.11 838.72 651.43 839.06 Q651.74 839.41 652 839.85 Z" fill="url(#tum)"/>
<path d="M674.46 839.89 Q674.75 840.3 674.41 840.68 Q674.07 841.07 673.71 841.37 Q673.35 841.67 672.83 841.57 Q672.3 841.48 671.8 841.53 Q671.31 841.59 670.84 841.36 Q670.37 841.14 670.27 840.72 Q670.17 840.3 670.2 839.85 Q670.24 839.41 670.86 839.33 Q671.49 839.24 671.89 839.1 Q672.3 838.96 672.78 839 Q673.27 839.04 673.72 839.27 Q674.17 839.49 674.46 839.89 Z" fill="url(#tum)"/>
<text x="685" y="677.6" font-size="14.24" fill="#222" textLength="83.7" lengthAdjust="spacingAndGlyphs">Vehicle control</text>
<text x="685" y="713.3" font-size="14.24" fill="#222" textLength="38" lengthAdjust="spacingAndGlyphs">DMSO</text>
<text x="685" y="743.9" font-size="14.24" fill="#222" textLength="54" lengthAdjust="spacingAndGlyphs">Selinexor</text>
<text x="685" y="771.9" font-size="14.24" fill="#222" textLength="42.5" lengthAdjust="spacingAndGlyphs">Eribulin</text>
<text x="685" y="796.6" font-size="14.24" fill="#222" textLength="67.7" lengthAdjust="spacingAndGlyphs">Doxorubicin</text>
<text x="685" y="826.3" font-size="14.24" fill="#222" textLength="49.3" lengthAdjust="spacingAndGlyphs">Sel+Dox</text>
<text x="685" y="850.6" font-size="14.24" fill="#222" textLength="44.8" lengthAdjust="spacingAndGlyphs">Sel+Eri</text>
<text x="424.7" y="893.55" font-size="10.9" fill="#222" textLength="9.3" lengthAdjust="spacingAndGlyphs">(L)</text>
<text x="450.2" y="901.1" font-size="13.95" fill="#222" textLength="37.5" lengthAdjust="spacingAndGlyphs">Control</text>
<text x="492.7" y="901.1" font-size="13.95" fill="#222" textLength="61.9" lengthAdjust="spacingAndGlyphs">Doxorubicin</text>
<text x="561.4" y="901.1" font-size="13.95" fill="#222" textLength="38.6" lengthAdjust="spacingAndGlyphs">Eribulin</text>
<text x="604.9" y="901.1" font-size="13.95" fill="#222" textLength="50.3" lengthAdjust="spacingAndGlyphs">Selinexor</text>
<text x="659.9" y="901.1" font-size="13.95" fill="#222" textLength="46.1" lengthAdjust="spacingAndGlyphs">Sel+Dox</text>
<text x="712.6" y="901.1" font-size="13.95" fill="#222" textLength="39" lengthAdjust="spacingAndGlyphs">Sel+Eri</text>
<text x="762" y="930.3" font-size="13.95" fill="#222" textLength="24" lengthAdjust="spacingAndGlyphs">H&amp;E</text>
<text x="762" y="985.3" font-size="13.95" fill="#222" textLength="22.5" lengthAdjust="spacingAndGlyphs">Ki67</text>
<text x="762" y="1040.4" font-size="13.95" fill="#222" textLength="29.6" lengthAdjust="spacingAndGlyphs">XPO1</text>
<defs><filter id="n00a" x="0" y="0" width="1" height="1" color-interpolation-filters="sRGB"><feTurbulence type="fractalNoise" baseFrequency="0.55" numOctaves="2" seed="3"/><feColorMatrix type="matrix" values="0 0 0 0 0.290 0 0 0 0 0.157 0 0 0 0 0.471 7 0 0 0 -4.05"/></filter><filter id="n00b" x="0" y="0" width="1" height="1" color-interpolation-filters="sRGB"><feTurbulence type="fractalNoise" baseFrequency="0.12" numOctaves="2" seed="4"/><feColorMatrix type="matrix" values="0 0 0 0 0.910 0 0 0 0 0.816 0 0 0 0 0.910 3 0 0 0 -1.75"/></filter><filter id="n01a" x="0" y="0" width="1" height="1" color-interpolation-filters="sRGB"><feTurbulence type="fractalNoise" baseFrequency="0.6" numOctaves="2" seed="16"/><feColorMatrix type="matrix" values="0 0 0 0 0.541 0 0 0 0 0.416 0 0 0 0 0.345 6 0 0 0 -2.95"/></filter><filter id="n01b" x="0" y="0" width="1" height="1" color-interpolation-filters="sRGB"><feTurbulence type="fractalNoise" baseFrequency="0.8" numOctaves="1" seed="18"/><feColorMatrix type="matrix" values="0 0 0 0 0.227 0 0 0 0 0.141 0 0 0 0 0.094 14 0 0 0 -10.0"/></filter><filter id="n02b" x="0" y="0" width="1" height="1" color-interpolation-filters="sRGB"><feTurbulence type="fractalNoise" baseFrequency="0.15" numOctaves="2" seed="30"/><feColorMatrix type="matrix" values="0 0 0 0 0.722 0 0 0 0 0.541 0 0 0 0 0.376 3 0 0 0 -0.825"/></filter><filter id="n02a" x="0" y="0" width="1" height="1" color-interpolation-filters="sRGB"><feTurbulence type="fractalNoise" baseFrequency="0.5" numOctaves="2" seed="29"/><feColorMatrix type="matrix" values="0 0 0 0 0.612 0 0 0 0 0.416 0 0 0 0 0.235 6 0 0 0 -2.6"/></filter><filter id="n10a" x="0" y="0" width="1" height="1" color-interpolation-filters="sRGB"><feTurbulence type="fractalNoise" baseFrequency="0.55" numOctaves="2" seed="10"/><feColorMatrix type="matrix" values="0 0 0 0 0.416 0 0 0 0 0.227 0 0 0 0 0.502 7 0 0 0 -4.05"/></filter><filter id="n10b" x="0" y="0" width="1" height="1" color-interpolation-filters="sRGB"><feTurbulence type="fractalNoise" baseFrequency="0.12" numOctaves="2" seed="11"/><feColorMatrix type="matrix" values="0 0 0 0 0.910 0 0 0 0 0.816 0 0 0 0 0.910 3 0 0 0 -1.75"/></filter><filter id="n11a" x="0" y="0" width="1" height="1" color-interpolation-filters="sRGB"><feTurbulence type="fractalNoise" baseFrequency="0.6" numOctaves="2" seed="23"/><feColorMatrix type="matrix" values="0 0 0 0 0.541 0 0 0 0 0.416 0 0 0 0 0.345 6 0 0 0 -3.0700000000000003"/></filter><filter id="n11b" x="0" y="0" width="1" height="1" color-interpolation-filters="sRGB"><feTurbulence type="fractalNoise" baseFrequency="0.8" numOctaves="1" seed="25"/><feColorMatrix type="matrix" values="0 0 0 0 0.227 0 0 0 0 0.141 0 0 0 0 0.094 14 0 0 0 -10.0"/></filter><filter id="n12b" x="0" y="0" width="1" height="1" color-interpolation-filters="sRGB"><feTurbulence type="fractalNoise" baseFrequency="0.15" numOctaves="2" seed="37"/><feColorMatrix type="matrix" values="0 0 0 0 0.722 0 0 0 0 0.541 0 0 0 0 0.376 3 0 0 0 -1.095"/></filter><filter id="n12a" x="0" y="0" width="1" height="1" color-interpolation-filters="sRGB"><feTurbulence type="fractalNoise" baseFrequency="0.5" numOctaves="2" seed="36"/><feColorMatrix type="matrix" values="0 0 0 0 0.612 0 0 0 0 0.416 0 0 0 0 0.235 6 0 0 0 -2.8400000000000003"/></filter><filter id="n20a" x="0" y="0" width="1" height="1" color-interpolation-filters="sRGB"><feTurbulence type="fractalNoise" baseFrequency="0.55" numOctaves="2" seed="17"/><feColorMatrix type="matrix" values="0 0 0 0 0.345 0 0 0 0 0.188 0 0 0 0 0.486 7 0 0 0 -4.05"/></filter><filter id="n20b" x="0" y="0" width="1" height="1" color-interpolation-filters="sRGB"><feTurbulence type="fractalNoise" baseFrequency="0.12" numOctaves="2" seed="18"/><feColorMatrix type="matrix" values="0 0 0 0 0.910 0 0 0 0 0.816 0 0 0 0 0.910 3 0 0 0 -1.75"/></filter><filter id="n21a" x="0" y="0" width="1" height="1" color-interpolation-filters="sRGB"><feTurbulence type="fractalNoise" baseFrequency="0.6" numOctaves="2" seed="30"/><feColorMatrix type="matrix" values="0 0 0 0 0.541 0 0 0 0 0.416 0 0 0 0 0.345 6 0 0 0 -2.95"/></filter><filter id="n21b" x="0" y="0" width="1" height="1" color-interpolation-filters="sRGB"><feTurbulence type="fractalNoise" baseFrequency="0.8" numOctaves="1" seed="32"/><feColorMatrix type="matrix" values="0 0 0 0 0.227 0 0 0 0 0.141 0 0 0 0 0.094 14 0 0 0 -10.0"/></filter><filter id="n22b" x="0" y="0" width="1" height="1" color-interpolation-filters="sRGB"><feTurbulence type="fractalNoise" baseFrequency="0.15" numOctaves="2" seed="44"/><feColorMatrix type="matrix" values="0 0 0 0 0.722 0 0 0 0 0.541 0 0 0 0 0.376 3 0 0 0 -1.005"/></filter><filter id="n22a" x="0" y="0" width="1" height="1" color-interpolation-filters="sRGB"><feTurbulence type="fractalNoise" baseFrequency="0.5" numOctaves="2" seed="43"/><feColorMatrix type="matrix" values="0 0 0 0 0.612 0 0 0 0 0.416 0 0 0 0 0.235 6 0 0 0 -2.7600000000000002"/></filter><filter id="n30a" x="0" y="0" width="1" height="1" color-interpolation-filters="sRGB"><feTurbulence type="fractalNoise" baseFrequency="0.55" numOctaves="2" seed="24"/><feColorMatrix type="matrix" values="0 0 0 0 0.298 0 0 0 0 0.165 0 0 0 0 0.471 7 0 0 0 -4.05"/></filter><filter id="n30b" x="0" y="0" width="1" height="1" color-interpolation-filters="sRGB"><feTurbulence type="fractalNoise" baseFrequency="0.12" numOctaves="2" seed="25"/><feColorMatrix type="matrix" values="0 0 0 0 0.910 0 0 0 0 0.816 0 0 0 0 0.910 3 0 0 0 -1.75"/></filter><filter id="n31a" x="0" y="0" width="1" height="1" color-interpolation-filters="sRGB"><feTurbulence type="fractalNoise" baseFrequency="0.6" numOctaves="2" seed="37"/><feColorMatrix type="matrix" values="0 0 0 0 0.541 0 0 0 0 0.416 0 0 0 0 0.345 6 0 0 0 -2.95"/></filter><filter id="n31b" x="0" y="0" width="1" height="1" color-interpolation-filters="sRGB"><feTurbulence type="fractalNoise" baseFrequency="0.8" numOctaves="1" seed="39"/><feColorMatrix type="matrix" values="0 0 0 0 0.227 0 0 0 0 0.141 0 0 0 0 0.094 14 0 0 0 -10.0"/></filter><filter id="n32b" x="0" y="0" width="1" height="1" color-interpolation-filters="sRGB"><feTurbulence type="fractalNoise" baseFrequency="0.15" numOctaves="2" seed="51"/><feColorMatrix type="matrix" values="0 0 0 0 0.722 0 0 0 0 0.541 0 0 0 0 0.376 3 0 0 0 -1.068"/></filter><filter id="n32a" x="0" y="0" width="1" height="1" color-interpolation-filters="sRGB"><feTurbulence type="fractalNoise" baseFrequency="0.5" numOctaves="2" seed="50"/><feColorMatrix type="matrix" values="0 0 0 0 0.612 0 0 0 0 0.416 0 0 0 0 0.235 6 0 0 0 -2.8160000000000003"/></filter><filter id="n40a" x="0" y="0" width="1" height="1" color-interpolation-filters="sRGB"><feTurbulence type="fractalNoise" baseFrequency="0.55" numOctaves="2" seed="31"/><feColorMatrix type="matrix" values="0 0 0 0 0.369 0 0 0 0 0.204 0 0 0 0 0.502 7 0 0 0 -4.05"/></filter><filter id="n40b" x="0" y="0" width="1" height="1" color-interpolation-filters="sRGB"><feTurbulence type="fractalNoise" baseFrequency="0.12" numOctaves="2" seed="32"/><feColorMatrix type="matrix" values="0 0 0 0 0.910 0 0 0 0 0.816 0 0 0 0 0.910 3 0 0 0 -1.75"/></filter><filter id="n41a" x="0" y="0" width="1" height="1" color-interpolation-filters="sRGB"><feTurbulence type="fractalNoise" baseFrequency="0.6" numOctaves="2" seed="44"/><feColorMatrix type="matrix" values="0 0 0 0 0.541 0 0 0 0 0.416 0 0 0 0 0.345 6 0 0 0 -3.1100000000000003"/></filter><filter id="n41b" x="0" y="0" width="1" height="1" color-interpolation-filters="sRGB"><feTurbulence type="fractalNoise" baseFrequency="0.8" numOctaves="1" seed="46"/><feColorMatrix type="matrix" values="0 0 0 0 0.227 0 0 0 0 0.141 0 0 0 0 0.094 14 0 0 0 -10.0"/></filter><filter id="n42b" x="0" y="0" width="1" height="1" color-interpolation-filters="sRGB"><feTurbulence type="fractalNoise" baseFrequency="0.15" numOctaves="2" seed="58"/><feColorMatrix type="matrix" values="0 0 0 0 0.722 0 0 0 0 0.541 0 0 0 0 0.376 3 0 0 0 -1.005"/></filter><filter id="n42a" x="0" y="0" width="1" height="1" color-interpolation-filters="sRGB"><feTurbulence type="fractalNoise" baseFrequency="0.5" numOctaves="2" seed="57"/><feColorMatrix type="matrix" values="0 0 0 0 0.612 0 0 0 0 0.416 0 0 0 0 0.235 6 0 0 0 -2.7600000000000002"/></filter><filter id="n50a" x="0" y="0" width="1" height="1" color-interpolation-filters="sRGB"><feTurbulence type="fractalNoise" baseFrequency="0.55" numOctaves="2" seed="38"/><feColorMatrix type="matrix" values="0 0 0 0 0.282 0 0 0 0 0.157 0 0 0 0 0.478 7 0 0 0 -4.05"/></filter><filter id="n50b" x="0" y="0" width="1" height="1" color-interpolation-filters="sRGB"><feTurbulence type="fractalNoise" baseFrequency="0.12" numOctaves="2" seed="39"/><feColorMatrix type="matrix" values="0 0 0 0 0.910 0 0 0 0 0.816 0 0 0 0 0.910 3 0 0 0 -1.75"/></filter><filter id="n51a" x="0" y="0" width="1" height="1" color-interpolation-filters="sRGB"><feTurbulence type="fractalNoise" baseFrequency="0.6" numOctaves="2" seed="51"/><feColorMatrix type="matrix" values="0 0 0 0 0.541 0 0 0 0 0.416 0 0 0 0 0.345 6 0 0 0 -3.0700000000000003"/></filter><filter id="n51b" x="0" y="0" width="1" height="1" color-interpolation-filters="sRGB"><feTurbulence type="fractalNoise" baseFrequency="0.8" numOctaves="1" seed="53"/><feColorMatrix type="matrix" values="0 0 0 0 0.227 0 0 0 0 0.141 0 0 0 0 0.094 14 0 0 0 -10.0"/></filter><filter id="n52b" x="0" y="0" width="1" height="1" color-interpolation-filters="sRGB"><feTurbulence type="fractalNoise" baseFrequency="0.15" numOctaves="2" seed="65"/><feColorMatrix type="matrix" values="0 0 0 0 0.722 0 0 0 0 0.541 0 0 0 0 0.376 3 0 0 0 -1.275"/></filter><filter id="n52a" x="0" y="0" width="1" height="1" color-interpolation-filters="sRGB"><feTurbulence type="fractalNoise" baseFrequency="0.5" numOctaves="2" seed="64"/><feColorMatrix type="matrix" values="0 0 0 0 0.612 0 0 0 0 0.416 0 0 0 0 0.235 6 0 0 0 -3.0"/></filter></defs>
<rect x="447.3" y="904" width="50.6" height="51.3" fill="#a07cb6"/>
<rect x="447.3" y="904" width="50.6" height="51.3" fill="#000" filter="url(#n00b)" opacity="0.35"/>
<rect x="447.3" y="904" width="50.6" height="51.3" fill="#000" filter="url(#n00a)" opacity="0.7"/>
<rect x="447.3" y="904" width="50.6" height="51.3" fill="none" stroke="#8a8a8a" stroke-width="0.8"/>
<rect x="447.3" y="957.3" width="50.6" height="51.4" fill="#dde1f1"/>
<rect x="447.3" y="957.3" width="50.6" height="51.4" fill="#000" filter="url(#n01a)" opacity="0.6"/>
<rect x="447.3" y="957.3" width="50.6" height="51.4" fill="#000" filter="url(#n01b)" opacity="0.8"/>
<rect x="447.3" y="957.3" width="50.6" height="51.4" fill="none" stroke="#8a8a8a" stroke-width="0.8"/>
<rect x="447.3" y="1010.5" width="50.6" height="51.5" fill="#e0e2ee"/>
<rect x="447.3" y="1010.5" width="50.6" height="51.5" fill="#000" filter="url(#n02b)" opacity="0.55"/>
<rect x="447.3" y="1010.5" width="50.6" height="51.5" fill="#000" filter="url(#n02a)" opacity="0.8"/>
<rect x="447.3" y="1010.5" width="50.6" height="51.5" fill="none" stroke="#8a8a8a" stroke-width="0.8"/>
<rect x="499.5" y="904" width="51" height="51.3" fill="#d6a2c8"/>
<rect x="499.5" y="904" width="51" height="51.3" fill="#000" filter="url(#n10b)" opacity="0.35"/>
<rect x="499.5" y="904" width="51" height="51.3" fill="#000" filter="url(#n10a)" opacity="0.7"/>
<rect x="499.5" y="904" width="51" height="51.3" fill="none" stroke="#8a8a8a" stroke-width="0.8"/>
<rect x="499.5" y="957.3" width="51" height="51.4" fill="#dde2f2"/>
<rect x="499.5" y="957.3" width="51" height="51.4" fill="#000" filter="url(#n11a)" opacity="0.6"/>
<rect x="499.5" y="957.3" width="51" height="51.4" fill="#000" filter="url(#n11b)" opacity="0.8"/>
<rect x="499.5" y="957.3" width="51" height="51.4" fill="none" stroke="#8a8a8a" stroke-width="0.8"/>
<rect x="499.5" y="1010.5" width="51" height="51.5" fill="#e0e2ee"/>
<rect x="499.5" y="1010.5" width="51" height="51.5" fill="#000" filter="url(#n12b)" opacity="0.55"/>
<rect x="499.5" y="1010.5" width="51" height="51.5" fill="#000" filter="url(#n12a)" opacity="0.8"/>
<rect x="499.5" y="1010.5" width="51" height="51.5" fill="none" stroke="#8a8a8a" stroke-width="0.8"/>
<rect x="552.3" y="904" width="50.7" height="51.3" fill="#c08ec0"/>
<rect x="552.3" y="904" width="50.7" height="51.3" fill="#000" filter="url(#n20b)" opacity="0.35"/>
<rect x="552.3" y="904" width="50.7" height="51.3" fill="#000" filter="url(#n20a)" opacity="0.7"/>
<rect x="552.3" y="904" width="50.7" height="51.3" fill="none" stroke="#8a8a8a" stroke-width="0.8"/>
<rect x="552.3" y="957.3" width="50.7" height="51.4" fill="#e0e0ec"/>
<rect x="552.3" y="957.3" width="50.7" height="51.4" fill="#000" filter="url(#n21a)" opacity="0.6"/>
<rect x="552.3" y="957.3" width="50.7" height="51.4" fill="#000" filter="url(#n21b)" opacity="0.8"/>
<rect x="552.3" y="957.3" width="50.7" height="51.4" fill="none" stroke="#8a8a8a" stroke-width="0.8"/>
<rect x="552.3" y="1010.5" width="50.7" height="51.5" fill="#e0e2ee"/>
<rect x="552.3" y="1010.5" width="50.7" height="51.5" fill="#000" filter="url(#n22b)" opacity="0.55"/>
<rect x="552.3" y="1010.5" width="50.7" height="51.5" fill="#000" filter="url(#n22a)" opacity="0.8"/>
<rect x="552.3" y="1010.5" width="50.7" height="51.5" fill="none" stroke="#8a8a8a" stroke-width="0.8"/>
<rect x="605.4" y="904" width="50.1" height="51.3" fill="#a47eb8"/>
<rect x="605.4" y="904" width="50.1" height="51.3" fill="#000" filter="url(#n30b)" opacity="0.35"/>
<rect x="605.4" y="904" width="50.1" height="51.3" fill="#000" filter="url(#n30a)" opacity="0.7"/>
<rect x="605.4" y="904" width="50.1" height="51.3" fill="none" stroke="#8a8a8a" stroke-width="0.8"/>
<rect x="605.4" y="957.3" width="50.1" height="51.4" fill="#dedeea"/>
<rect x="605.4" y="957.3" width="50.1" height="51.4" fill="#000" filter="url(#n31a)" opacity="0.6"/>
<rect x="605.4" y="957.3" width="50.1" height="51.4" fill="#000" filter="url(#n31b)" opacity="0.8"/>
<rect x="605.4" y="957.3" width="50.1" height="51.4" fill="none" stroke="#8a8a8a" stroke-width="0.8"/>
<rect x="605.4" y="1010.5" width="50.1" height="51.5" fill="#e0e2ee"/>
<rect x="605.4" y="1010.5" width="50.1" height="51.5" fill="#000" filter="url(#n32b)" opacity="0.55"/>
<rect x="605.4" y="1010.5" width="50.1" height="51.5" fill="#000" filter="url(#n32a)" opacity="0.8"/>
<rect x="605.4" y="1010.5" width="50.1" height="51.5" fill="none" stroke="#8a8a8a" stroke-width="0.8"/>
<rect x="657.9" y="904" width="49.9" height="51.3" fill="#c898c4"/>
<rect x="657.9" y="904" width="49.9" height="51.3" fill="#000" filter="url(#n40b)" opacity="0.35"/>
<rect x="657.9" y="904" width="49.9" height="51.3" fill="#000" filter="url(#n40a)" opacity="0.7"/>
<rect x="657.9" y="904" width="49.9" height="51.3" fill="none" stroke="#8a8a8a" stroke-width="0.8"/>
<rect x="657.9" y="957.3" width="49.9" height="51.4" fill="#e0e4f2"/>
<rect x="657.9" y="957.3" width="49.9" height="51.4" fill="#000" filter="url(#n41a)" opacity="0.6"/>
<rect x="657.9" y="957.3" width="49.9" height="51.4" fill="#000" filter="url(#n41b)" opacity="0.8"/>
<rect x="657.9" y="957.3" width="49.9" height="51.4" fill="none" stroke="#8a8a8a" stroke-width="0.8"/>
<rect x="657.9" y="1010.5" width="49.9" height="51.5" fill="#e0e2ee"/>
<rect x="657.9" y="1010.5" width="49.9" height="51.5" fill="#000" filter="url(#n42b)" opacity="0.55"/>
<rect x="657.9" y="1010.5" width="49.9" height="51.5" fill="#000" filter="url(#n42a)" opacity="0.8"/>
<rect x="657.9" y="1010.5" width="49.9" height="51.5" fill="none" stroke="#8a8a8a" stroke-width="0.8"/>
<rect x="710.2" y="904" width="50.4" height="51.3" fill="#9474b4"/>
<rect x="710.2" y="904" width="50.4" height="51.3" fill="#000" filter="url(#n50b)" opacity="0.35"/>
<rect x="710.2" y="904" width="50.4" height="51.3" fill="#000" filter="url(#n50a)" opacity="0.7"/>
<rect x="710.2" y="904" width="50.4" height="51.3" fill="none" stroke="#8a8a8a" stroke-width="0.8"/>
<rect x="710.2" y="957.3" width="50.4" height="51.4" fill="#e0e2ee"/>
<rect x="710.2" y="957.3" width="50.4" height="51.4" fill="#000" filter="url(#n51a)" opacity="0.6"/>
<rect x="710.2" y="957.3" width="50.4" height="51.4" fill="#000" filter="url(#n51b)" opacity="0.8"/>
<rect x="710.2" y="957.3" width="50.4" height="51.4" fill="none" stroke="#8a8a8a" stroke-width="0.8"/>
<rect x="710.2" y="1010.5" width="50.4" height="51.5" fill="#e0e2ee"/>
<rect x="710.2" y="1010.5" width="50.4" height="51.5" fill="#000" filter="url(#n52b)" opacity="0.55"/>
<rect x="710.2" y="1010.5" width="50.4" height="51.5" fill="#000" filter="url(#n52a)" opacity="0.8"/>
<rect x="710.2" y="1010.5" width="50.4" height="51.5" fill="none" stroke="#8a8a8a" stroke-width="0.8"/>
<text x="20.6" y="214.05" font-size="13.81" fill="#222" textLength="18.9" lengthAdjust="spacingAndGlyphs">(C)</text>
<polyline points="72,237 139.5,206.3 212,235" fill="none" stroke="#dedede" stroke-width="0.9" stroke-linejoin="round"/>
<polyline points="72,255.5 139.5,225.5 212,254.5" fill="none" stroke="#dedede" stroke-width="0.9" stroke-linejoin="round"/>
<polyline points="75,274 139.5,244.8 210.7,274.4" fill="none" stroke="#dedede" stroke-width="0.9" stroke-linejoin="round"/>
<line x1="139.5" y1="206.3" x2="139.5" y2="266" stroke="#dedede" stroke-width="0.9"/>
<line x1="85.5" y1="230.86" x2="89.5" y2="294.78" stroke="#dedede" stroke-width="0.9"/>
<line x1="154" y1="212.04" x2="153.8" y2="263.72" stroke="#dedede" stroke-width="0.9"/>
<line x1="99" y1="224.72" x2="102" y2="284.56" stroke="#dedede" stroke-width="0.9"/>
<line x1="168.5" y1="217.78" x2="168.1" y2="273.54" stroke="#dedede" stroke-width="0.9"/>
<line x1="112.5" y1="218.58" x2="114.5" y2="274.34" stroke="#dedede" stroke-width="0.9"/>
<line x1="183" y1="223.52" x2="182.4" y2="283.36" stroke="#dedede" stroke-width="0.9"/>
<line x1="126" y1="212.44" x2="127" y2="264.12" stroke="#dedede" stroke-width="0.9"/>
<line x1="197.5" y1="229.26" x2="196.7" y2="293.18" stroke="#dedede" stroke-width="0.9"/>
<polyline points="77.5,308.5 141,266 212,316 145.5,357 77.5,308.5" fill="none" stroke="#dedede" stroke-width="0.9" stroke-linejoin="round"/>
<line x1="91.1" y1="318.2" x2="155.2" y2="276" stroke="#dedede" stroke-width="0.9"/>
<line x1="90.2" y1="300" x2="158.8" y2="348.8" stroke="#dedede" stroke-width="0.9"/>
<line x1="104.7" y1="327.9" x2="169.4" y2="286" stroke="#dedede" stroke-width="0.9"/>
<line x1="102.9" y1="291.5" x2="172.1" y2="340.6" stroke="#dedede" stroke-width="0.9"/>
<line x1="118.3" y1="337.6" x2="183.6" y2="296" stroke="#dedede" stroke-width="0.9"/>
<line x1="115.6" y1="283" x2="185.4" y2="332.4" stroke="#dedede" stroke-width="0.9"/>
<line x1="131.9" y1="347.3" x2="197.8" y2="306" stroke="#dedede" stroke-width="0.9"/>
<line x1="128.3" y1="274.5" x2="198.7" y2="324.2" stroke="#dedede" stroke-width="0.9"/>
<line x1="72" y1="237" x2="77.5" y2="308.5" stroke="#dedede" stroke-width="0.9"/>
<line x1="212" y1="235" x2="212" y2="316" stroke="#dedede" stroke-width="0.9"/>
<g stroke="#2e2e2e" stroke-width="0.5" stroke-linejoin="round"><polygon points="139.82,253.05 135.47,249.78 139.5,250.38 143.84,252.52" fill="#fefefe"/><polygon points="144.18,255.36 139.82,253.05 143.84,252.52 148.19,254.29" fill="#f5fcf5"/><polygon points="135.81,251.83 131.44,246.43 135.47,249.78 139.82,253.05" fill="#fcdfe0"/><polygon points="148.54,257.16 144.18,255.36 148.19,254.29 152.53,255.88" fill="#f1fbf2"/><polygon points="140.17,255.5 135.81,251.83 139.82,253.05 144.18,255.36" fill="#fef8f8"/><polygon points="131.79,247.94 127.41,240.24 131.44,246.43 135.81,251.83" fill="#f8a2a5"/><polygon points="152.89,258.7 148.54,257.16 152.53,255.88 156.88,257.34" fill="#f0fbf1"/><polygon points="144.54,257.95 140.17,255.5 144.18,255.36 148.54,257.16" fill="#fafdfa"/><polygon points="136.17,254 131.79,247.94 135.81,251.83 140.17,255.5" fill="#fbd2d4"/><polygon points="127.77,241.62 123.38,233.85 127.41,240.24 131.79,247.94" fill="#f14e52"/><polygon points="157.25,260.05 152.89,258.7 156.88,257.34 161.22,258.65" fill="#f2fbf3"/><polygon points="148.91,259.75 144.54,257.95 148.54,257.16 152.89,258.7" fill="#f7fdf7"/><polygon points="140.55,258.06 136.17,254 140.17,255.5 144.54,257.95" fill="#fdeeef"/><polygon points="132.16,249.91 127.77,241.62 131.79,247.94 136.17,254" fill="#f69294"/><polygon points="123.75,236.05 119.34,231.94 123.38,233.85 127.77,241.62" fill="#ee1e24"/><polygon points="161.6,261.2 157.25,260.05 161.22,258.65 165.56,259.82" fill="#f6fcf6"/><polygon points="153.28,261.2 148.91,259.75 152.89,258.7 157.25,260.05" fill="#f8fdf8"/><polygon points="144.93,260.68 140.55,258.06 144.54,257.95 148.91,259.75" fill="#fefbfb"/><polygon points="136.55,256.54 132.16,249.91 136.17,254 140.55,258.06" fill="#fac7c8"/><polygon points="128.15,243.86 123.75,236.05 127.77,241.62 132.16,249.91" fill="#f03f44"/><polygon points="119.73,235.64 115.31,234.09 119.34,231.94 123.75,236.05" fill="#ee1e24"/><polygon points="165.96,262.18 161.6,261.2 165.56,259.82 169.91,260.85" fill="#fbfefb"/><polygon points="157.65,262.42 153.28,261.2 157.25,260.05 161.6,261.2" fill="#fcfefc"/><polygon points="149.31,262.49 144.93,260.68 148.91,259.75 153.28,261.2" fill="#fefdfd"/><polygon points="140.94,260.98 136.55,256.54 140.55,258.06 144.93,260.68" fill="#fde6e7"/><polygon points="132.56,252.47 128.15,243.86 132.16,249.91 136.55,256.54" fill="#f58689"/><polygon points="124.15,239.48 119.73,235.64 123.75,236.05 128.15,243.86" fill="#ee1e24"/><polygon points="115.71,238.51 111.28,237.7 115.31,234.09 119.73,235.64" fill="#ee1e24"/><polygon points="170.32,263.04 165.96,262.18 169.91,260.85 174.25,261.77" fill="#fefbfb"/><polygon points="162.01,263.43 157.65,262.42 161.6,261.2 165.96,262.18" fill="#fefafb"/><polygon points="153.69,263.9 149.31,262.49 153.28,261.2 157.65,262.42" fill="#fefafa"/><polygon points="145.34,263.79 140.94,260.98 144.93,260.68 149.31,262.49" fill="#fef4f4"/><polygon points="136.96,259.51 132.56,252.47 136.55,256.54 140.94,260.98" fill="#fabfc1"/><polygon points="128.56,247.05 124.15,239.48 128.15,243.86 132.56,252.47" fill="#f0393e"/><polygon points="120.14,240.47 115.71,238.51 119.73,235.64 124.15,239.48" fill="#ee1e24"/><polygon points="111.69,242.69 107.25,242.37 111.28,237.7 115.71,238.51" fill="#ee1e24"/><polygon points="174.67,263.88 170.32,263.04 174.25,261.77 178.59,262.68" fill="#fef3f4"/><polygon points="166.38,264.32 162.01,263.43 165.96,262.18 170.32,263.04" fill="#fef2f3"/><polygon points="158.07,265.07 153.69,263.9 157.65,262.42 162.01,263.43" fill="#fef4f4"/><polygon points="149.73,265.69 145.34,263.79 149.31,262.49 153.69,263.9" fill="#fef6f6"/><polygon points="141.37,264.28 136.96,259.51 140.94,260.98 145.34,263.79" fill="#fce1e2"/><polygon points="132.98,255.69 128.56,247.05 132.56,252.47 136.96,259.51" fill="#f58084"/><polygon points="124.57,244.13 120.14,240.47 124.15,239.48 128.56,247.05" fill="#ee1e24"/><polygon points="116.13,243.95 111.69,242.69 115.71,238.51 120.14,240.47" fill="#ee1e24"/><polygon points="107.67,247.7 103.22,247.56 107.25,242.37 111.69,242.69" fill="#ef2f34"/><polygon points="179.03,264.85 174.67,263.88 178.59,262.68 182.94,263.68" fill="#fdeced"/><polygon points="170.75,265.2 166.38,264.32 170.32,263.04 174.67,263.88" fill="#fdeaea"/><polygon points="162.45,266.11 158.07,265.07 162.01,263.43 166.38,264.32" fill="#fdeced"/><polygon points="154.12,267.17 149.73,265.69 153.69,263.9 158.07,265.07" fill="#fef2f2"/><polygon points="145.77,267.31 141.37,264.28 145.34,263.79 149.73,265.69" fill="#fdeff0"/><polygon points="137.39,262.93 132.98,255.69 136.96,259.51 141.37,264.28" fill="#f9babc"/><polygon points="129,251.23 124.57,244.13 128.56,247.05 132.98,255.69" fill="#f03d42"/><polygon points="120.57,246.28 116.13,243.95 120.14,240.47 124.57,244.13" fill="#ee1e24"/><polygon points="112.12,248.51 107.67,247.7 111.69,242.69 116.13,243.95" fill="#ee1e24"/><polygon points="103.65,252.99 99.19,252.72 103.22,247.56 107.67,247.7" fill="#f25b60"/><polygon points="183.38,266.07 179.03,264.85 182.94,263.68 187.28,264.86" fill="#fde7e8"/><polygon points="175.12,266.23 170.75,265.2 174.67,263.88 179.03,264.85" fill="#fce1e2"/><polygon points="166.83,267.14 162.45,266.11 166.38,264.32 170.75,265.2" fill="#fce4e4"/><polygon points="158.51,268.47 154.12,267.17 158.07,265.07 162.45,266.11" fill="#fdecec"/><polygon points="150.17,269.39 145.77,267.31 149.73,265.69 154.12,267.17" fill="#fef2f2"/><polygon points="141.81,267.95 137.39,262.93 141.37,264.28 145.77,267.31" fill="#fcdedf"/><polygon points="133.42,259.59 129,251.23 132.98,255.69 137.39,262.93" fill="#f58084"/><polygon points="125.01,249.86 120.57,246.28 124.57,244.13 129,251.23" fill="#ee1e24"/><polygon points="116.58,250.19 112.12,248.51 116.13,243.95 120.57,246.28" fill="#ee1e24"/><polygon points="108.12,253.66 103.65,252.99 107.67,247.7 112.12,248.51" fill="#f1474b"/><polygon points="99.63,258.06 95.16,257.43 99.19,252.72 103.65,252.99" fill="#f5868a"/><polygon points="187.74,267.61 183.38,266.07 187.28,264.86 191.62,266.27" fill="#fde5e5"/><polygon points="179.49,267.55 175.12,266.23 179.03,264.85 183.38,266.07" fill="#fcdcdd"/><polygon points="171.21,268.32 166.83,267.14 170.75,265.2 175.12,266.23" fill="#fcdcdd"/><polygon points="162.9,269.75 158.51,268.47 162.45,266.11 166.83,267.14" fill="#fde4e5"/><polygon points="154.58,271.08 150.17,269.39 154.12,267.17 158.51,268.47" fill="#fdeff0"/><polygon points="146.23,271.22 141.81,267.95 145.77,267.31 150.17,269.39" fill="#fdeeef"/><polygon points="137.85,266.8 133.42,259.59 137.39,262.93 141.81,267.95" fill="#f9babc"/><polygon points="129.45,256.32 125.01,249.86 129,251.23 133.42,259.59" fill="#f1494d"/><polygon points="121.03,252.84 116.58,250.19 120.57,246.28 125.01,249.86" fill="#ee1e24"/><polygon points="112.58,254.94 108.12,253.66 112.12,248.51 116.58,250.19" fill="#f0393f"/><polygon points="104.11,258.86 99.63,258.06 103.65,252.99 108.12,253.66" fill="#f47276"/><polygon points="95.61,262.58 91.12,261.48 95.16,257.43 99.63,258.06" fill="#f8abae"/><polygon points="192.09,269.46 187.74,267.61 191.62,266.27 195.97,267.89" fill="#fde6e6"/><polygon points="183.85,269.25 179.49,267.55 183.38,266.07 187.74,267.61" fill="#fcdadb"/><polygon points="175.59,269.78 171.21,268.32 175.12,266.23 179.49,267.55" fill="#fbd6d8"/><polygon points="167.3,271.14 162.9,269.75 166.83,267.14 171.21,268.32" fill="#fcdedf"/><polygon points="158.98,272.67 154.58,271.08 158.51,268.47 162.9,269.75" fill="#fdeaeb"/><polygon points="150.64,273.54 146.23,271.22 150.17,269.39 154.58,271.08" fill="#fef2f3"/><polygon points="142.28,271.95 137.85,266.8 141.81,267.95 146.23,271.22" fill="#fcdedf"/><polygon points="133.89,264.15 129.45,256.32 133.42,259.59 137.85,266.8" fill="#f5878a"/><polygon points="125.48,256.42 121.03,252.84 125.01,249.86 129.45,256.32" fill="#ef3036"/><polygon points="117.05,257 112.58,254.94 116.58,250.19 121.03,252.84" fill="#ef363b"/><polygon points="108.59,260.02 104.11,258.86 108.12,253.66 112.58,254.94" fill="#f36266"/><polygon points="100.1,263.69 95.61,262.58 99.63,258.06 104.11,258.86" fill="#f79a9c"/><polygon points="91.59,266.39 87.09,264.8 91.12,261.48 95.61,262.58" fill="#fac9ca"/><polygon points="196.45,271.52 192.09,269.46 195.97,267.89 200.31,269.67" fill="#fde9e9"/><polygon points="188.22,271.3 183.85,269.25 187.74,267.61 192.09,269.46" fill="#fcdcdd"/><polygon points="179.97,271.61 175.59,269.78 179.49,267.55 183.85,269.25" fill="#fbd5d6"/><polygon points="171.69,272.76 167.3,271.14 171.21,268.32 175.59,269.78" fill="#fcdada"/><polygon points="163.39,274.31 158.98,272.67 162.9,269.75 167.3,271.14" fill="#fde6e6"/><polygon points="155.06,275.5 150.64,273.54 154.58,271.08 158.98,272.67" fill="#fef1f2"/><polygon points="146.71,275.42 142.28,271.95 146.23,271.22 150.64,273.54" fill="#fdefef"/><polygon points="138.33,271.11 133.89,264.15 137.85,266.8 142.28,271.95" fill="#fabdbe"/><polygon points="129.94,262.16 125.48,256.42 129.45,256.32 133.89,264.15" fill="#f25c60"/><polygon points="121.51,259.88 117.05,257 121.03,252.84 125.48,256.42" fill="#f03c41"/><polygon points="113.06,261.73 108.59,260.02 112.58,254.94 117.05,257" fill="#f2595d"/><polygon points="104.59,264.97 100.1,263.69 104.11,258.86 108.59,260.02" fill="#f68a8d"/><polygon points="96.1,267.91 91.59,266.39 95.61,262.58 100.1,263.69" fill="#f9bbbc"/><polygon points="87.58,269.51 83.06,267.49 87.09,264.8 91.59,266.39" fill="#fcdedf"/><polygon points="200.81,273.65 196.45,271.52 200.31,269.67 204.66,271.52" fill="#fdeeee"/><polygon points="192.59,273.59 188.22,271.3 192.09,269.46 196.45,271.52" fill="#fce1e2"/><polygon points="184.35,273.77 179.97,271.61 183.85,269.25 188.22,271.3" fill="#fcd8d9"/><polygon points="176.08,274.68 171.69,272.76 175.59,269.78 179.97,271.61" fill="#fcd9da"/><polygon points="167.79,276.1 163.39,274.31 167.3,271.14 171.69,272.76" fill="#fce3e4"/><polygon points="159.48,277.39 155.06,275.5 158.98,272.67 163.39,274.31" fill="#fdeff0"/><polygon points="151.14,277.96 146.71,275.42 150.64,273.54 155.06,275.5" fill="#fef5f5"/><polygon points="142.78,276.25 138.33,271.11 142.28,271.95 146.71,275.42" fill="#fcdfe0"/><polygon points="134.39,269.29 129.94,262.16 133.89,264.15 138.33,271.11" fill="#f69295"/><polygon points="125.98,263.51 121.51,259.88 125.48,256.42 129.94,262.16" fill="#f14f54"/><polygon points="117.54,264.1 113.06,261.73 117.05,257 121.51,259.88" fill="#f2585c"/><polygon points="109.08,266.59 104.59,264.97 108.59,260.02 113.06,261.73" fill="#f57e82"/><polygon points="100.6,269.47 96.1,267.91 100.1,263.69 104.59,264.97" fill="#f8adaf"/><polygon points="92.09,271.44 87.58,269.51 91.59,266.39 96.1,267.91" fill="#fbd4d5"/><polygon points="83.56,272.06 79.03,269.68 83.06,267.49 87.58,269.51" fill="#fdecec"/><polygon points="205.16,275.75 200.81,273.65 204.66,271.52 209,273.35" fill="#fef3f3"/><polygon points="196.96,275.95 192.59,273.59 196.45,271.52 200.81,273.65" fill="#fde8e8"/><polygon points="188.73,276.16 184.35,273.77 188.22,271.3 192.59,273.59" fill="#fcdedf"/><polygon points="180.47,276.86 176.08,274.68 179.97,271.61 184.35,273.77" fill="#fcdbdc"/><polygon points="172.2,278.07 167.79,276.1 171.69,272.76 176.08,274.68" fill="#fce2e3"/><polygon points="163.89,279.33 159.48,277.39 163.39,274.31 167.79,276.1" fill="#fdedee"/><polygon points="155.57,280.15 151.14,277.96 155.06,275.5 159.48,277.39" fill="#fef6f6"/><polygon points="147.22,279.82 142.78,276.25 146.71,275.42 151.14,277.96" fill="#fdf1f1"/><polygon points="138.84,275.8 134.39,269.29 138.33,271.11 142.78,276.25" fill="#fac2c4"/><polygon points="130.44,268.53 125.98,263.51 129.94,262.16 134.39,269.29" fill="#f47377"/><polygon points="122.02,267.14 117.54,264.1 121.51,259.88 125.98,263.51" fill="#f25f63"/><polygon points="113.57,268.67 109.08,266.59 113.06,261.73 117.54,264.1" fill="#f4797c"/><polygon points="105.1,271.18 100.6,269.47 104.59,264.97 109.08,266.59" fill="#f7a2a4"/><polygon points="96.6,273.34 92.09,271.44 96.1,267.91 100.6,269.47" fill="#fac9cb"/><polygon points="88.08,274.34 83.56,272.06 87.58,269.51 92.09,271.44" fill="#fde5e6"/><polygon points="79.54,274.17 75,271.53 79.03,269.68 83.56,272.06" fill="#fef5f5"/><polygon points="201.32,278.26 196.96,275.95 200.81,273.65 205.16,275.75" fill="#fdefef"/><polygon points="193.11,278.61 188.73,276.16 192.59,273.59 196.96,275.95" fill="#fde5e6"/><polygon points="184.87,279.22 180.47,276.86 184.35,273.77 188.73,276.16" fill="#fce1e2"/><polygon points="176.6,280.23 172.2,278.07 176.08,274.68 180.47,276.86" fill="#fde4e5"/><polygon points="168.31,281.38 163.89,279.33 167.79,276.1 172.2,278.07" fill="#fdedee"/><polygon points="159.99,282.25 155.57,280.15 159.48,277.39 163.89,279.33" fill="#fef6f6"/><polygon points="151.66,282.51 147.22,279.82 151.14,277.96 155.57,280.15" fill="#fef8f8"/><polygon points="143.29,280.78 138.84,275.8 142.78,276.25 147.22,279.82" fill="#fce2e3"/><polygon points="134.91,274.86 130.44,268.53 134.39,269.29 138.84,275.8" fill="#f7a0a3"/><polygon points="126.49,270.76 122.02,267.14 125.98,263.51 130.44,268.53" fill="#f47074"/><polygon points="118.06,271.27 113.57,268.67 117.54,264.1 122.02,267.14" fill="#f47a7d"/><polygon points="109.6,273.18 105.1,271.18 109.08,266.59 113.57,268.67" fill="#f79a9d"/><polygon points="101.12,275.28 96.6,273.34 100.6,269.47 105.1,271.18" fill="#fabfc1"/><polygon points="92.61,276.57 88.08,274.34 92.09,271.44 96.6,273.34" fill="#fcdedf"/><polygon points="84.08,276.74 79.54,274.17 83.56,272.06 88.08,274.34" fill="#fdf0f1"/><polygon points="197.49,281.01 193.11,278.61 196.96,275.95 201.32,278.26" fill="#fdeded"/><polygon points="189.26,281.63 184.87,279.22 188.73,276.16 193.11,278.61" fill="#fde8e8"/><polygon points="181,282.5 176.6,280.23 180.47,276.86 184.87,279.22" fill="#fde8e9"/><polygon points="172.73,283.52 168.31,281.38 172.2,278.07 176.6,280.23" fill="#fdeeef"/><polygon points="164.42,284.37 159.99,282.25 163.89,279.33 168.31,281.38" fill="#fef6f6"/><polygon points="156.1,284.84 151.66,282.51 155.57,280.15 159.99,282.25" fill="#fefafa"/><polygon points="147.75,284.36 143.29,280.78 147.22,279.82 151.66,282.51" fill="#fef3f3"/><polygon points="139.37,280.81 134.91,274.86 138.84,275.8 143.29,280.78" fill="#fac9cb"/><polygon points="130.97,275.2 126.49,270.76 130.44,268.53 134.91,274.86" fill="#f68c8f"/><polygon points="122.55,274.39 118.06,271.27 122.02,267.14 126.49,270.76" fill="#f58184"/><polygon points="114.1,275.55 109.6,273.18 113.57,268.67 118.06,271.27" fill="#f79799"/><polygon points="105.63,277.37 101.12,275.28 105.1,271.18 109.6,273.18" fill="#f9b7b9"/><polygon points="97.13,278.79 92.61,276.57 96.6,273.34 101.12,275.28" fill="#fbd6d7"/><polygon points="88.61,279.26 84.08,276.74 88.08,274.34 92.61,276.57" fill="#fdecec"/><polygon points="193.65,283.99 189.26,281.63 193.11,278.61 197.49,281.01" fill="#fdefef"/><polygon points="185.41,284.81 181,282.5 184.87,279.22 189.26,281.63" fill="#fdeeee"/><polygon points="177.14,285.72 172.73,283.52 176.6,280.23 181,282.5" fill="#fdf1f1"/><polygon points="168.85,286.53 164.42,284.37 168.31,281.38 172.73,283.52" fill="#fef6f7"/><polygon points="160.54,287.07 156.1,284.84 159.99,282.25 164.42,284.37" fill="#fefbfb"/><polygon points="152.2,287.13 147.75,284.36 151.66,282.51 156.1,284.84" fill="#fefafa"/><polygon points="143.84,285.52 139.37,280.81 143.29,280.78 147.75,284.36" fill="#fde6e6"/><polygon points="135.45,280.73 130.97,275.2 134.91,274.86 139.37,280.81" fill="#f9b0b2"/><polygon points="127.04,277.95 122.55,274.39 126.49,270.76 130.97,275.2" fill="#f68f92"/><polygon points="118.6,278.33 114.1,275.55 118.06,271.27 122.55,274.39" fill="#f7999b"/><polygon points="110.14,279.68 105.63,277.37 109.6,273.18 114.1,275.55" fill="#f9b2b5"/><polygon points="101.66,281.06 97.13,278.79 101.12,275.28 105.63,277.37" fill="#fbd0d1"/><polygon points="93.15,281.75 88.61,279.26 92.61,276.57 97.13,278.79" fill="#fde6e7"/><polygon points="189.81,287.08 185.41,284.81 189.26,281.63 193.65,283.99" fill="#fef3f3"/><polygon points="181.56,287.94 177.14,285.72 181,282.5 185.41,284.81" fill="#fef4f4"/><polygon points="173.28,288.71 168.85,286.53 172.73,283.52 177.14,285.72" fill="#fef8f8"/><polygon points="164.98,289.29 160.54,287.07 164.42,284.37 168.85,286.53" fill="#fefbfb"/><polygon points="156.65,289.56 152.2,287.13 156.1,284.84 160.54,287.07" fill="#fefcfc"/><polygon points="148.3,289.05 143.84,285.52 147.75,284.36 152.2,287.13" fill="#fef5f5"/><polygon points="139.93,286.08 135.45,280.73 139.37,280.81 143.84,285.52" fill="#fbd2d3"/><polygon points="131.53,281.96 127.04,277.95 130.97,275.2 135.45,280.73" fill="#f8a5a7"/><polygon points="123.1,281.49 118.6,278.33 122.55,274.39 127.04,277.95" fill="#f7a0a2"/><polygon points="114.66,282.27 110.14,279.68 114.1,275.55 118.6,278.33" fill="#f9b1b3"/><polygon points="106.18,283.45 101.66,281.06 105.63,277.37 110.14,279.68" fill="#fbcacc"/><polygon points="97.69,284.24 93.15,281.75 97.13,278.79 101.66,281.06" fill="#fce1e2"/><polygon points="185.97,290.14 181.56,287.94 185.41,284.81 189.81,287.08" fill="#fef7f7"/><polygon points="177.71,290.91 173.28,288.71 177.14,285.72 181.56,287.94" fill="#fef9f9"/><polygon points="169.42,291.5 164.98,289.29 168.85,286.53 173.28,288.71" fill="#fefcfc"/><polygon points="161.1,291.88 156.65,289.56 160.54,287.07 164.98,289.29" fill="#fefdfd"/><polygon points="152.77,291.87 148.3,289.05 152.2,287.13 156.65,289.56" fill="#fefbfb"/><polygon points="144.4,290.47 139.93,286.08 143.84,285.52 148.3,289.05" fill="#fde9ea"/><polygon points="136.02,286.78 131.53,281.96 135.45,280.73 139.93,286.08" fill="#fac0c2"/><polygon points="127.6,284.95 123.1,281.49 127.04,277.95 131.53,281.96" fill="#f8abad"/><polygon points="119.17,285.16 114.66,282.27 118.6,278.33 123.1,281.49" fill="#f9b4b6"/><polygon points="110.71,286 106.18,283.45 110.14,279.68 114.66,282.27" fill="#fac7c9"/><polygon points="102.22,286.77 97.69,284.24 101.66,281.06 106.18,283.45" fill="#fcddde"/><polygon points="182.14,293.09 177.71,290.91 181.56,287.94 185.97,290.14" fill="#fefbfb"/><polygon points="173.86,293.72 169.42,291.5 173.28,288.71 177.71,290.91" fill="#fefcfc"/><polygon points="165.56,294.17 161.1,291.88 164.98,289.29 169.42,291.5" fill="#fefdfe"/><polygon points="157.23,294.37 152.77,291.87 156.65,289.56 161.1,291.88" fill="#fefdfd"/><polygon points="148.88,293.91 144.4,290.47 148.3,289.05 152.77,291.87" fill="#fef6f6"/><polygon points="140.5,291.54 136.02,286.78 139.93,286.08 144.4,290.47" fill="#fcdbdc"/><polygon points="132.11,288.65 127.6,284.95 131.53,281.96 136.02,286.78" fill="#f9bbbd"/><polygon points="123.68,288.33 119.17,285.16 123.1,281.49 127.6,284.95" fill="#f9babb"/><polygon points="115.23,288.77 110.71,286 114.66,282.27 119.17,285.16" fill="#fac7c9"/><polygon points="106.76,289.4 102.22,286.77 106.18,283.45 110.71,286" fill="#fcdadb"/><polygon points="178.3,295.94 173.86,293.72 177.71,290.91 182.14,293.09" fill="#fefdfd"/><polygon points="170.01,296.45 165.56,294.17 169.42,291.5 173.86,293.72" fill="#fefefe"/><polygon points="161.7,296.76 157.23,294.37 161.1,291.88 165.56,294.17" fill="#fefefe"/><polygon points="153.36,296.75 148.88,293.91 152.77,291.87 157.23,294.37" fill="#fefcfc"/><polygon points="144.99,295.6 140.5,291.54 144.4,290.47 148.88,293.91" fill="#fdedee"/><polygon points="136.61,292.88 132.11,288.65 136.02,286.78 140.5,291.54" fill="#fbcfd1"/><polygon points="128.2,291.7 123.68,288.33 127.6,284.95 132.11,288.65" fill="#fac2c4"/><polygon points="119.76,291.74 115.23,288.77 119.17,285.16 123.68,288.33" fill="#facacb"/><polygon points="111.3,292.15 106.76,289.4 110.71,286 115.23,288.77" fill="#fcd8d9"/><polygon points="174.46,298.73 170.01,296.45 173.86,293.72 178.3,295.94" fill="#fefefe"/><polygon points="166.16,299.13 161.7,296.76 165.56,294.17 170.01,296.45" fill="#fefefe"/><polygon points="157.83,299.32 153.36,296.75 157.23,294.37 161.7,296.76" fill="#fefefe"/><polygon points="149.48,298.94 144.99,295.6 148.88,293.91 153.36,296.75" fill="#fef8f8"/><polygon points="141.11,297.13 136.61,292.88 140.5,291.54 144.99,295.6" fill="#fce3e4"/><polygon points="132.71,295.19 128.2,291.7 132.11,288.65 136.61,292.88" fill="#fbcecf"/><polygon points="124.29,294.9 119.76,291.74 123.68,288.33 128.2,291.7" fill="#fbced0"/><polygon points="115.84,295.05 111.3,292.15 115.23,288.77 119.76,291.74" fill="#fcd8d9"/><polygon points="170.62,301.5 166.16,299.13 170.01,296.45 174.46,298.73" fill="#fefefe"/><polygon points="162.31,301.8 157.83,299.32 161.7,296.76 166.16,299.13" fill="#fefefe"/><polygon points="153.97,301.8 149.48,298.94 153.36,296.75 157.83,299.32" fill="#fefcfc"/><polygon points="145.61,300.91 141.11,297.13 144.99,295.6 149.48,298.94" fill="#fdf1f1"/><polygon points="137.22,298.98 132.71,295.19 136.61,292.88 141.11,297.13" fill="#fcdcdd"/><polygon points="128.81,298.19 124.29,294.9 128.2,291.7 132.71,295.19" fill="#fbd5d6"/><polygon points="120.38,298.08 115.84,295.05 119.76,291.74 124.29,294.9" fill="#fcdadb"/><polygon points="166.79,304.25 162.31,301.8 166.16,299.13 170.62,301.5" fill="#fefefe"/><polygon points="158.46,304.43 153.97,301.8 157.83,299.32 162.31,301.8" fill="#fefefe"/><polygon points="150.11,304.14 145.61,300.91 149.48,298.94 153.97,301.8" fill="#fef9f9"/><polygon points="141.74,302.82 137.22,298.98 141.11,297.13 145.61,300.91" fill="#fdeaeb"/><polygon points="133.34,301.54 128.81,298.19 132.71,295.19 137.22,298.98" fill="#fcddde"/><polygon points="124.91,301.23 120.38,298.08 124.29,294.9 128.81,298.19" fill="#fcdedf"/><polygon points="162.95,306.99 158.46,304.43 162.31,301.8 166.79,304.25" fill="#fefefe"/><polygon points="154.61,307.02 150.11,304.14 153.97,301.8 158.46,304.43" fill="#fefdfd"/><polygon points="146.25,306.36 141.74,302.82 145.61,300.91 150.11,304.14" fill="#fef4f5"/><polygon points="137.86,305.03 133.34,301.54 137.22,298.98 141.74,302.82" fill="#fde7e7"/><polygon points="129.45,304.47 124.91,301.23 128.81,298.19 133.34,301.54" fill="#fce3e4"/><polygon points="159.11,309.72 154.61,307.02 158.46,304.43 162.95,306.99" fill="#fefefe"/><polygon points="150.76,309.52 146.25,306.36 150.11,304.14 154.61,307.02" fill="#fefafb"/><polygon points="142.39,308.58 137.86,305.03 141.74,302.82 146.25,306.36" fill="#fdf0f1"/><polygon points="133.99,307.73 129.45,304.47 133.34,301.54 137.86,305.03" fill="#fde9e9"/><polygon points="155.28,312.41 150.76,309.52 154.61,307.02 159.11,309.72" fill="#fefdfd"/><polygon points="146.91,311.94 142.39,308.58 146.25,306.36 150.76,309.52" fill="#fef7f8"/><polygon points="138.53,311.04 133.99,307.73 137.86,305.03 142.39,308.58" fill="#fdefef"/><polygon points="151.44,315.05 146.91,311.94 150.76,309.52 155.28,312.41" fill="#fefcfc"/><polygon points="143.06,314.4 138.53,311.04 142.39,308.58 146.91,311.94" fill="#fef5f5"/><polygon points="147.6,317.64 143.06,314.4 146.91,311.94 151.44,315.05" fill="#fefafa"/></g>
<text x="45.8" y="244.1" font-size="11.34" fill="#222" textLength="17.6" lengthAdjust="spacingAndGlyphs">100</text>
<text x="52.7" y="264.3" font-size="11.34" fill="#222" textLength="11.3" lengthAdjust="spacingAndGlyphs">50</text>
<text x="55.9" y="284.4" font-size="11.34" fill="#222" textLength="6.3" lengthAdjust="spacingAndGlyphs">0</text>
<text x="50" y="297.7" font-size="11.34" fill="#222" textLength="17.6" lengthAdjust="spacingAndGlyphs">-50</text>
<text x="48.9" y="314.7" font-size="11.34" fill="#222" textLength="21.2" lengthAdjust="spacingAndGlyphs">-100</text>
<text x="222" y="239.7" font-size="9.01" fill="#222" textLength="73" lengthAdjust="spacingAndGlyphs">Bliss Synergy score</text>
<defs><linearGradient id="cbC" x1="0" y1="0" x2="0" y2="1"><stop offset="0" stop-color="#f01818"/><stop offset="0.5" stop-color="#ffffff"/><stop offset="1" stop-color="#18e018"/></linearGradient></defs>
<rect x="223" y="248.7" width="6.4" height="74.3" fill="url(#cbC)"/>
<text x="235" y="259.8" font-size="9.59" fill="#222" textLength="9.5" lengthAdjust="spacingAndGlyphs">50</text>
<text x="235" y="289.8" font-size="9.59" fill="#222" textLength="5" lengthAdjust="spacingAndGlyphs">0</text>
<text x="233" y="321.1" font-size="9.59" fill="#222" textLength="12.5" lengthAdjust="spacingAndGlyphs">-50</text>
<text x="69.6" y="331.1" font-size="13.08" fill="#222" text-anchor="middle" textLength="16.5" lengthAdjust="spacingAndGlyphs" transform="rotate(-45 69.6 326.6)">2.0</text>
<text x="77.8" y="341.3" font-size="13.08" fill="#222" text-anchor="middle" textLength="16.5" lengthAdjust="spacingAndGlyphs" transform="rotate(-45 77.8 336.8)">0.4</text>
<text x="90.9" y="351.8" font-size="13.08" fill="#222" text-anchor="middle" textLength="22.5" lengthAdjust="spacingAndGlyphs" transform="rotate(-45 90.9 347.3)">0.08</text>
<text x="104" y="363.5" font-size="13.08" fill="#222" text-anchor="middle" textLength="22.5" lengthAdjust="spacingAndGlyphs" transform="rotate(-45 104 359)">0.02</text>
<text x="126.9" y="381.1" font-size="13.08" fill="#222" text-anchor="middle" textLength="6.5" lengthAdjust="spacingAndGlyphs" transform="rotate(-45 126.9 376.6)">0</text>
<text x="82.3" y="368.6" font-size="13.37" fill="#222" text-anchor="middle" textLength="70" lengthAdjust="spacingAndGlyphs" transform="rotate(40 82.3 364)">Selinexor (μM)</text>
<text x="141.5" y="383.8" font-size="13.08" fill="#222" text-anchor="middle" textLength="6.5" lengthAdjust="spacingAndGlyphs" transform="rotate(45 141.5 379.3)">0</text>
<text x="159.5" y="376.9" font-size="13.08" fill="#222" text-anchor="middle" textLength="22.5" lengthAdjust="spacingAndGlyphs" transform="rotate(45 159.5 372.4)">0.02</text>
<text x="171.6" y="365.5" font-size="13.08" fill="#222" text-anchor="middle" textLength="22.5" lengthAdjust="spacingAndGlyphs" transform="rotate(45 171.6 361)">0.08</text>
<text x="179" y="351.3" font-size="13.08" fill="#222" text-anchor="middle" textLength="16.5" lengthAdjust="spacingAndGlyphs" transform="rotate(45 179 346.8)">0.4</text>
<text x="195.2" y="341.9" font-size="13.08" fill="#222" text-anchor="middle" textLength="16.5" lengthAdjust="spacingAndGlyphs" transform="rotate(45 195.2 337.4)">2.0</text>
<text x="209.5" y="329.8" font-size="13.08" fill="#222" text-anchor="middle" textLength="12" lengthAdjust="spacingAndGlyphs" transform="rotate(45 209.5 325.3)">10</text>
<text x="195.2" y="363.8" font-size="13.37" fill="#222" text-anchor="middle" textLength="80" lengthAdjust="spacingAndGlyphs" transform="rotate(-43 195.2 359.2)">Doxorubicin (μM)</text>
<text x="27.6" y="412.6" font-size="14.53" fill="#222" textLength="17.4" lengthAdjust="spacingAndGlyphs">(E)</text>
<polyline points="61,449 122.6,450 184,446" fill="none" stroke="#dedede" stroke-width="0.9" stroke-linejoin="round"/>
<polyline points="61,464 122.6,465 184,461" fill="none" stroke="#dedede" stroke-width="0.9" stroke-linejoin="round"/>
<polyline points="61,479.3 122.6,480.3 184,476.3" fill="none" stroke="#dedede" stroke-width="0.9" stroke-linejoin="round"/>
<polyline points="61,494 122.6,495 184,491" fill="none" stroke="#dedede" stroke-width="0.9" stroke-linejoin="round"/>
<polyline points="61,507.6 122.6,508.6 184,504.6" fill="none" stroke="#dedede" stroke-width="0.9" stroke-linejoin="round"/>
<polyline points="61,522.7 122.6,523.7 184,519.7" fill="none" stroke="#dedede" stroke-width="0.9" stroke-linejoin="round"/>
<line x1="61" y1="449" x2="62" y2="523" stroke="#dedede" stroke-width="0.9"/>
<line x1="77" y1="449" x2="78" y2="523" stroke="#dedede" stroke-width="0.9"/>
<line x1="93" y1="449" x2="94" y2="523" stroke="#dedede" stroke-width="0.9"/>
<line x1="108" y1="449" x2="109" y2="523" stroke="#dedede" stroke-width="0.9"/>
<line x1="122.6" y1="449" x2="123.6" y2="523" stroke="#dedede" stroke-width="0.9"/>
<line x1="138" y1="449" x2="139.5" y2="523" stroke="#dedede" stroke-width="0.9"/>
<line x1="153" y1="449" x2="154.5" y2="523" stroke="#dedede" stroke-width="0.9"/>
<line x1="169" y1="449" x2="170.5" y2="523" stroke="#dedede" stroke-width="0.9"/>
<line x1="184" y1="449" x2="185.5" y2="523" stroke="#dedede" stroke-width="0.9"/>
<line x1="205" y1="446" x2="194" y2="544" stroke="#dedede" stroke-width="0.9"/>
<line x1="61" y1="529" x2="122.6" y2="523" stroke="#dedede" stroke-width="0.9"/>
<line x1="61" y1="529" x2="122" y2="573" stroke="#dedede" stroke-width="0.9"/>
<line x1="76.25" y1="540" x2="139.2" y2="528" stroke="#dedede" stroke-width="0.9"/>
<line x1="76.4" y1="527.5" x2="138.75" y2="565.5" stroke="#dedede" stroke-width="0.9"/>
<line x1="91.5" y1="551" x2="155.8" y2="533" stroke="#dedede" stroke-width="0.9"/>
<line x1="91.8" y1="526" x2="155.5" y2="558" stroke="#dedede" stroke-width="0.9"/>
<line x1="106.75" y1="562" x2="172.4" y2="538" stroke="#dedede" stroke-width="0.9"/>
<line x1="107.2" y1="524.5" x2="172.25" y2="550.5" stroke="#dedede" stroke-width="0.9"/>
<line x1="122" y1="573" x2="189" y2="543" stroke="#dedede" stroke-width="0.9"/>
<line x1="122.6" y1="523" x2="189" y2="543" stroke="#dedede" stroke-width="0.9"/>
<g stroke="#5a5a5a" stroke-width="0.4" stroke-linejoin="round"><polygon points="126.24,476.53 122.24,475.12 126,473.98 130,475.48" fill="#fefefe"/><polygon points="130.24,477.84 126.24,476.53 130,475.48 134,476.96" fill="#fefdfd"/><polygon points="122.47,477.44 118.47,476.21 122.24,475.12 126.24,476.53" fill="#fefdfd"/><polygon points="134.24,479.02 130.24,477.84 134,476.96 138,478.39" fill="#fefcfc"/><polygon points="126.47,478.42 122.47,477.44 126.24,476.53 130.24,477.84" fill="#fefcfc"/><polygon points="118.71,478.18 114.71,477.23 118.47,476.21 122.47,477.44" fill="#fefcfc"/><polygon points="138.24,480.08 134.24,479.02 138,478.39 142,479.78" fill="#fefbfb"/><polygon points="130.47,479.06 126.47,478.42 130.24,477.84 134.24,479.02" fill="#fef9f9"/><polygon points="122.71,478.62 118.71,478.18 122.47,477.44 126.47,478.42" fill="#fef8f8"/><polygon points="114.94,478.83 110.94,478.21 114.71,477.23 118.71,478.18" fill="#fefafa"/><polygon points="142.24,481.1 138.24,480.08 142,479.78 146,481.16" fill="#fef9f9"/><polygon points="134.47,479.4 130.47,479.06 134.24,479.02 138.24,480.08" fill="#fef4f4"/><polygon points="126.71,478.38 122.71,478.62 126.47,478.42 130.47,479.06" fill="#fef2f2"/><polygon points="118.94,478.64 114.94,478.83 118.71,478.18 122.71,478.62" fill="#fef3f4"/><polygon points="111.18,479.57 107.18,479.21 110.94,478.21 114.94,478.83" fill="#fef8f8"/><polygon points="146.24,482.2 142.24,481.1 146,481.16 150,482.52" fill="#fef7f7"/><polygon points="138.47,479.65 134.47,479.4 138.24,480.08 142.24,481.1" fill="#fdefef"/><polygon points="130.71,477.51 126.71,478.38 130.47,479.06 134.47,479.4" fill="#fde8e8"/><polygon points="122.94,477.36 118.94,478.64 122.71,478.62 126.71,478.38" fill="#fde8e9"/><polygon points="115.18,478.92 111.18,479.57 114.94,478.83 118.94,478.64" fill="#fdefef"/><polygon points="107.41,480.49 103.41,480.24 107.18,479.21 111.18,479.57" fill="#fef6f6"/><polygon points="150.24,483.26 146.24,482.2 150,482.52 154,483.64" fill="#fef5f5"/><polygon points="142.47,480.16 138.47,479.65 142.24,481.1 146.24,482.2" fill="#fdeaea"/><polygon points="134.71,476.47 130.71,477.51 134.47,479.4 138.47,479.65" fill="#fcdcdd"/><polygon points="126.94,475.08 122.94,477.36 126.71,478.38 130.71,477.51" fill="#fcd7d8"/><polygon points="119.18,476.91 115.18,478.92 118.94,478.64 122.94,477.36" fill="#fcdfe0"/><polygon points="111.41,479.76 107.41,480.49 111.18,479.57 115.18,478.92" fill="#fdecec"/><polygon points="103.65,481.4 99.65,481.2 103.41,480.24 107.41,480.49" fill="#fef5f5"/><polygon points="154.24,483.53 150.24,483.26 154,483.64 158,483.62" fill="#fdefef"/><polygon points="146.47,481.15 142.47,480.16 146.24,482.2 150.24,483.26" fill="#fde6e7"/><polygon points="138.71,476.03 134.71,476.47 138.47,479.65 142.47,480.16" fill="#fbd2d3"/><polygon points="130.94,472.53 126.94,475.08 130.71,477.51 134.71,476.47" fill="#fac3c5"/><polygon points="123.18,473.67 119.18,476.91 122.94,477.36 126.94,475.08" fill="#fac8c9"/><polygon points="115.41,477.76 111.41,479.76 115.18,478.92 119.18,476.91" fill="#fcdadb"/><polygon points="107.65,480.92 103.65,481.4 107.41,480.49 111.41,479.76" fill="#fdebeb"/><polygon points="99.88,481.9 95.88,481.87 99.65,481.2 103.65,481.4" fill="#fef2f3"/><polygon points="158.24,481.34 154.24,483.53 158,483.62 162,480.65" fill="#fcddde"/><polygon points="150.47,482.15 146.47,481.15 150.24,483.26 154.24,483.53" fill="#fce2e3"/><polygon points="142.71,476.85 138.71,476.03 142.47,480.16 146.47,481.15" fill="#fbcbcd"/><polygon points="134.94,470.97 130.94,472.53 134.71,476.47 138.71,476.03" fill="#f9b1b3"/><polygon points="127.18,470.1 123.18,473.67 126.94,475.08 130.94,472.53" fill="#f8acae"/><polygon points="119.41,474.61 115.41,477.76 119.18,476.91 123.18,473.67" fill="#fac1c2"/><polygon points="111.65,479.62 107.65,480.92 111.41,479.76 115.41,477.76" fill="#fcdbdc"/><polygon points="103.88,481.67 99.88,481.9 103.65,481.4 107.65,480.92" fill="#fde9e9"/><polygon points="96.12,481.73 92.12,482.15 95.88,481.87 99.88,481.9" fill="#fdeded"/><polygon points="162.24,475.77 158.24,481.34 162,480.65 166,473.83" fill="#f9b7b9"/><polygon points="154.47,481.86 150.47,482.15 154.24,483.53 158.24,481.34" fill="#fbd7d8"/><polygon points="146.71,478.82 142.71,476.85 146.47,481.15 150.47,482.15" fill="#fbcacb"/><polygon points="138.94,471.53 134.94,470.97 138.71,476.03 142.71,476.85" fill="#f8a7a9"/><polygon points="131.18,467.79 127.18,470.1 130.94,472.53 134.94,470.97" fill="#f69396"/><polygon points="123.41,471.17 119.41,474.61 123.18,473.67 127.18,470.1" fill="#f8a2a5"/><polygon points="115.65,477.63 111.65,479.62 115.41,477.76 119.41,474.61" fill="#fac5c6"/><polygon points="107.88,481.34 103.88,481.67 107.65,480.92 111.65,479.62" fill="#fcddde"/><polygon points="100.12,481.45 96.12,481.73 99.88,481.9 103.88,481.67" fill="#fce3e4"/><polygon points="92.35,481.08 88.35,482.18 92.12,482.15 96.12,481.73" fill="#fde5e5"/><polygon points="166.24,469.99 162.24,475.77 166,473.83 170,466.81" fill="#f58588"/><polygon points="158.47,479.4 154.47,481.86 158.24,481.34 162.24,475.77" fill="#f9bcbe"/><polygon points="150.71,480.95 146.71,478.82 150.47,482.15 154.47,481.86" fill="#fac8ca"/><polygon points="142.94,474.45 138.94,471.53 142.71,476.85 146.71,478.82" fill="#f8a8aa"/><polygon points="135.18,468.17 131.18,467.79 134.94,470.97 138.94,471.53" fill="#f58589"/><polygon points="127.41,468.97 123.41,471.17 127.18,470.1 131.18,467.79" fill="#f5878a"/><polygon points="119.65,475.51 115.65,477.63 119.41,474.61 123.41,471.17" fill="#f8abad"/><polygon points="111.88,481.02 107.88,481.34 111.65,479.62 115.65,477.63" fill="#fbcecf"/><polygon points="104.12,481.9 100.12,481.45 103.88,481.67 107.88,481.34" fill="#fcdadb"/><polygon points="96.35,480.48 92.35,481.08 96.12,481.73 100.12,481.45" fill="#fcd9da"/><polygon points="88.59,480.67 84.59,482.39 88.35,482.18 92.35,481.08" fill="#fcdcdd"/><polygon points="170.24,470.9 166.24,469.99 170,466.81 174,467.39" fill="#f3696d"/><polygon points="162.47,476.8 158.47,479.4 162.24,475.77 166.24,469.99" fill="#f7999b"/><polygon points="154.71,482.22 150.71,480.95 154.47,481.86 158.47,479.4" fill="#fac0c2"/><polygon points="146.94,478.79 142.94,474.45 146.71,478.82 150.71,480.95" fill="#f9b1b3"/><polygon points="139.18,471.68 135.18,468.17 138.94,471.53 142.94,474.45" fill="#f6898c"/><polygon points="131.41,469.42 127.41,468.97 131.18,467.79 135.18,468.17" fill="#f4797c"/><polygon points="123.65,474.32 119.65,475.51 123.41,471.17 127.41,468.97" fill="#f69497"/><polygon points="115.88,480.82 111.88,481.02 115.65,477.63 119.65,475.51" fill="#fabec0"/><polygon points="108.12,483.15 104.12,481.9 107.88,481.34 111.88,481.02" fill="#fbd4d5"/><polygon points="100.35,481.34 96.35,480.48 100.12,481.45 104.12,481.9" fill="#fbd1d2"/><polygon points="92.59,479.68 88.59,480.67 92.35,481.08 96.35,480.48" fill="#fbcdce"/><polygon points="84.82,481.28 80.82,483.23 84.59,482.39 88.59,480.67" fill="#fbd6d8"/><polygon points="174.24,482.18 170.24,470.9 174,467.39 178,479.66" fill="#f6888b"/><polygon points="166.47,478.92 162.47,476.8 166.24,469.99 170.24,470.9" fill="#f5878a"/><polygon points="158.71,483.38 154.71,482.22 158.47,479.4 162.47,476.8" fill="#f9b3b5"/><polygon points="150.94,483.26 146.94,478.79 150.71,480.95 154.71,482.22" fill="#f9bcbe"/><polygon points="143.18,477.38 139.18,471.68 142.94,474.45 146.94,478.79" fill="#f79a9d"/><polygon points="135.41,472.98 131.41,469.42 135.18,468.17 139.18,471.68" fill="#f57d81"/><polygon points="127.65,475.11 123.65,474.32 127.41,468.97 131.41,469.42" fill="#f6888c"/><polygon points="119.88,481.11 115.88,480.82 119.65,475.51 123.65,474.32" fill="#f9b1b3"/><polygon points="112.12,484.83 108.12,483.15 111.88,481.02 115.88,480.82" fill="#fbcfd1"/><polygon points="104.35,483.76 100.35,481.34 104.12,481.9 108.12,483.15" fill="#fbd1d3"/><polygon points="96.59,480.69 92.59,479.68 96.35,480.48 100.35,481.34" fill="#fac6c7"/><polygon points="88.82,480.13 84.82,481.28 88.59,480.67 92.59,479.68" fill="#fac6c7"/><polygon points="81.06,483.22 77.06,484.88 80.82,483.23 84.82,481.28" fill="#fcd7d8"/><polygon points="178.24,499.7 174.24,482.18 178,479.66 182,498.97" fill="#fcdfe0"/><polygon points="170.47,488.46 166.47,478.92 170.24,470.9 174.24,482.18" fill="#f8a4a6"/><polygon points="162.71,487.06 158.71,483.38 162.47,476.8 166.47,478.92" fill="#f9b1b3"/><polygon points="154.94,487.51 150.94,483.26 154.71,482.22 158.71,483.38" fill="#fac5c6"/><polygon points="147.18,483.71 143.18,477.38 146.94,478.79 150.94,483.26" fill="#f9b3b5"/><polygon points="139.41,478.81 135.41,472.98 139.18,471.68 143.18,477.38" fill="#f69295"/><polygon points="131.65,478.28 127.65,475.11 131.41,469.42 135.41,472.98" fill="#f68d90"/><polygon points="123.88,482.45 119.88,481.11 123.65,474.32 127.65,475.11" fill="#f8abad"/><polygon points="116.12,486.61 112.12,484.83 115.88,480.82 119.88,481.11" fill="#fbcdce"/><polygon points="108.35,486.91 104.35,483.76 108.12,483.15 112.12,484.83" fill="#fcd7d8"/><polygon points="100.59,483.8 96.59,480.69 100.35,481.34 104.35,483.76" fill="#fbcacb"/><polygon points="92.82,481.17 88.82,480.13 92.59,479.68 96.59,480.69" fill="#fabec0"/><polygon points="85.06,482.28 81.06,483.22 84.82,481.28 88.82,480.13" fill="#fac7c8"/><polygon points="77.29,486.13 73.29,487.13 77.06,484.88 81.06,483.22" fill="#fcdedf"/><polygon points="182.24,516.29 178.24,499.7 182,498.97 186,517.24" fill="#a5e9a9"/><polygon points="174.47,502.63 170.47,488.46 174.24,482.18 178.24,499.7" fill="#fdeeee"/><polygon points="166.71,494.97 162.71,487.06 166.47,478.92 170.47,488.46" fill="#fbcdce"/><polygon points="158.94,492.54 154.94,487.51 158.71,483.38 162.71,487.06" fill="#fbd2d3"/><polygon points="151.18,489.7 147.18,483.71 150.94,483.26 154.94,487.51" fill="#fbcccd"/><polygon points="143.41,485.38 139.41,478.81 143.18,477.38 147.18,483.71" fill="#f9b1b3"/><polygon points="135.65,483.21 131.65,478.28 135.41,472.98 139.41,478.81" fill="#f7a1a3"/><polygon points="127.88,485.1 123.88,482.45 127.65,475.11 131.65,478.28" fill="#f9afb1"/><polygon points="120.12,488.55 116.12,486.61 119.88,481.11 123.88,482.45" fill="#fbcdcf"/><polygon points="112.35,489.89 108.35,486.91 112.12,484.83 116.12,486.61" fill="#fcdedf"/><polygon points="104.59,487.88 100.59,483.8 104.35,483.76 108.35,486.91" fill="#fbd6d7"/><polygon points="96.82,484.5 92.82,481.17 96.59,480.69 100.59,483.8" fill="#fac4c5"/><polygon points="89.06,483.32 85.06,482.28 88.82,480.13 92.82,481.17" fill="#fabfc1"/><polygon points="81.29,485.68 77.29,486.13 81.06,483.22 85.06,482.28" fill="#fbd0d1"/><polygon points="73.53,489.29 69.53,489.53 73.29,487.13 77.29,486.13" fill="#fde8e8"/><polygon points="186.24,527.7 182.24,516.29 186,517.24 190,529.75" fill="#3ecf46"/><polygon points="178.47,516.26 174.47,502.63 178.24,499.7 182.24,516.29" fill="#a6e9aa"/><polygon points="170.71,505.75 166.71,494.97 170.47,488.46 174.47,502.63" fill="#f4fcf5"/><polygon points="162.94,499.38 158.94,492.54 162.71,487.06 166.71,494.97" fill="#fdeeef"/><polygon points="155.18,495.45 151.18,489.7 154.94,487.51 158.94,492.54" fill="#fde4e5"/><polygon points="147.41,491.58 143.41,485.38 147.18,483.71 151.18,489.7" fill="#fbd0d1"/><polygon points="139.65,488.76 135.65,483.21 139.41,478.81 143.41,485.38" fill="#fabdbe"/><polygon points="131.88,488.78 127.88,485.1 131.65,478.28 135.65,483.21" fill="#fabec0"/><polygon points="124.12,490.85 120.12,488.55 123.88,482.45 127.88,485.1" fill="#fbd2d4"/><polygon points="116.35,492.38 112.35,489.89 116.12,486.61 120.12,488.55" fill="#fde5e6"/><polygon points="108.59,491.62 104.59,487.88 108.35,486.91 112.35,489.89" fill="#fde5e5"/><polygon points="100.82,488.87 96.82,484.5 100.59,483.8 104.59,487.88" fill="#fbd4d5"/><polygon points="93.06,486.43 89.06,483.32 92.82,481.17 96.82,484.5" fill="#fac6c7"/><polygon points="85.29,486.73 81.29,485.68 85.06,482.28 89.06,483.32" fill="#fbcacc"/><polygon points="77.53,489.39 73.53,489.29 77.29,486.13 81.29,485.68" fill="#fcdedf"/><polygon points="69.76,492.06 65.76,491.7 69.53,489.53 73.53,489.29" fill="#fdf1f1"/><polygon points="190.24,532.89 186.24,527.7 190,529.75 194,535.36" fill="#1ec828"/><polygon points="182.47,525.94 178.47,516.26 182.24,516.29 186.24,527.7" fill="#4ed356"/><polygon points="174.71,516.33 170.71,505.75 174.47,502.63 178.47,516.26" fill="#a0e7a4"/><polygon points="166.94,507.69 162.94,499.38 166.71,494.97 170.71,505.75" fill="#dcf6dd"/><polygon points="159.18,501.61 155.18,495.45 158.94,492.54 162.94,499.38" fill="#fcfefc"/><polygon points="151.41,497.19 147.41,491.58 151.18,489.7 155.18,495.45" fill="#fdeded"/><polygon points="143.65,494.02 139.65,488.76 143.41,485.38 147.41,491.58" fill="#fcd9da"/><polygon points="135.88,492.84 131.88,488.78 135.65,483.21 139.65,488.76" fill="#fbd2d4"/><polygon points="128.12,493.52 124.12,490.85 127.88,485.1 131.88,488.78" fill="#fcdcdd"/><polygon points="120.35,494.58 116.35,492.38 120.12,488.55 124.12,490.85" fill="#fdebec"/><polygon points="112.59,494.5 108.59,491.62 112.35,489.89 116.35,492.38" fill="#fdf0f0"/><polygon points="104.82,492.85 100.82,488.87 104.59,487.88 108.59,491.62" fill="#fde6e7"/><polygon points="97.06,490.5 93.06,486.43 96.82,484.5 100.82,488.87" fill="#fbd6d7"/><polygon points="89.29,489.35 85.29,486.73 89.06,483.32 93.06,486.43" fill="#fbcfd1"/><polygon points="81.53,490.45 77.53,489.39 81.29,485.68 85.29,486.73" fill="#fcdadb"/><polygon points="73.76,492.62 69.76,492.06 73.53,489.29 77.53,489.39" fill="#fdebec"/><polygon points="66,494.24 62,493.5 65.76,491.7 69.76,492.06" fill="#fef8f8"/><polygon points="186.47,530.5 182.47,525.94 186.24,527.7 190.24,532.89" fill="#1ec828"/><polygon points="178.71,524.25 174.71,516.33 178.47,516.26 182.47,525.94" fill="#5bd662"/><polygon points="170.94,515.96 166.94,507.69 170.71,505.75 174.71,516.33" fill="#9de7a2"/><polygon points="163.18,508.38 159.18,501.61 162.94,499.38 166.94,507.69" fill="#d0f3d2"/><polygon points="155.41,502.67 151.41,497.19 155.18,495.45 159.18,501.61" fill="#f3fcf3"/><polygon points="147.65,498.8 143.65,494.02 147.41,491.58 151.41,497.19" fill="#fef3f4"/><polygon points="139.88,496.76 135.88,492.84 139.65,488.76 143.65,494.02" fill="#fde8e8"/><polygon points="132.12,496.36 128.12,493.52 131.88,488.78 135.88,492.84" fill="#fde9ea"/><polygon points="124.35,496.7 120.35,494.58 124.12,490.85 128.12,493.52" fill="#fef2f2"/><polygon points="116.59,496.71 112.59,494.5 116.35,492.38 120.35,494.58" fill="#fef8f8"/><polygon points="108.82,495.85 104.82,492.85 108.59,491.62 112.59,494.5" fill="#fef4f4"/><polygon points="101.06,494.2 97.06,490.5 100.82,488.87 104.82,492.85" fill="#fde8e8"/><polygon points="93.29,492.69 89.29,489.35 93.06,486.43 97.06,490.5" fill="#fcddde"/><polygon points="85.53,492.51 81.53,490.45 85.29,486.73 89.29,489.35" fill="#fcdede"/><polygon points="77.76,493.67 73.76,492.62 77.53,489.39 81.53,490.45" fill="#fde9e9"/><polygon points="70,495.06 66,494.24 69.76,492.06 73.76,492.62" fill="#fef5f5"/><polygon points="182.71,528.17 178.71,524.25 182.47,525.94 186.47,530.5" fill="#34cd3d"/><polygon points="174.94,522.48 170.94,515.96 174.71,516.33 178.71,524.25" fill="#68da6f"/><polygon points="167.18,515.13 163.18,508.38 166.94,507.69 170.94,515.96" fill="#a1e8a5"/><polygon points="159.41,508.39 155.41,502.67 159.18,501.61 163.18,508.38" fill="#cff3d1"/><polygon points="151.65,503.43 147.65,498.8 151.41,497.19 155.41,502.67" fill="#effbf0"/><polygon points="143.88,500.46 139.88,496.76 143.65,494.02 147.65,498.8" fill="#fefbfb"/><polygon points="136.12,499.17 132.12,496.36 135.88,492.84 139.88,496.76" fill="#fef6f7"/><polygon points="128.35,498.84 124.35,496.7 128.12,493.52 132.12,496.36" fill="#fef9f9"/><polygon points="120.59,498.62 116.59,496.71 120.35,494.58 124.35,496.7" fill="#fefdfd"/><polygon points="112.82,498.05 108.82,495.85 112.59,494.5 116.59,496.71" fill="#fefcfc"/><polygon points="105.06,497.01 101.06,494.2 104.82,492.85 108.82,495.85" fill="#fef6f6"/><polygon points="97.29,495.77 93.29,492.69 97.06,490.5 101.06,494.2" fill="#fdeced"/><polygon points="89.53,495.03 85.53,492.51 89.29,489.35 93.29,492.69" fill="#fde7e8"/><polygon points="81.76,495.27 77.76,493.67 81.53,490.45 85.53,492.51" fill="#fdebec"/><polygon points="74,496.11 70,495.06 73.76,492.62 77.76,493.67" fill="#fef4f4"/><polygon points="178.94,525.87 174.94,522.48 178.71,524.25 182.71,528.17" fill="#4ad252"/><polygon points="171.18,520.63 167.18,515.13 170.94,515.96 174.94,522.48" fill="#78de7e"/><polygon points="163.41,514.08 159.41,508.39 163.18,508.38 167.18,515.13" fill="#a9eaad"/><polygon points="155.65,508.23 151.65,503.43 155.41,502.67 159.41,508.39" fill="#d2f4d4"/><polygon points="147.88,504.17 143.88,500.46 147.65,498.8 151.65,503.43" fill="#ecfaed"/><polygon points="140.12,501.95 136.12,499.17 139.88,496.76 143.88,500.46" fill="#f9fdf9"/><polygon points="132.35,500.97 128.35,498.84 132.12,496.36 136.12,499.17" fill="#fcfefc"/><polygon points="124.59,500.44 120.59,498.62 124.35,496.7 128.35,498.84" fill="#fafefb"/><polygon points="116.82,499.86 112.82,498.05 116.59,496.71 120.59,498.62" fill="#fbfefb"/><polygon points="109.06,499.09 105.06,497.01 108.82,495.85 112.82,498.05" fill="#fefefe"/><polygon points="101.29,498.18 97.29,495.77 101.06,494.2 105.06,497.01" fill="#fef8f8"/><polygon points="93.53,497.39 89.53,495.03 93.29,492.69 97.29,495.77" fill="#fef2f2"/><polygon points="85.76,497.11 81.76,495.27 85.53,492.51 89.53,495.03" fill="#fdf1f1"/><polygon points="78,497.4 74,496.11 77.76,493.67 81.76,495.27" fill="#fef5f5"/><polygon points="175.18,523.61 171.18,520.63 174.94,522.48 178.94,525.87" fill="#60d867"/><polygon points="167.41,518.79 163.41,514.08 167.18,515.13 171.18,520.63" fill="#89e28e"/><polygon points="159.65,513.02 155.65,508.23 159.41,508.39 163.41,514.08" fill="#b4ecb7"/><polygon points="151.88,508.09 147.88,504.17 151.65,503.43 155.65,508.23" fill="#d6f5d8"/><polygon points="144.12,504.85 140.12,501.95 143.88,500.46 147.88,504.17" fill="#eaf9eb"/><polygon points="136.35,503.14 132.35,500.97 136.12,499.17 140.12,501.95" fill="#f2fcf3"/><polygon points="128.59,502.24 124.59,500.44 128.35,498.84 132.35,500.97" fill="#f5fcf5"/><polygon points="120.82,501.54 116.82,499.86 120.59,498.62 124.59,500.44" fill="#f6fcf7"/><polygon points="113.06,500.81 109.06,499.09 112.82,498.05 116.82,499.86" fill="#f9fdf9"/><polygon points="105.29,500.04 101.29,498.18 105.06,497.01 109.06,499.09" fill="#fefefe"/><polygon points="97.53,499.33 93.53,497.39 97.29,495.77 101.29,498.18" fill="#fefafa"/><polygon points="89.76,498.88 85.76,497.11 89.53,495.03 93.53,497.39" fill="#fef7f7"/><polygon points="82,498.8 78,497.4 81.76,495.27 85.76,497.11" fill="#fef8f8"/><polygon points="171.41,521.42 167.41,518.79 171.18,520.63 175.18,523.61" fill="#75dd7b"/><polygon points="163.65,517.02 159.65,513.02 163.41,514.08 167.41,518.79" fill="#9ae69e"/><polygon points="155.88,512.03 151.88,508.09 155.65,508.23 159.65,513.02" fill="#bfefc1"/><polygon points="148.12,507.97 144.12,504.85 147.88,504.17 151.88,508.09" fill="#daf6db"/><polygon points="140.35,505.42 136.35,503.14 140.12,501.95 144.12,504.85" fill="#e9f9ea"/><polygon points="132.59,504.02 128.59,502.24 132.35,500.97 136.35,503.14" fill="#effbf0"/><polygon points="124.82,503.15 120.82,501.54 124.59,500.44 128.59,502.24" fill="#f2fcf3"/><polygon points="117.06,502.39 113.06,500.81 116.82,499.86 120.82,501.54" fill="#f5fcf6"/><polygon points="109.29,501.63 105.29,500.04 109.06,499.09 113.06,500.81" fill="#f9fdf9"/><polygon points="101.53,500.94 97.53,499.33 101.29,498.18 105.29,500.04" fill="#fefefe"/><polygon points="93.76,500.44 89.76,498.88 93.53,497.39 97.53,499.33" fill="#fefcfc"/><polygon points="86,500.18 82,498.8 85.76,497.11 89.76,498.88" fill="#fefbfb"/><polygon points="167.65,519.34 163.65,517.02 167.41,518.79 171.41,521.42" fill="#8ae290"/><polygon points="159.88,515.36 155.88,512.03 159.65,513.02 163.65,517.02" fill="#aaeaae"/><polygon points="152.12,511.12 148.12,507.97 151.88,508.09 155.88,512.03" fill="#c9f1cb"/><polygon points="144.35,507.84 140.35,505.42 144.12,504.85 148.12,507.97" fill="#def7e0"/><polygon points="136.59,505.83 132.59,504.02 136.35,503.14 140.35,505.42" fill="#e9f9ea"/><polygon points="128.82,504.68 124.82,503.15 128.59,502.24 132.59,504.02" fill="#effbef"/><polygon points="121.06,503.89 117.06,502.39 120.82,501.54 124.82,503.15" fill="#f2fbf3"/><polygon points="113.29,503.12 109.29,501.63 113.06,500.81 117.06,502.39" fill="#f6fcf6"/><polygon points="105.53,502.39 101.53,500.94 105.29,500.04 109.29,501.63" fill="#fafdfa"/><polygon points="97.76,501.82 93.76,500.44 97.53,499.33 101.53,500.94" fill="#fdfefd"/><polygon points="90,501.47 86,500.18 89.76,498.88 93.76,500.44" fill="#fefefe"/><polygon points="163.88,517.36 159.88,515.36 163.65,517.02 167.65,519.34" fill="#9ee7a3"/><polygon points="156.12,513.81 152.12,511.12 155.88,512.03 159.88,515.36" fill="#baeebd"/><polygon points="148.35,510.26 144.35,507.84 148.12,507.97 152.12,511.12" fill="#d3f4d5"/><polygon points="140.59,507.67 136.59,505.83 140.35,505.42 144.35,507.84" fill="#e3f8e4"/><polygon points="132.82,506.12 128.82,504.68 132.59,504.02 136.59,505.83" fill="#ecfaec"/><polygon points="125.06,505.27 121.06,503.89 124.82,503.15 128.82,504.68" fill="#f0fbf0"/><polygon points="117.29,504.55 113.29,503.12 117.06,502.39 121.06,503.89" fill="#f3fcf4"/><polygon points="109.53,503.78 105.53,502.39 109.29,501.63 113.29,503.12" fill="#f7fdf8"/><polygon points="101.76,503.14 97.76,501.82 101.53,500.94 105.53,502.39" fill="#fbfefb"/><polygon points="94,502.7 90,501.47 93.76,500.44 97.76,501.82" fill="#fdfefd"/><polygon points="160.12,515.5 156.12,513.81 159.88,515.36 163.88,517.36" fill="#b2ecb5"/><polygon points="152.35,512.35 148.35,510.26 152.12,511.12 156.12,513.81" fill="#c9f1cb"/><polygon points="144.59,509.44 140.59,507.67 144.35,507.84 148.35,510.26" fill="#dcf6de"/><polygon points="136.82,507.46 132.82,506.12 136.59,505.83 140.59,507.67" fill="#e9f9ea"/><polygon points="129.06,506.49 125.06,505.27 128.82,504.68 132.82,506.12" fill="#eefbef"/><polygon points="121.29,505.87 117.29,504.55 121.06,503.89 125.06,505.27" fill="#f1fbf2"/><polygon points="113.53,505.12 109.53,503.78 113.29,503.12 117.29,504.55" fill="#f5fcf6"/><polygon points="105.76,504.42 101.76,503.14 105.53,502.39 109.53,503.78" fill="#f9fdf9"/><polygon points="98,503.89 94,502.7 97.76,501.82 101.76,503.14" fill="#fcfefc"/><polygon points="156.35,513.75 152.35,512.35 156.12,513.81 160.12,515.5" fill="#c4f0c6"/><polygon points="148.59,510.99 144.59,509.44 148.35,510.26 152.35,512.35" fill="#d7f5d9"/><polygon points="140.82,508.68 136.82,507.46 140.59,507.67 144.59,509.44" fill="#e6f9e7"/><polygon points="133.06,507.54 129.06,506.49 132.82,506.12 136.82,507.46" fill="#eefaee"/><polygon points="125.29,507.05 121.29,505.87 125.06,505.27 129.06,506.49" fill="#f1fbf1"/><polygon points="117.53,506.38 113.53,505.12 117.29,504.55 121.29,505.87" fill="#f4fcf4"/><polygon points="109.76,505.67 105.76,504.42 109.53,503.78 113.53,505.12" fill="#f7fdf8"/><polygon points="102,505.08 98,503.89 101.76,503.14 105.76,504.42" fill="#fafefb"/><polygon points="152.59,512.12 148.59,510.99 152.35,512.35 156.35,513.75" fill="#d5f4d7"/><polygon points="144.82,509.76 140.82,508.68 144.59,509.44 148.59,510.99" fill="#e5f8e6"/><polygon points="137.06,508.45 133.06,507.54 136.82,507.46 140.82,508.68" fill="#eefbef"/><polygon points="129.29,508.09 125.29,507.05 129.06,506.49 133.06,507.54" fill="#f1fbf1"/><polygon points="121.53,507.53 117.53,506.38 121.29,505.87 125.29,507.05" fill="#f3fcf3"/><polygon points="113.76,506.86 109.76,505.67 113.53,505.12 117.53,506.38" fill="#f6fcf6"/><polygon points="106,506.25 102,505.08 105.76,504.42 109.76,505.67" fill="#f9fdfa"/><polygon points="148.82,510.68 144.82,509.76 148.59,510.99 152.59,512.12" fill="#e5f8e6"/><polygon points="141.06,509.28 137.06,508.45 140.82,508.68 144.82,509.76" fill="#f0fbf0"/><polygon points="133.29,509.01 129.29,508.09 133.06,507.54 137.06,508.45" fill="#f2fcf3"/><polygon points="125.53,508.56 121.53,507.53 125.29,507.05 129.29,508.09" fill="#f3fcf4"/><polygon points="117.76,507.97 113.76,506.86 117.53,506.38 121.53,507.53" fill="#f6fcf6"/><polygon points="110,507.38 106,506.25 109.76,505.67 113.76,506.86" fill="#f9fdf9"/><polygon points="145.06,510.1 141.06,509.28 144.82,509.76 148.82,510.68" fill="#f2fbf2"/><polygon points="137.29,509.86 133.29,509.01 137.06,508.45 141.06,509.28" fill="#f4fcf5"/><polygon points="129.53,509.49 125.53,508.56 129.29,508.09 133.29,509.01" fill="#f4fcf5"/><polygon points="121.76,509 117.76,507.97 121.53,507.53 125.53,508.56" fill="#f6fcf6"/><polygon points="114,508.45 110,507.38 113.76,506.86 117.76,507.97" fill="#f8fdf8"/><polygon points="141.29,510.69 137.29,509.86 141.06,509.28 145.06,510.1" fill="#f7fdf7"/><polygon points="133.53,510.37 129.53,509.49 133.29,509.01 137.29,509.86" fill="#f6fcf6"/><polygon points="125.76,509.95 121.76,509 125.53,508.56 129.53,509.49" fill="#f7fdf7"/><polygon points="118,509.47 114,508.45 117.76,507.97 121.76,509" fill="#f8fdf9"/><polygon points="137.53,511.24 133.53,510.37 137.29,509.86 141.29,510.69" fill="#f8fdf8"/><polygon points="129.76,510.86 125.76,509.95 129.53,509.49 133.53,510.37" fill="#f8fdf8"/><polygon points="122,510.44 118,509.47 121.76,509 125.76,509.95" fill="#f9fdf9"/><polygon points="133.76,511.77 129.76,510.86 133.53,510.37 137.53,511.24" fill="#fafdfa"/><polygon points="126,511.38 122,510.44 125.76,509.95 129.76,510.86" fill="#fafdfa"/><polygon points="130,512.32 126,511.38 129.76,510.86 133.76,511.77" fill="#fbfefb"/></g>
<text x="35.9" y="458.3" font-size="13.08" fill="#222" textLength="17.4" lengthAdjust="spacingAndGlyphs">100</text>
<text x="40.4" y="474.4" font-size="13.08" fill="#222" textLength="12.9" lengthAdjust="spacingAndGlyphs">50</text>
<text x="42.5" y="492.2" font-size="13.08" fill="#222" textLength="6.5" lengthAdjust="spacingAndGlyphs">0</text>
<text x="36.7" y="510.9" font-size="13.08" fill="#222" textLength="17.4" lengthAdjust="spacingAndGlyphs">-50</text>
<text x="31" y="528.9" font-size="13.08" fill="#222" textLength="23" lengthAdjust="spacingAndGlyphs">-100</text>
<text x="163" y="437.8" font-size="9.59" fill="#222" textLength="72.4" lengthAdjust="spacingAndGlyphs">Bliss Synergy score</text>
<defs><linearGradient id="cbE" x1="0" y1="0" x2="0" y2="1"><stop offset="0" stop-color="#f01818"/><stop offset="0.5" stop-color="#ffffff"/><stop offset="1" stop-color="#18e018"/></linearGradient></defs>
<rect x="212.5" y="446.7" width="6.5" height="87.6" fill="url(#cbE)"/>
<text x="220.7" y="454.7" font-size="9.88" fill="#222" textLength="9.5" lengthAdjust="spacingAndGlyphs">20</text>
<text x="225.6" y="496" font-size="9.88" fill="#222" textLength="5" lengthAdjust="spacingAndGlyphs">0</text>
<text x="220.7" y="532.7" font-size="9.88" fill="#222" textLength="12.5" lengthAdjust="spacingAndGlyphs">-20</text>
<text x="44" y="546.3" font-size="14.24" fill="#222" text-anchor="middle" textLength="17.5" lengthAdjust="spacingAndGlyphs" transform="rotate(-45 44 541.4)">2.0</text>
<text x="51.5" y="552.6" font-size="14.24" fill="#222" text-anchor="middle" textLength="17.5" lengthAdjust="spacingAndGlyphs" transform="rotate(-45 51.5 547.7)">0.4</text>
<text x="62.9" y="561.5" font-size="14.24" fill="#222" text-anchor="middle" textLength="24" lengthAdjust="spacingAndGlyphs" transform="rotate(-45 62.9 556.6)">0.08</text>
<text x="76.7" y="572.9" font-size="14.24" fill="#222" text-anchor="middle" textLength="24" lengthAdjust="spacingAndGlyphs" transform="rotate(-45 76.7 568)">0.02</text>
<text x="86.8" y="581.6" font-size="14.24" fill="#222" text-anchor="middle" textLength="30" lengthAdjust="spacingAndGlyphs" transform="rotate(-45 86.8 576.7)">0.004</text>
<text x="103.2" y="585.4" font-size="14.24" fill="#222" text-anchor="middle" textLength="7" lengthAdjust="spacingAndGlyphs" transform="rotate(-45 103.2 580.5)">0</text>
<text x="55.8" y="581.7" font-size="14.53" fill="#222" text-anchor="middle" textLength="80" lengthAdjust="spacingAndGlyphs" transform="rotate(42 55.8 576.7)">Selinexor (μM)</text>
<text x="115.8" y="587.9" font-size="14.24" fill="#222" text-anchor="middle" textLength="7" lengthAdjust="spacingAndGlyphs" transform="rotate(45 115.8 583)">0</text>
<text x="134.8" y="590.5" font-size="14.24" fill="#222" text-anchor="middle" textLength="30" lengthAdjust="spacingAndGlyphs" transform="rotate(45 134.8 585.6)">0.004</text>
<text x="146" y="585.4" font-size="14.24" fill="#222" text-anchor="middle" textLength="24" lengthAdjust="spacingAndGlyphs" transform="rotate(45 146 580.5)">0.02</text>
<text x="160" y="577.9" font-size="14.24" fill="#222" text-anchor="middle" textLength="24" lengthAdjust="spacingAndGlyphs" transform="rotate(45 160 573)">0.08</text>
<text x="168.8" y="571.6" font-size="14.24" fill="#222" text-anchor="middle" textLength="17.5" lengthAdjust="spacingAndGlyphs" transform="rotate(45 168.8 566.7)">0.4</text>
<text x="182.7" y="566.5" font-size="14.24" fill="#222" text-anchor="middle" textLength="17.5" lengthAdjust="spacingAndGlyphs" transform="rotate(45 182.7 561.6)">2.0</text>
<text x="178" y="591" font-size="14.53" fill="#222" text-anchor="middle" textLength="66" lengthAdjust="spacingAndGlyphs" transform="rotate(-38 178 586)">Eribulin (μM)</text>
</svg></body></html>
